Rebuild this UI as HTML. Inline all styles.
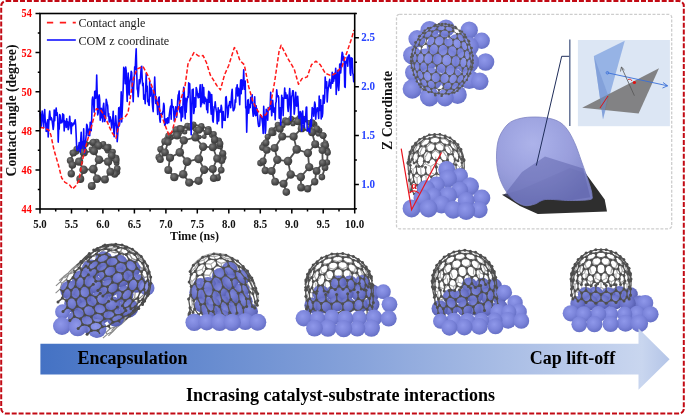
<!DOCTYPE html>
<html><head><meta charset="utf-8"><title>Figure</title>
<style>html,body{margin:0;padding:0;background:#fff;width:685px;height:415px;overflow:hidden}
svg{display:block} text{font-family:"Liberation Serif","Times New Roman",serif}</style></head>
<body>
<svg width="685" height="415" viewBox="0 0 685 415">
<defs>
<radialGradient id="sg" cx="0.42" cy="0.38" r="0.62">
<stop offset="0" stop-color="#8f98ea"/><stop offset="0.6" stop-color="#7b84da"/><stop offset="1" stop-color="#6670c6"/></radialGradient>
<radialGradient id="sgd" cx="0.42" cy="0.38" r="0.62">
<stop offset="0" stop-color="#7f88dc"/><stop offset="0.6" stop-color="#6a72c6"/><stop offset="1" stop-color="#545cae"/></radialGradient>
<radialGradient id="gg" cx="0.4" cy="0.35" r="0.65">
<stop offset="0" stop-color="#7a7a7a"/><stop offset="0.6" stop-color="#4e4e4e"/><stop offset="1" stop-color="#3a3a3a"/></radialGradient>
<linearGradient id="arr" x1="40" y1="0" x2="670" y2="0" gradientUnits="userSpaceOnUse">
<stop offset="0" stop-color="#4472c4"/><stop offset="0.5" stop-color="#86a2da"/><stop offset="0.955" stop-color="#c9d6ef"/><stop offset="1" stop-color="#b3c4e7"/></linearGradient>
<radialGradient id="drop" cx="0.38" cy="0.3" r="0.75">
<stop offset="0" stop-color="#aab0ea"/><stop offset="0.55" stop-color="#959bdb"/><stop offset="1" stop-color="#7a80c6"/></radialGradient>
</defs>
<rect width="685" height="415" fill="#fff"/>
<rect x="1.2" y="1" width="682.6" height="412.6" rx="5" fill="none" stroke="#c20a14" stroke-width="2" stroke-dasharray="5 1.9"/>
<path d="M91 149L94.2 145.7M99.1 147.2L103.6 146.6M99.1 147.2L94.2 145.7M107.3 150.8L111.4 153.2M107.3 150.8L103.6 146.6M112.3 158.7L111.4 153.2" stroke="#505050" stroke-width="1.62" fill="none"/><path d="M76.4 152.1L76.4 149M72.6 152.8L76.4 149M72.6 152.8L73.4 153.1M70.3 160.6L73.4 153.1M70.3 160.6L72.4 165M71.3 173.7L72.4 165M83.9 147.9L85.8 144.2M81.9 144.5L85.8 144.2M81.9 144.5L84.8 143.6M81.9 144.5L76.4 149M80 148.4L84.8 143.6M80 148.4L83.8 152.4M80 148.4L73.4 153.1M79.1 161.7L83.8 152.4M79.1 161.7L83.6 169.8M79.1 161.7L72.4 165M80.3 178.9L83.6 169.8M92.1 142.9L94.2 145.7M92.1 142.9L96.5 141.8M92.1 142.9L85.8 144.2M93.3 142.2L96.5 141.8M93.3 142.2L98.5 145.5M93.3 142.2L84.8 143.6M93.9 151.1L98.5 145.5M93.9 151.1L99 159.8M93.9 151.1L83.8 152.4M93.3 169.2L99 159.8M93.3 169.2L97 178.7M93.3 169.2L83.6 169.8M91.8 185.9L97 178.7M103.3 144L103.6 146.6M103.3 144L108.4 146.9M103.3 144L96.5 141.8M107 148L108.4 146.9M107 148L111.6 155.6M107 148L98.5 145.5M108.1 161.7L111.6 155.6M108.1 161.7L110.4 171.7M108.1 161.7L99 159.8M104.9 179.4L110.4 171.7M104.9 179.4L97 178.7M112.9 151.8L111.4 153.2M112.9 151.8L116.2 157.8M112.9 151.8L108.4 146.9M116.2 160.1L116.2 157.8M116.2 160.1L117.2 168.6M116.2 160.1L111.6 155.6M114.7 174L117.2 168.6M114.7 174L110.4 171.7M116.6 163.1L116.2 157.8M117.1 172.2L117.2 168.6" stroke="#505050" stroke-width="1.8" fill="none"/><g fill="url(#gg)"><circle cx="91" cy="149" r="2.4"/><circle cx="99.1" cy="147.2" r="2.5"/><circle cx="94.2" cy="145.7" r="2.5"/><circle cx="83.9" cy="147.9" r="2.5"/><circle cx="112.3" cy="158.7" r="2.5"/><circle cx="107.3" cy="150.8" r="2.6"/><circle cx="76.4" cy="152.1" r="2.7"/><circle cx="103.6" cy="146.6" r="2.7"/><circle cx="111.4" cy="153.2" r="2.7"/><circle cx="85.8" cy="144.2" r="2.8"/><circle cx="92.1" cy="142.9" r="2.8"/><circle cx="116.6" cy="163.1" r="2.9"/><circle cx="76.4" cy="149" r="3"/><circle cx="103.3" cy="144" r="3"/><circle cx="112.9" cy="151.8" r="3"/><circle cx="81.9" cy="144.5" r="3.1"/><circle cx="96.5" cy="141.8" r="3.1"/><circle cx="117.1" cy="172.2" r="3.1"/><circle cx="72.6" cy="152.8" r="3.1"/><circle cx="116.2" cy="157.8" r="3.1"/><circle cx="108.4" cy="146.9" r="3.2"/><circle cx="84.8" cy="143.6" r="3.4"/><circle cx="117.2" cy="168.6" r="3.4"/><circle cx="93.3" cy="142.2" r="3.5"/><circle cx="116.2" cy="160.1" r="3.5"/><circle cx="73.4" cy="153.1" r="3.5"/><circle cx="70.3" cy="160.6" r="3.5"/><circle cx="107" cy="148" r="3.6"/><circle cx="114.7" cy="174" r="3.7"/><circle cx="71.3" cy="173.7" r="3.7"/><circle cx="80" cy="148.4" r="3.7"/><circle cx="98.5" cy="145.5" r="3.8"/><circle cx="111.6" cy="155.6" r="3.8"/><circle cx="72.4" cy="165" r="3.8"/><circle cx="91.8" cy="185.9" r="4"/><circle cx="110.4" cy="171.7" r="4"/><circle cx="80.3" cy="178.9" r="4"/><circle cx="104.9" cy="179.4" r="4"/><circle cx="83.8" cy="152.4" r="4.1"/><circle cx="108.1" cy="161.7" r="4.1"/><circle cx="93.9" cy="151.1" r="4.1"/><circle cx="79.1" cy="161.7" r="4.1"/><circle cx="97" cy="178.7" r="4.2"/><circle cx="83.6" cy="169.8" r="4.3"/><circle cx="99" cy="159.8" r="4.3"/><circle cx="93.3" cy="169.2" r="4.4"/></g>
<path d="M184.8 132L189.2 128.1M184.8 132L179.2 133.9M195.4 129.2L195.4 133.8M195.4 129.2L189.2 128.1M199.4 137.1L204.3 136.7M199.4 137.1L195.4 133.8M206.2 132.6L204.3 136.7M206.2 132.6L211.8 135.2M213.8 141.3L217.3 146.2M213.8 141.3L211.8 135.2" stroke="#505050" stroke-width="1.62" fill="none"/><path d="M158.8 157.2L160.5 149.2M158.8 157.2L160.2 159.4M166.9 138.9L170.6 137.1M166.9 138.9L168.5 135.6M164.7 141.4L168.5 135.6M164.7 141.4L168 142.1M164.7 141.4L160.5 149.2M165 152.4L168 142.1M165 152.4L170 157.8M165 152.4L160.2 159.4M168.3 169.9L170 157.8M168.3 169.9L174.3 177.2M176.1 132.2L179.2 133.9M176.1 132.2L179.5 128M176.1 132.2L170.6 137.1M175.8 129.5L179.5 128M175.8 129.5L181 128.9M175.8 129.5L168.5 135.6M177 135.6L181 128.9M177 135.6L183.8 140.4M177 135.6L168 142.1M179.8 152.4L183.8 140.4M179.8 152.4L187.1 161.6M179.8 152.4L170 157.8M183.2 174.3L187.1 161.6M183.2 174.3L189.2 182.6M183.2 174.3L174.3 177.2M187.3 125.7L189.2 128.1M187.3 125.7L193.4 124.6M187.3 125.7L179.5 128M191.1 126.2L193.4 124.6M191.1 126.2L198.7 130M191.1 126.2L181 128.9M195.5 137.4L198.7 130M195.5 137.4L203.1 146.7M195.5 137.4L183.8 140.4M198.7 158.9L203.1 146.7M198.7 158.9L204.2 169.7M198.7 158.9L187.1 161.6M198.6 180.8L204.2 169.7M198.6 180.8L189.2 182.6M195.4 129.2L201.3 128.4M201.4 126.2L201.3 128.4M201.4 126.2L208.4 129.2M201.4 126.2L193.4 124.6M208 131.5L208.4 129.2M208 131.5L214.7 139.6M208 131.5L198.7 130M212.8 147.3L214.7 139.6M212.8 147.3L217.1 158.5M212.8 147.3L203.1 146.7M212.8 168.9L217.1 158.5M212.8 168.9L213.7 178.2M212.8 168.9L204.2 169.7M206.2 132.6L201.3 128.4M213.8 134L211.8 135.2M213.8 134L218.9 140.5M213.8 134L208.4 129.2M220 143.7L218.9 140.5M220 143.7L222.9 153.4M220 143.7L214.7 139.6M221.7 160.4L222.9 153.4M221.7 160.4L221.2 170.1M221.7 160.4L217.1 158.5M217.4 177.7L221.2 170.1M217.4 177.7L213.7 178.2M220.2 146.4L217.3 146.2M220.2 146.4L222 154M220.2 146.4L218.9 140.5M223.4 157.6L222 154M223.4 157.6L222.9 153.4" stroke="#505050" stroke-width="1.8" fill="none"/><g fill="url(#gg)"><circle cx="199.4" cy="137.1" r="2.3"/><circle cx="195.4" cy="133.8" r="2.4"/><circle cx="204.3" cy="136.7" r="2.4"/><circle cx="184.8" cy="132" r="2.5"/><circle cx="179.2" cy="133.9" r="2.5"/><circle cx="213.8" cy="141.3" r="2.6"/><circle cx="195.4" cy="129.2" r="2.6"/><circle cx="217.3" cy="146.2" r="2.6"/><circle cx="206.2" cy="132.6" r="2.6"/><circle cx="189.2" cy="128.1" r="2.7"/><circle cx="170.6" cy="137.1" r="2.7"/><circle cx="211.8" cy="135.2" r="2.7"/><circle cx="176.1" cy="132.2" r="2.8"/><circle cx="201.3" cy="128.4" r="2.8"/><circle cx="222" cy="154" r="2.9"/><circle cx="220.2" cy="146.4" r="2.9"/><circle cx="166.9" cy="138.9" r="2.9"/><circle cx="187.3" cy="125.7" r="3"/><circle cx="179.5" cy="128" r="3"/><circle cx="213.8" cy="134" r="3"/><circle cx="223.4" cy="157.6" r="3.1"/><circle cx="201.4" cy="126.2" r="3.1"/><circle cx="218.9" cy="140.5" r="3.1"/><circle cx="193.4" cy="124.6" r="3.2"/><circle cx="168.5" cy="135.6" r="3.2"/><circle cx="160.5" cy="149.2" r="3.2"/><circle cx="208.4" cy="129.2" r="3.2"/><circle cx="175.8" cy="129.5" r="3.3"/><circle cx="158.8" cy="157.2" r="3.3"/><circle cx="222.9" cy="153.4" r="3.4"/><circle cx="220" cy="143.7" r="3.4"/><circle cx="221.2" cy="170.1" r="3.4"/><circle cx="164.7" cy="141.4" r="3.4"/><circle cx="217.4" cy="177.7" r="3.5"/><circle cx="191.1" cy="126.2" r="3.5"/><circle cx="160.2" cy="159.4" r="3.6"/><circle cx="181" cy="128.9" r="3.6"/><circle cx="221.7" cy="160.4" r="3.6"/><circle cx="208" cy="131.5" r="3.6"/><circle cx="214.7" cy="139.6" r="3.7"/><circle cx="168" cy="142.1" r="3.7"/><circle cx="213.7" cy="178.2" r="3.8"/><circle cx="198.7" cy="130" r="3.8"/><circle cx="165" cy="152.4" r="3.9"/><circle cx="177" cy="135.6" r="3.9"/><circle cx="217.1" cy="158.5" r="3.9"/><circle cx="212.8" cy="147.3" r="4"/><circle cx="168.3" cy="169.9" r="4"/><circle cx="212.8" cy="168.9" r="4"/><circle cx="174.3" cy="177.2" r="4.1"/><circle cx="170" cy="157.8" r="4.1"/><circle cx="195.5" cy="137.4" r="4.1"/><circle cx="198.6" cy="180.8" r="4.1"/><circle cx="189.2" cy="182.6" r="4.1"/><circle cx="183.8" cy="140.4" r="4.2"/><circle cx="203.1" cy="146.7" r="4.2"/><circle cx="204.2" cy="169.7" r="4.2"/><circle cx="183.2" cy="174.3" r="4.3"/><circle cx="179.8" cy="152.4" r="4.3"/><circle cx="198.7" cy="158.9" r="4.4"/><circle cx="187.1" cy="161.6" r="4.4"/></g>
<path d="M299.2 123L301.1 127.7M299.2 123L293 123.7M314 132.6L318.4 133.9M314 132.6L310.2 127.7" stroke="#505050" stroke-width="1.62" fill="none"/><path d="M263.8 144.4L267.6 136.8M263.8 144.4L262.4 147.6M277.8 127L282.9 125.6M277.8 127L277.8 124.8M277.8 127L273.7 133.3M271.8 130.4L277.8 124.8M271.8 130.4L271.8 132.8M271.8 130.4L267.6 136.8M266 142.7L271.8 132.8M266 142.7L266.8 150M266 142.7L262.4 147.6M263.1 161.2L266.8 150M263.1 161.2L265.3 170.5M263.1 161.2L260.5 163.1M288.9 121.7L293 123.7M288.9 121.7L291.2 118.7M288.9 121.7L282.9 125.6M285.3 120.4L291.2 118.7M285.3 120.4L287.5 121.9M285.3 120.4L277.8 124.8M280 128.9L287.5 121.9M280 128.9L282.2 136.5M280 128.9L271.8 132.8M274.6 148L282.2 136.5M274.6 148L277.3 159.8M274.6 148L266.8 150M271.6 171.1L277.3 159.8M271.6 171.1L275.1 181.7M271.6 171.1L265.3 170.5M299.2 123L303 120.3M299.4 118L303 120.3M299.4 118L303.5 119.1M299.4 118L291.2 118.7M297.7 121.4L303.5 119.1M297.7 121.4L301.6 128.4M297.7 121.4L287.5 121.9M293.6 136.6L301.6 128.4M293.6 136.6L296.7 149.4M293.6 136.6L282.2 136.5M288 161.1L296.7 149.4M288 161.1L290.7 174.5M288 161.1L277.3 159.8M283.6 183.7L290.7 174.5M283.6 183.7L286.3 192.1M283.6 183.7L275.1 181.7M309.6 123L310.2 127.7M309.6 123L314.4 124.2M309.6 123L303 120.3M312.2 122.6L314.4 124.2M312.2 122.6L316.7 128.8M312.2 122.6L303.5 119.1M312 132.3L316.7 128.8M312 132.3L315.2 144.2M312 132.3L301.6 128.4M307.9 153L315.2 144.2M307.9 153L309.2 167.1M307.9 153L296.7 149.4M300.8 177L309.2 167.1M300.8 177L301.1 187.5M300.8 177L290.7 174.5M319.5 130.3L318.4 133.9M319.5 130.3L323.5 135.5M319.5 130.3L314.4 124.2M323 135.6L323.5 135.5M323 135.6L325.6 145.4M323 135.6L316.7 128.8M322.4 150.3L325.6 145.4M322.4 150.3L322.6 162.9M322.4 150.3L315.2 144.2M316.6 170.9L322.6 162.9M316.6 170.9L314.7 181.7M316.6 170.9L309.2 167.1M307.6 188.7L314.7 181.7M307.6 188.7L301.1 187.5M325.4 143.2L323.1 144.8M325.4 143.2L327.1 150.6M325.4 143.2L323.5 135.5M327.7 152.5L327.1 150.6M327.7 152.5L327 162.5M327.7 152.5L325.6 145.4M325 167.7L327 162.5M325 167.7L321.9 177.1M325 167.7L322.6 162.9" stroke="#505050" stroke-width="1.8" fill="none"/><g fill="url(#gg)"><circle cx="301.1" cy="127.7" r="2.4"/><circle cx="314" cy="132.6" r="2.5"/><circle cx="310.2" cy="127.7" r="2.6"/><circle cx="293" cy="123.7" r="2.6"/><circle cx="299.2" cy="123" r="2.6"/><circle cx="323.1" cy="144.8" r="2.7"/><circle cx="318.4" cy="133.9" r="2.7"/><circle cx="273.7" cy="133.3" r="2.7"/><circle cx="282.9" cy="125.6" r="2.7"/><circle cx="288.9" cy="121.7" r="2.8"/><circle cx="309.6" cy="123" r="2.8"/><circle cx="277.8" cy="127" r="2.8"/><circle cx="303" cy="120.3" r="2.8"/><circle cx="325.4" cy="143.2" r="2.9"/><circle cx="319.5" cy="130.3" r="2.9"/><circle cx="327.1" cy="150.6" r="3"/><circle cx="267.6" cy="136.8" r="3"/><circle cx="263.8" cy="144.4" r="3"/><circle cx="314.4" cy="124.2" r="3"/><circle cx="291.2" cy="118.7" r="3"/><circle cx="323.5" cy="135.5" r="3.1"/><circle cx="299.4" cy="118" r="3.1"/><circle cx="277.8" cy="124.8" r="3.1"/><circle cx="271.8" cy="130.4" r="3.2"/><circle cx="327" cy="162.5" r="3.2"/><circle cx="327.7" cy="152.5" r="3.2"/><circle cx="285.3" cy="120.4" r="3.2"/><circle cx="262.4" cy="147.6" r="3.3"/><circle cx="321.9" cy="177.1" r="3.3"/><circle cx="312.2" cy="122.6" r="3.3"/><circle cx="260.5" cy="163.1" r="3.3"/><circle cx="303.5" cy="119.1" r="3.4"/><circle cx="323" cy="135.6" r="3.4"/><circle cx="325" cy="167.7" r="3.4"/><circle cx="325.6" cy="145.4" r="3.5"/><circle cx="271.8" cy="132.8" r="3.5"/><circle cx="266" cy="142.7" r="3.5"/><circle cx="316.7" cy="128.8" r="3.5"/><circle cx="287.5" cy="121.9" r="3.6"/><circle cx="263.1" cy="161.2" r="3.6"/><circle cx="297.7" cy="121.4" r="3.6"/><circle cx="307.6" cy="188.7" r="3.7"/><circle cx="314.7" cy="181.7" r="3.7"/><circle cx="265.3" cy="170.5" r="3.7"/><circle cx="280" cy="128.9" r="3.7"/><circle cx="322.6" cy="162.9" r="3.7"/><circle cx="286.3" cy="192.1" r="3.8"/><circle cx="266.8" cy="150" r="3.8"/><circle cx="322.4" cy="150.3" r="3.8"/><circle cx="312" cy="132.3" r="3.9"/><circle cx="301.1" cy="187.5" r="3.9"/><circle cx="275.1" cy="181.7" r="3.9"/><circle cx="316.6" cy="170.9" r="3.9"/><circle cx="301.6" cy="128.4" r="3.9"/><circle cx="271.6" cy="171.1" r="4"/><circle cx="315.2" cy="144.2" r="4"/><circle cx="283.6" cy="183.7" r="4"/><circle cx="282.2" cy="136.5" r="4"/><circle cx="274.6" cy="148" r="4"/><circle cx="293.6" cy="136.6" r="4.1"/><circle cx="300.8" cy="177" r="4.2"/><circle cx="309.2" cy="167.1" r="4.2"/><circle cx="277.3" cy="159.8" r="4.2"/><circle cx="307.9" cy="153" r="4.2"/><circle cx="290.7" cy="174.5" r="4.2"/><circle cx="296.7" cy="149.4" r="4.3"/><circle cx="288" cy="161.1" r="4.3"/></g>
<polyline fill="none" stroke="#0a0aff" stroke-width="1.6" stroke-linejoin="round" points="40.2,112.1 40.7,119.3 41.2,126.2 41.7,119.1 42.2,111 42.7,116 43.2,121.5 43.7,127.8 44.2,115.1 44.7,109.5 45.2,120.5 45.7,123.3 46.2,131.5 46.7,131.1 47.2,123.8 47.7,119.7 48.2,137 48.7,124.9 49.2,116.7 49.7,111.1 50.2,117.1 50.7,119.8 51.2,117.6 51.7,118.6 52.2,121.3 52.7,125.2 53.2,129.5 53.7,125.2 54.2,110 54.7,120.7 55.2,110.6 55.7,115.1 56.2,108 56.7,115.2 57.2,112.8 57.7,118.6 58.2,142.1 58.7,128.5 59.2,129.2 59.7,114.6 60.2,115.8 60.7,122.9 61.2,120.5 61.7,122.8 62.2,121.8 62.7,113.7 63.2,121.4 63.7,114.9 64.2,131 64.7,120.9 65.2,125.2 65.7,122.1 66.2,127.5 66.7,118.8 67.2,126.6 67.7,121.7 68.2,129.6 68.7,128.3 69.2,124.3 69.7,116.2 70.2,123.9 70.7,124.9 71.2,133.7 71.7,122.8 72.2,125.1 72.7,125.7 73.2,124.3 73.7,123.2 74.2,123.9 74.7,121.5 75.2,119.7 75.7,125.3 76.2,136.2 76.7,148.5 77.2,150.4 77.7,150.5 78.2,148.5 78.7,146.9 79.2,142.5 79.7,144.6 80.2,152.2 80.7,140.1 81.2,132.3 81.7,148.3 82.2,141.8 82.7,144.4 83.2,144.5 83.7,128.8 84.2,149.9 84.7,153.1 85.2,141.4 85.7,140.6 86.2,134.9 86.7,124.3 87.2,125.5 87.7,129.2 88.2,135.8 88.7,134.8 89.2,129 89.7,135.7 90.2,122.4 90.7,127.9 91.2,130.7 91.7,118.7 92.2,100.1 92.7,97 93.2,102.5 93.7,104.9 94.2,112.2 94.7,91.4 95.2,91.2 95.7,98.2 96.2,94.6 96.7,75.1 97.2,94.4 97.7,114.9 98.2,112.8 98.7,96.7 99.2,94.9 99.7,99.8 100.2,120.2 100.7,114.1 101.2,108.2 101.7,117.8 102.2,109.2 102.7,121.7 103.2,107.1 103.7,103.4 104.2,112 104.7,121.5 105.2,119.8 105.7,116.8 106.2,99.4 106.7,101.7 107.2,104 107.7,106 108.2,116.3 108.7,113.6 109.2,122 109.7,120.3 110.2,116.8 110.7,119.2 111.2,122.9 111.7,128 112.2,120.3 112.7,119.5 113.2,111.2 113.7,129.9 114.2,136.6 114.7,127.9 115.2,122.8 115.7,115.9 116.2,123.2 116.7,126.7 117.2,141.6 117.7,135.1 118.2,125.1 118.7,107.9 119.2,126 119.7,123.7 120.2,106.8 120.7,108.7 121.2,91.9 121.7,122 122.2,111.8 122.7,99.7 123.2,87.5 123.7,67.4 124.2,76.8 124.7,68.7 125.2,83.7 125.7,67.1 126.2,70.9 126.7,90.2 127.2,101.5 127.7,83.1 128.2,73.1 128.7,88.8 129.2,95 129.7,83 130.2,80 130.7,77.5 131.2,71.4 131.7,72.3 132.2,88.6 132.7,89.5 133.2,101.6 133.7,86.2 134.2,78.7 134.7,66.8 135.2,69.5 135.7,57.8 136.2,48.9 136.7,71.6 137.2,88.7 137.7,90.6 138.2,96.7 138.7,90.1 139.2,79.7 139.7,83.7 140.2,81.8 140.7,74.8 141.2,67.2 141.7,66.3 142.2,79 142.7,85.7 143.2,83.3 143.7,99.1 144.2,94.9 144.7,97 145.2,103.7 145.7,89 146.2,73.5 146.7,91.1 147.2,86 147.7,101.6 148.2,99.7 148.7,105 149.2,105.3 149.7,81.2 150.2,96.1 150.7,90.4 151.2,87.8 151.7,90 152.2,101.6 152.7,107.6 153.2,111.6 153.7,90.4 154.2,91.6 154.7,77 155.2,91.3 155.7,103.4 156.2,96.9 156.7,103.3 157.2,106.2 157.7,114.5 158.2,102.3 158.7,97.8 159.2,97 159.7,118.8 160.2,122.2 160.7,113.7 161.2,113.8 161.7,113.4 162.2,114.5 162.7,112.1 163.2,110.6 163.7,103.3 164.2,105.8 164.7,125.3 165.2,124.9 165.7,121.6 166.2,118.7 166.7,120.1 167.2,123.4 167.7,117.9 168.2,121.7 168.7,122.7 169.2,115.5 169.7,111.8 170.2,108.3 170.7,106 171.2,119.3 171.7,99.6 172.2,107.1 172.7,107 173.2,106.5 173.7,111.4 174.2,121 174.7,116.2 175.2,112.2 175.7,106.8 176.2,108.2 176.7,117.2 177.2,109.8 177.7,100.3 178.2,95.2 178.7,94.1 179.2,91 179.7,111.2 180.2,112.6 180.7,107.7 181.2,120.9 181.7,106.7 182.2,113.8 182.7,117 183.2,96 183.7,87.2 184.2,89.4 184.7,107.7 185.2,118.7 185.7,98.2 186.2,112.3 186.7,103.5 187.2,99.7 187.7,96.5 188.2,97.3 188.7,82.9 189.2,85.1 189.7,83.7 190.2,99.5 190.7,120.6 191.2,134.8 191.7,111.7 192.2,89.7 192.7,92.8 193.2,89.1 193.7,113.5 194.2,110.6 194.7,97.9 195.2,107.1 195.7,107.1 196.2,87.5 196.7,89.2 197.2,92.2 197.7,95.6 198.2,97.8 198.7,93.9 199.2,97.3 199.7,90.6 200.2,84.8 200.7,106.8 201.2,104.2 201.7,104 202.2,84.5 202.7,90.6 203.2,102.4 203.7,87.5 204.2,103.8 204.7,96.8 205.2,101.2 205.7,98.4 206.2,100.4 206.7,109.8 207.2,99.9 207.7,112.7 208.2,98.2 208.7,91.4 209.2,102.2 209.7,92.4 210.2,94.5 210.7,106.3 211.2,114.1 211.7,94.6 212.2,105.2 212.7,120.6 213.2,122.1 213.7,112.5 214.2,106.6 214.7,107.2 215.2,101.8 215.7,106.9 216.2,110.2 216.7,112.5 217.2,123.8 217.7,118.7 218.2,107.8 218.7,120.9 219.2,110.2 219.7,110.2 220.2,112.1 220.7,111 221.2,105.2 221.7,108.2 222.2,127.7 222.7,113.7 223.2,111.5 223.7,120 224.2,120.2 224.7,120.1 225.2,120.4 225.7,97.6 226.2,96.7 226.7,103.9 227.2,109.3 227.7,117.5 228.2,113.6 228.7,105.9 229.2,104.6 229.7,101.6 230.2,103.7 230.7,107.7 231.2,100.3 231.7,93 232.2,89.2 232.7,103.7 233.2,110.7 233.7,110.6 234.2,109 234.7,107.8 235.2,99.7 235.7,102.2 236.2,87.7 236.7,89.2 237.2,84.7 237.7,95.9 238.2,88.2 238.7,89.1 239.2,94 239.7,104.8 240.2,88.4 240.7,80.1 241.2,93.6 241.7,79.9 242.2,89.5 242.7,82.9 243.2,85.1 243.7,69.8 244.2,89.3 244.7,85.8 245.2,81.1 245.7,108.1 246.2,106.4 246.7,132.2 247.2,114.1 247.7,100.4 248.2,99.6 248.7,113.2 249.2,104.6 249.7,105.8 250.2,107.6 250.7,97.2 251.2,102.9 251.7,100.8 252.2,94.8 252.7,110.7 253.2,116.3 253.7,114.7 254.2,107.2 254.7,96.7 255.2,112.8 255.7,115.7 256.2,105.9 256.7,115.1 257.2,109 257.7,118.5 258.2,123.6 258.7,126.4 259.2,126.2 259.7,125.5 260.2,115.5 260.7,116.6 261.2,115.8 261.7,117.2 262.2,121.1 262.7,124.9 263.2,133.4 263.7,106.2 264.2,116.5 264.7,115.9 265.2,133.3 265.7,130.1 266.2,109.2 266.7,115.8 267.2,111 267.7,120.3 268.2,107.6 268.7,109.6 269.2,109.7 269.7,109.6 270.2,105.1 270.7,92.3 271.2,106 271.7,115.7 272.2,110.3 272.7,100.2 273.2,106.6 273.7,112.2 274.2,108.2 274.7,108 275.2,119.8 275.7,103.4 276.2,101.6 276.7,89.8 277.2,95 277.7,96.8 278.2,95.8 278.7,97.5 279.2,118.2 279.7,110.5 280.2,107.9 280.7,125 281.2,113.6 281.7,95.3 282.2,105 282.7,97.7 283.2,115.6 283.7,98.9 284.2,97.4 284.7,88.1 285.2,98.2 285.7,92.7 286.2,98.2 286.7,97.5 287.2,95 287.7,106.9 288.2,111.4 288.7,105.6 289.2,94.7 289.7,88.6 290.2,97.9 290.7,120.5 291.2,105.4 291.7,96.9 292.2,94.7 292.7,90.8 293.2,90.7 293.7,97.5 294.2,114.2 294.7,109.3 295.2,103.5 295.7,92.4 296.2,103.4 296.7,106.2 297.2,98 297.7,96.2 298.2,104.3 298.7,116.3 299.2,118.4 299.7,116.2 300.2,111.5 300.7,114.9 301.2,114 301.7,131 302.2,112.3 302.7,111.1 303.2,123.5 303.7,117 304.2,127.6 304.7,120.9 305.2,120 305.7,116 306.2,107.2 306.7,107.1 307.2,130.9 307.7,129.2 308.2,128.4 308.7,130.9 309.2,129.4 309.7,132.4 310.2,123.9 310.7,119.8 311.2,126.4 311.7,118.6 312.2,107.6 312.7,110.7 313.2,108.9 313.7,116.2 314.2,108.5 314.7,102.1 315.2,104.4 315.7,119.3 316.2,112.2 316.7,110.4 317.2,107.8 317.7,108.4 318.2,113.2 318.7,118.4 319.2,96.1 319.7,110.5 320.2,105 320.7,99.9 321.2,118.9 321.7,105.8 322.2,116.9 322.7,113.1 323.2,95.4 323.7,99.9 324.2,103.2 324.7,97.3 325.2,77.1 325.7,84.3 326.2,87.9 326.7,81.7 327.2,102 327.7,93.4 328.2,88.3 328.7,86.6 329.2,81.6 329.7,79.3 330.2,84.8 330.7,88.2 331.2,82.6 331.7,83.1 332.2,72.4 332.7,83.1 333.2,76.5 333.7,81.3 334.2,73.5 334.7,73.1 335.2,78.5 335.7,68.3 336.2,94.5 336.7,83.5 337.2,78.4 337.7,70.2 338.2,86.3 338.7,90.5 339.2,82.4 339.7,64.3 340.2,64 340.7,72.9 341.2,66 341.7,56.8 342.2,52.4 342.7,53.7 343.2,60.5 343.7,56.8 344.2,60.6 344.7,86.7 345.2,87.4 345.7,61.4 346.2,63.1 346.7,60.8 347.2,57.2 347.7,66.2 348.2,57.3 348.7,55.3 349.2,55 349.7,58.2 350.2,73.1 350.7,75.2 351.2,57.8 351.7,59.8 352.2,58.4 352.7,73 353.2,74.5 353.7,81.7 354.2,77.2"/>
<polyline fill="none" stroke="#ff1a1a" stroke-width="1.5" stroke-dasharray="4.2 2.1" stroke-linejoin="round" points="40,127.6 44,128 48.7,130 50.8,134.7 54,150 58.4,165 61.7,178 65,182.4 69.3,184.6 72.5,189 75.8,185.7 79,180.3 82.3,160.7 86.6,143.4 91,128 94.2,116.3 96.4,108.7 100.7,110 105,116.7 111.6,132 116,138 120,119.6 125,117 128,113 133,79.8 137,69 143,66.5 148,75.8 152,86.4 157,101 162,117 165,124.9 169,135.5 172,131.5 176,117 180,102 185,86.4 188,63.9 190,60 193.9,52.6 198.5,56 203.1,55.6 206.5,62.8 210.3,75 216.9,85.6 220.4,89.9 224.6,74.6 228.8,65.3 234.3,47.6 236,49 239.9,60.4 244.3,64.7 248.6,86.4 252.9,101.6 257.3,110 262,117 266,114.5 270.3,106 274.6,82 279,51.7 281.1,45.2 287.7,58.2 294.2,69 298.5,84.3 302,78.6 307.2,76.9 311.5,64.7 315.9,61.2 320.2,64.7 325.4,73.4 331,75.6 335.4,73.4 341.9,66.9 347.1,51.7 351.5,38.7 354,30"/>
<rect x="40.0" y="13.5" width="314.7" height="195.5" fill="none" stroke="#000" stroke-width="1.6"/>
<path d="M40.0 209h-4.5M40.0 189.4h-2.2M40.0 169.9h-4.5M40.0 150.3h-2.2M40.0 130.8h-4.5M40.0 111.2h-2.2M40.0 91.7h-4.5M40.0 72.2h-2.2M40.0 52.6h-4.5M40.0 33.1h-2.2M40.0 13.5h-4.5M40 209.0v4.5M55.7 209.0v2.4M71.5 209.0v4.5M87.2 209.0v2.4M102.9 209.0v4.5M118.7 209.0v2.4M134.4 209.0v4.5M150.1 209.0v2.4M165.9 209.0v4.5M181.6 209.0v2.4M197.3 209.0v4.5M213.1 209.0v2.4M228.8 209.0v4.5M244.6 209.0v2.4M260.3 209.0v4.5M276 209.0v2.4M291.8 209.0v4.5M307.5 209.0v2.4M323.2 209.0v4.5M339 209.0v2.4M354.7 209.0v4.5M354.7 208.8h2.2M354.7 184.4h4.2M354.7 160h2.2M354.7 135.6h4.2M354.7 111.1h2.2M354.7 86.7h4.2M354.7 62.3h2.2M354.7 37.8h4.2M354.7 13.4h2.2" stroke="#000" stroke-width="1.5" fill="none"/>
<text x="31.8" y="212.9" text-anchor="end" font-size="13.2" font-weight="bold" fill="#ff0000" textLength="10.3" lengthAdjust="spacingAndGlyphs">44</text>
<text x="31.8" y="173.8" text-anchor="end" font-size="13.2" font-weight="bold" fill="#ff0000" textLength="10.3" lengthAdjust="spacingAndGlyphs">46</text>
<text x="31.8" y="134.7" text-anchor="end" font-size="13.2" font-weight="bold" fill="#ff0000" textLength="10.3" lengthAdjust="spacingAndGlyphs">48</text>
<text x="31.8" y="95.6" text-anchor="end" font-size="13.2" font-weight="bold" fill="#ff0000" textLength="10.3" lengthAdjust="spacingAndGlyphs">50</text>
<text x="31.8" y="56.5" text-anchor="end" font-size="13.2" font-weight="bold" fill="#ff0000" textLength="10.3" lengthAdjust="spacingAndGlyphs">52</text>
<text x="31.8" y="17.4" text-anchor="end" font-size="13.2" font-weight="bold" fill="#ff0000" textLength="10.3" lengthAdjust="spacingAndGlyphs">54</text>
<text x="361.2" y="188" font-size="12" font-weight="bold" fill="#2a45ff" textLength="13.8" lengthAdjust="spacingAndGlyphs">1.0</text>
<text x="361.2" y="139.2" font-size="12" font-weight="bold" fill="#2a45ff" textLength="13.8" lengthAdjust="spacingAndGlyphs">1.5</text>
<text x="361.2" y="90.3" font-size="12" font-weight="bold" fill="#2a45ff" textLength="13.8" lengthAdjust="spacingAndGlyphs">2.0</text>
<text x="361.2" y="41.4" font-size="12" font-weight="bold" fill="#2a45ff" textLength="13.8" lengthAdjust="spacingAndGlyphs">2.5</text>
<text x="40" y="227.6" text-anchor="middle" font-size="12" font-weight="bold" fill="#111" textLength="13.5" lengthAdjust="spacingAndGlyphs">5.0</text>
<text x="71.5" y="227.6" text-anchor="middle" font-size="12" font-weight="bold" fill="#111" textLength="13.5" lengthAdjust="spacingAndGlyphs">5.5</text>
<text x="102.9" y="227.6" text-anchor="middle" font-size="12" font-weight="bold" fill="#111" textLength="13.5" lengthAdjust="spacingAndGlyphs">6.0</text>
<text x="134.4" y="227.6" text-anchor="middle" font-size="12" font-weight="bold" fill="#111" textLength="13.5" lengthAdjust="spacingAndGlyphs">6.5</text>
<text x="165.9" y="227.6" text-anchor="middle" font-size="12" font-weight="bold" fill="#111" textLength="13.5" lengthAdjust="spacingAndGlyphs">7.0</text>
<text x="197.3" y="227.6" text-anchor="middle" font-size="12" font-weight="bold" fill="#111" textLength="13.5" lengthAdjust="spacingAndGlyphs">7.5</text>
<text x="228.8" y="227.6" text-anchor="middle" font-size="12" font-weight="bold" fill="#111" textLength="13.5" lengthAdjust="spacingAndGlyphs">8.0</text>
<text x="260.3" y="227.6" text-anchor="middle" font-size="12" font-weight="bold" fill="#111" textLength="13.5" lengthAdjust="spacingAndGlyphs">8.5</text>
<text x="291.8" y="227.6" text-anchor="middle" font-size="12" font-weight="bold" fill="#111" textLength="13.5" lengthAdjust="spacingAndGlyphs">9.0</text>
<text x="323.2" y="227.6" text-anchor="middle" font-size="12" font-weight="bold" fill="#111" textLength="13.5" lengthAdjust="spacingAndGlyphs">9.5</text>
<text x="354.7" y="227.6" text-anchor="middle" font-size="12" font-weight="bold" fill="#111" textLength="19.2" lengthAdjust="spacingAndGlyphs">10.0</text>
<text x="194.5" y="239.5" text-anchor="middle" font-size="12" font-weight="bold" fill="#111">Time (ns)</text>
<text transform="translate(16.4 110.5) rotate(-90)" text-anchor="middle" font-size="13.7" font-weight="bold" fill="#111" textLength="132" lengthAdjust="spacingAndGlyphs">Contact angle (degree)</text>
<text transform="translate(392 110.4) rotate(-90)" text-anchor="middle" font-size="13.8" font-weight="bold" fill="#111" textLength="79" lengthAdjust="spacingAndGlyphs">Z Coordinate</text>
<path d="M46.9 22.6H75.8" stroke="#ff1a1a" stroke-width="1.6" stroke-dasharray="6.3 6.6"/>
<path d="M46.9 40H75.8" stroke="#2020ff" stroke-width="1.7"/>
<text x="78.4" y="27.4" font-size="13.5" fill="#1a1a1a" textLength="67" lengthAdjust="spacingAndGlyphs">Contact angle</text>
<text x="78.4" y="44.8" font-size="13.5" fill="#1a1a1a" textLength="90.8" lengthAdjust="spacingAndGlyphs">COM z coordinate</text>
<rect x="396.5" y="14.3" width="275.2" height="214.5" rx="3" fill="none" stroke="#cdcdcd" stroke-width="1.3" stroke-dasharray="3 1.6"/>
<circle cx="446" cy="28.2" r="8.7" fill="url(#sg)"/><circle cx="429.6" cy="30.2" r="9.2" fill="url(#sg)"/><circle cx="469.2" cy="30.2" r="8.7" fill="url(#sg)"/><circle cx="417.1" cy="38.8" r="8.7" fill="url(#sg)"/><circle cx="481.7" cy="40.8" r="8.2" fill="url(#sg)"/><circle cx="438.3" cy="45.6" r="11.6" fill="url(#sg)"/><circle cx="457.6" cy="45.6" r="11.6" fill="url(#sg)"/><circle cx="469.2" cy="46.6" r="9.7" fill="url(#sg)"/><circle cx="412.3" cy="55.2" r="9.2" fill="url(#sg)"/><circle cx="425.8" cy="60.1" r="11.6" fill="url(#sg)"/><circle cx="485.6" cy="62" r="8.7" fill="url(#sg)"/><circle cx="447" cy="62" r="12.6" fill="url(#sg)"/><circle cx="467.3" cy="62" r="11.6" fill="url(#sg)"/><circle cx="414.2" cy="72.6" r="9.2" fill="url(#sg)"/><circle cx="430.6" cy="79.4" r="11.6" fill="url(#sg)"/><circle cx="451.8" cy="79.4" r="11.6" fill="url(#sg)"/><circle cx="469.2" cy="79.4" r="9.7" fill="url(#sg)"/><circle cx="479.8" cy="81.3" r="8.7" fill="url(#sg)"/><circle cx="412.3" cy="89" r="9.7" fill="url(#sg)"/><circle cx="457.6" cy="94.8" r="9.2" fill="url(#sg)"/><circle cx="429.6" cy="96.7" r="9.7" fill="url(#sg)"/><circle cx="445.1" cy="97.7" r="8.7" fill="url(#sg)"/>
<path d="M410.9 61.1L411.2 56.9M410.9 61.1L411.4 63.2M411.7 67.7L411.4 63.2M411.7 67.7L413 70.4M413.8 74.7L413 70.4M413.8 74.7L415.7 77.8M416.9 81.4L415.7 77.8M416.9 81.4L419.3 84.4M420.7 87L419.3 84.4M420.7 87L423.5 89.5M411.9 54.1L412.7 49.8M411.9 54.1L412.8 55.9M411.9 54.1L411.2 56.9M412.5 60.9L412.8 55.9M412.5 60.9L414.3 63.5M412.5 60.9L411.4 63.2M414.4 68.7L414.3 63.5M414.4 68.7L417 71.8M414.4 68.7L413 70.4M417.5 76.7L417 71.8M417.5 76.7L420.5 79.9M417.5 76.7L415.7 77.8M421.2 84L420.5 79.9M421.2 84L424.5 86.9M421.2 84L419.3 84.4M425.4 89.8L424.5 86.9M425.4 89.8L428.7 92.1M425.4 89.8L423.5 89.5M415.4 42.4L415.8 42.5M414.5 46.6L415.8 42.5M414.5 46.6L415.9 47.9M414.5 46.6L412.7 49.8M415 53L415.9 47.9M415 53L417.3 55.4M415 53L412.8 55.9M416.9 61L417.3 55.4M416.9 61L419.9 64.1M416.9 61L414.3 63.5M419.8 69.8L419.9 64.1M419.8 69.8L423.3 73.2M419.8 69.8L417 71.8M423.5 78.4L423.3 73.2M423.5 78.4L427.3 81.7M423.5 78.4L420.5 79.9M427.5 86.1L427.3 81.7M427.5 86.1L431.3 88.9M427.5 86.1L424.5 86.9M431.6 91.9L431.3 88.9M431.6 91.9L435.1 93.8M431.6 91.9L428.7 92.1M435.3 95.3L435.1 93.8M419.1 36.4L419.9 35.9M418.4 39.2L419.9 35.9M418.4 39.2L420.2 40.1M418.4 39.2L415.8 42.5M419 44.7L420.2 40.1M419 44.7L421.6 46.8M419 44.7L415.9 47.9M420.8 52.4L421.6 46.8M420.8 52.4L424.2 55.3M420.8 52.4L417.3 55.4M423.7 61.4L424.2 55.3M423.7 61.4L427.6 64.8M423.7 61.4L419.9 64.1M427.3 70.9L427.6 64.8M427.3 70.9L431.4 74.4M427.3 70.9L423.3 73.2M431.2 79.9L431.4 74.4M431.2 79.9L435.3 83.1M431.2 79.9L427.3 81.7M435.1 87.6L435.3 83.1M435.1 87.6L439 90M435.1 87.6L431.3 88.9M438.7 93.2L439 90M438.7 93.2L442 94.5M438.7 93.2L435.1 93.8M441.6 95.9L442 94.5M423.1 32.9L424.7 30.6M423.1 32.9L425.2 33.1M423.1 32.9L419.9 35.9M423.8 37L425.2 33.1M423.8 37L426.8 38.5M423.8 37L420.2 40.1M425.8 43.7L426.8 38.5M425.8 43.7L429.5 46.3M425.8 43.7L421.6 46.8M428.7 52.3L429.5 46.3M428.7 52.3L432.8 55.6M428.7 52.3L424.2 55.3M432.3 62L432.8 55.6M432.3 62L436.6 65.7M432.3 62L427.6 64.8M436.1 71.9L436.6 65.7M436.1 71.9L440.5 75.4M436.1 71.9L431.4 74.4M439.9 81L440.5 75.4M439.9 81L443.9 84M439.9 81L435.3 83.1M443.2 88.4L443.9 84M443.2 88.4L446.8 90.4M443.2 88.4L439 90M445.9 93.4L446.8 90.4M445.9 93.4L448.7 94.1M445.9 93.4L442 94.5M428.1 28.2L430.4 27.9M428.1 28.2L424.7 30.6M429.2 30.5L430.4 27.9M429.2 30.5L432.3 31.5M429.2 30.5L425.2 33.1M431.3 35.7L432.3 31.5M431.3 35.7L435.1 38M431.3 35.7L426.8 38.5M434.3 43.4L435.1 38M434.3 43.4L438.6 46.5M434.3 43.4L429.5 46.3M437.9 52.7L438.6 46.5M437.9 52.7L442.4 56.4M437.9 52.7L432.8 55.6M441.7 62.9L442.4 56.4M441.7 62.9L446.1 66.6M441.7 62.9L436.6 65.7M445.4 72.9L446.1 66.6M445.4 72.9L449.5 76.2M445.4 72.9L440.5 75.4M448.6 81.7L449.5 76.2M448.6 81.7L452.1 84.2M448.6 81.7L443.9 84M451 88.5L452.1 84.2M451 88.5L453.8 89.9M451 88.5L446.8 90.4M452.4 92.6L453.8 89.9M452.4 92.6L454.3 92.6M452.4 92.6L448.7 94.1M434.4 26L435.4 24.9M434.4 26L437.6 26.5M434.4 26L430.4 27.9M436.7 29.4L437.6 26.5M436.7 29.4L440.6 31.2M436.7 29.4L432.3 31.5M439.9 35.6L440.6 31.2M439.9 35.6L444.2 38.4M439.9 35.6L435.1 38M443.6 43.9L444.2 38.4M443.6 43.9L448.1 47.5M443.6 43.9L438.6 46.5M447.5 53.7L448.1 47.5M447.5 53.7L451.8 57.5M447.5 53.7L442.4 56.4M451.1 63.9L451.8 57.5M451.1 63.9L455.2 67.6M451.1 63.9L446.1 66.6M454.2 73.6L455.2 67.6M454.2 73.6L457.7 76.6M454.2 73.6L449.5 76.2M456.5 81.7L457.7 76.6M456.5 81.7L459.1 83.8M456.5 81.7L452.1 84.2M457.6 87.6L459.1 83.8M457.6 87.6L459.4 88.4M457.6 87.6L453.8 89.9M457.5 90.7L459.4 88.4M457.5 90.7L454.3 92.6M439 24.1L442.1 24M439 24.1L435.4 24.9M441.7 25.3L442.1 24M441.7 25.3L445.4 26.6M441.7 25.3L437.6 26.5M445.1 29.6L445.4 26.6M445.1 29.6L449.1 32M445.1 29.6L440.6 31.2M448.9 36.5L449.1 32M448.9 36.5L453.2 39.8M448.9 36.5L444.2 38.4M452.9 45.2L453.2 39.8M452.9 45.2L457 49M452.9 45.2L448.1 47.5M456.6 55.1L457 49M456.6 55.1L460.4 58.9M456.6 55.1L451.8 57.5M459.6 65L460.4 58.9M459.6 65L462.8 68.4M459.6 65L455.2 67.6M461.8 74L462.8 68.4M461.8 74L464.2 76.6M461.8 74L457.7 76.6M462.7 81.2L464.2 76.6M462.7 81.2L464.2 82.6M462.7 81.2L459.1 83.8M462.4 86L464.2 82.6M462.4 86L459.4 88.4M445.6 23.9L449 24.7M445.6 23.9L442.1 24M449.2 26L449 24.7M449.2 26L453 28.1M449.2 26L445.4 26.6M453.2 31L453 28.1M453.2 31L457.2 34M453.2 31L449.1 32M457.3 38.3L457.2 34M457.3 38.3L461.2 42M457.3 38.3L453.2 39.8M461.1 47.2L461.2 42M461.1 47.2L464.6 51.1M461.1 47.2L457 49M464.3 56.7L464.6 51.1M464.3 56.7L467.1 60.4M464.3 56.7L460.4 58.9M466.4 65.9L467.1 60.4M466.4 65.9L468.4 69M466.4 65.9L462.8 68.4M467.3 74L468.4 69M467.3 74L468.4 76M467.3 74L464.2 76.6M466.8 80L468.4 76M466.8 80L464.2 82.6M452 25.4L455.4 26.9M452 25.4L449 24.7M456.2 28.2L455.4 26.9M456.2 28.2L459.7 30.8M456.2 28.2L453 28.1M460.4 33.6L459.7 30.8M460.4 33.6L463.8 37M460.4 33.6L457.2 34M464.4 41L463.8 37M464.4 41L467.4 44.8M464.4 41L461.2 42M467.6 49.6L467.4 44.8M467.6 49.6L470 53.4M467.6 49.6L464.6 51.1M469.8 58.5L470 53.4M469.8 58.5L471.4 61.8M469.8 58.5L467.1 60.4M470.7 66.7L471.4 61.8M470.7 66.7L471.4 69.2M470.7 66.7L468.4 69M470.2 73.5L471.4 69.2M470.2 73.5L468.4 76M461.9 31.6L464.8 34.6M461.9 31.6L459.7 30.8M465.9 37.2L464.8 34.6M465.9 37.2L468.4 40.7M465.9 37.2L463.8 37M469.3 44.4L468.4 40.7M469.3 44.4L471.2 48.1M469.3 44.4L467.4 44.8M471.6 52.3L471.2 48.1M471.6 52.3L472.7 55.8M471.6 52.3L470 53.4M472.7 60.2L472.7 55.8M472.7 60.2L472.8 63.1M472.7 60.2L471.4 61.8M472.2 67.2L472.8 63.1M472.2 67.2L471.4 69.2M469.1 41.4L468.4 40.7M471.6 48L471.2 48.1" stroke="#606060" stroke-width="1.0" fill="none"/><g fill="#585858"><circle cx="469.1" cy="41.4" r="1.2"/><circle cx="419.1" cy="36.4" r="1.2"/><circle cx="415.4" cy="42.4" r="1.2"/><circle cx="471.6" cy="48" r="1.2"/><circle cx="439" cy="24.1" r="1.2"/><circle cx="452" cy="25.4" r="1.2"/><circle cx="411.2" cy="56.9" r="1.2"/><circle cx="472.8" cy="63.1" r="1.2"/><circle cx="410.9" cy="61.1" r="1.2"/><circle cx="472.2" cy="67.2" r="1.2"/><circle cx="445.6" cy="23.9" r="1.2"/><circle cx="435.4" cy="24.9" r="1.2"/><circle cx="455.4" cy="26.9" r="1.2"/><circle cx="424.7" cy="30.6" r="1.2"/><circle cx="464.8" cy="34.6" r="1.2"/><circle cx="420.7" cy="87" r="1.2"/><circle cx="457.5" cy="90.7" r="1.2"/><circle cx="428.1" cy="28.2" r="1.2"/><circle cx="461.9" cy="31.6" r="1.2"/><circle cx="423.5" cy="89.5" r="1.2"/><circle cx="454.3" cy="92.6" r="1.2"/><circle cx="442.1" cy="24" r="1.2"/><circle cx="449" cy="24.7" r="1.2"/><circle cx="412.7" cy="49.8" r="1.2"/><circle cx="472.7" cy="55.8" r="1.2"/><circle cx="470.2" cy="73.5" r="1.2"/><circle cx="411.7" cy="67.7" r="1.2"/><circle cx="435.3" cy="95.3" r="1.2"/><circle cx="441.6" cy="95.9" r="1.2"/><circle cx="419.9" cy="35.9" r="1.2"/><circle cx="468.4" cy="40.7" r="1.2"/><circle cx="411.9" cy="54.1" r="1.2"/><circle cx="472.7" cy="60.2" r="1.2"/><circle cx="471.4" cy="69.2" r="1.2"/><circle cx="411.4" cy="63.2" r="1.2"/><circle cx="462.4" cy="86" r="1.2"/><circle cx="416.9" cy="81.4" r="1.2"/><circle cx="415.8" cy="42.5" r="1.2"/><circle cx="471.2" cy="48.1" r="1.2"/><circle cx="413.8" cy="74.7" r="1.2"/><circle cx="466.8" cy="80" r="1.2"/><circle cx="423.1" cy="32.9" r="1.2"/><circle cx="465.9" cy="37.2" r="1.2"/><circle cx="419.3" cy="84.4" r="1.2"/><circle cx="459.4" cy="88.4" r="1.2"/><circle cx="434.4" cy="26" r="1.2"/><circle cx="456.2" cy="28.2" r="1.2"/><circle cx="428.7" cy="92.1" r="1.2"/><circle cx="448.7" cy="94.1" r="1.2"/><circle cx="430.4" cy="27.9" r="1.2"/><circle cx="459.7" cy="30.8" r="1.2"/><circle cx="414.5" cy="46.6" r="1.2"/><circle cx="471.6" cy="52.3" r="1.2"/><circle cx="413" cy="70.4" r="1.2"/><circle cx="468.4" cy="76" r="1.2"/><circle cx="425.4" cy="89.8" r="1.2"/><circle cx="452.4" cy="92.6" r="1.2"/><circle cx="418.4" cy="39.2" r="1.2"/><circle cx="469.3" cy="44.4" r="1.2"/><circle cx="464.2" cy="82.6" r="1.2"/><circle cx="415.7" cy="77.8" r="1.2"/><circle cx="441.7" cy="25.3" r="1.2"/><circle cx="449.2" cy="26" r="1.2"/><circle cx="435.1" cy="93.8" r="1.2"/><circle cx="442" cy="94.5" r="1.2"/><circle cx="412.8" cy="55.9" r="1.2"/><circle cx="471.4" cy="61.8" r="1.2"/><circle cx="412.5" cy="60.9" r="1.2"/><circle cx="470.7" cy="66.7" r="1.2"/><circle cx="437.6" cy="26.5" r="1.2"/><circle cx="453" cy="28.1" r="1.2"/><circle cx="431.6" cy="91.9" r="1.2"/><circle cx="445.9" cy="93.4" r="1.2"/><circle cx="425.2" cy="33.1" r="1.2"/><circle cx="463.8" cy="37" r="1.2"/><circle cx="421.2" cy="84" r="1.2"/><circle cx="457.6" cy="87.6" r="1.2"/><circle cx="445.4" cy="26.6" r="1.2"/><circle cx="429.2" cy="30.5" r="1.2"/><circle cx="460.4" cy="33.6" r="1.2"/><circle cx="424.5" cy="86.9" r="1.2"/><circle cx="453.8" cy="89.9" r="1.2"/><circle cx="438.7" cy="93.2" r="1.2"/><circle cx="415.9" cy="47.9" r="1.2"/><circle cx="470" cy="53.4" r="1.2"/><circle cx="467.3" cy="74" r="1.2"/><circle cx="414.4" cy="68.7" r="1.2"/><circle cx="420.2" cy="40.1" r="1.2"/><circle cx="467.4" cy="44.8" r="1.2"/><circle cx="417.5" cy="76.7" r="1.2"/><circle cx="462.7" cy="81.2" r="1.2"/><circle cx="415" cy="53" r="1.2"/><circle cx="469.8" cy="58.5" r="1.2"/><circle cx="468.4" cy="69" r="1.2"/><circle cx="414.3" cy="63.5" r="1.2"/><circle cx="423.8" cy="37" r="1.2"/><circle cx="464.4" cy="41" r="1.2"/><circle cx="420.5" cy="79.9" r="1.2"/><circle cx="459.1" cy="83.8" r="1.2"/><circle cx="436.7" cy="29.4" r="1.2"/><circle cx="453.2" cy="31" r="1.2"/><circle cx="419" cy="44.7" r="1.2"/><circle cx="467.6" cy="49.6" r="1.2"/><circle cx="417" cy="71.8" r="1.2"/><circle cx="464.2" cy="76.6" r="1.2"/><circle cx="431.3" cy="88.9" r="1.2"/><circle cx="446.8" cy="90.4" r="1.2"/><circle cx="432.3" cy="31.5" r="1.2"/><circle cx="457.2" cy="34" r="1.2"/><circle cx="427.5" cy="86.1" r="1.2"/><circle cx="451" cy="88.5" r="1.2"/><circle cx="445.1" cy="29.6" r="1.2"/><circle cx="439" cy="90" r="1.2"/><circle cx="417.3" cy="55.4" r="1.2"/><circle cx="467.1" cy="60.4" r="1.2"/><circle cx="416.9" cy="61" r="1.2"/><circle cx="466.4" cy="65.9" r="1.2"/><circle cx="440.6" cy="31.2" r="1.2"/><circle cx="449.1" cy="32" r="1.2"/><circle cx="435.1" cy="87.6" r="1.2"/><circle cx="443.2" cy="88.4" r="1.2"/><circle cx="461.2" cy="42" r="1.2"/><circle cx="426.8" cy="38.5" r="1.2"/><circle cx="423.5" cy="78.4" r="1.2"/><circle cx="456.5" cy="81.7" r="1.2"/><circle cx="431.3" cy="35.7" r="1.2"/><circle cx="457.3" cy="38.3" r="1.2"/><circle cx="464.6" cy="51.1" r="1.2"/><circle cx="421.6" cy="46.8" r="1.2"/><circle cx="419.8" cy="69.8" r="1.2"/><circle cx="461.8" cy="74" r="1.2"/><circle cx="427.3" cy="81.7" r="1.2"/><circle cx="452.1" cy="84.2" r="1.2"/><circle cx="464.3" cy="56.7" r="1.2"/><circle cx="420.8" cy="52.4" r="1.2"/><circle cx="419.9" cy="64.1" r="1.2"/><circle cx="462.8" cy="68.4" r="1.2"/><circle cx="461.1" cy="47.2" r="1.2"/><circle cx="425.8" cy="43.7" r="1.2"/><circle cx="423.3" cy="73.2" r="1.2"/><circle cx="457.7" cy="76.6" r="1.2"/><circle cx="439.9" cy="35.6" r="1.2"/><circle cx="448.9" cy="36.5" r="1.2"/><circle cx="435.3" cy="83.1" r="1.2"/><circle cx="443.9" cy="84" r="1.2"/><circle cx="435.1" cy="38" r="1.2"/><circle cx="453.2" cy="39.8" r="1.2"/><circle cx="431.2" cy="79.9" r="1.2"/><circle cx="448.6" cy="81.7" r="1.2"/><circle cx="444.2" cy="38.4" r="1.2"/><circle cx="424.2" cy="55.3" r="1.2"/><circle cx="460.4" cy="58.9" r="1.2"/><circle cx="423.7" cy="61.4" r="1.2"/><circle cx="459.6" cy="65" r="1.2"/><circle cx="439.9" cy="81" r="1.2"/><circle cx="429.5" cy="46.3" r="1.2"/><circle cx="457" cy="49" r="1.2"/><circle cx="427.3" cy="70.9" r="1.2"/><circle cx="454.2" cy="73.6" r="1.2"/><circle cx="434.3" cy="43.4" r="1.2"/><circle cx="452.9" cy="45.2" r="1.2"/><circle cx="431.4" cy="74.4" r="1.2"/><circle cx="449.5" cy="76.2" r="1.2"/><circle cx="428.7" cy="52.3" r="1.2"/><circle cx="456.6" cy="55.1" r="1.2"/><circle cx="427.6" cy="64.8" r="1.2"/><circle cx="455.2" cy="67.6" r="1.2"/><circle cx="443.6" cy="43.9" r="1.2"/><circle cx="440.5" cy="75.4" r="1.2"/><circle cx="438.6" cy="46.5" r="1.2"/><circle cx="448.1" cy="47.5" r="1.2"/><circle cx="436.1" cy="71.9" r="1.2"/><circle cx="445.4" cy="72.9" r="1.2"/><circle cx="432.8" cy="55.6" r="1.2"/><circle cx="451.8" cy="57.5" r="1.2"/><circle cx="432.3" cy="62" r="1.2"/><circle cx="451.1" cy="63.9" r="1.2"/><circle cx="437.9" cy="52.7" r="1.2"/><circle cx="447.5" cy="53.7" r="1.2"/><circle cx="436.6" cy="65.7" r="1.2"/><circle cx="446.1" cy="66.6" r="1.2"/><circle cx="442.4" cy="56.4" r="1.2"/><circle cx="441.7" cy="62.9" r="1.2"/></g>
<path d="M464.3 166.8L463.8 168.9M408.3 169.6L409 171.7M410.1 161.3L410.4 167.5M410.4 167.5L413.1 169.6M410.4 167.5L409 171.7M416 159.2L416.3 165.5M416.3 165.5L420.7 167.7M416.3 165.5L413.1 169.6M425.1 157.6L425.4 163.9M425.4 163.9L430.8 166.4M425.4 163.9L420.7 167.7M435.7 156.7L436 162.9M436 162.9L441.7 165.9M436 162.9L430.8 166.4M446.5 156.6L446.8 162.8M446.8 162.8L451.8 166.2M446.8 162.8L441.7 165.9M455.6 157.3L455.9 163.5M455.9 163.5L459.6 167.2M455.9 163.5L451.8 166.2M461.7 158.7L462 164.9M462 164.9L463.8 168.9M462 164.9L459.6 167.2M409 171.7L409.3 177.9M409.3 177.9L409 182.1M409.3 177.9L411 179.9M413.1 169.6L413.4 175.8M413.4 175.8L411 179.9M413.4 175.8L417 177.9M420.7 167.7L421 173.9M421 173.9L417 177.9M421 173.9L426 176.3M430.8 166.4L431.1 172.6M431.1 172.6L426 176.3M431.1 172.6L436.7 175.4M441.7 165.9L442 172.1M442 172.1L436.7 175.4M442 172.1L447.4 175.2M451.8 166.2L452.1 172.4M452.1 172.4L447.4 175.2M452.1 172.4L456.5 175.9M459.6 167.2L459.9 173.5M459.9 173.5L456.5 175.9M459.9 173.5L462.7 177.4M463.8 168.9L464.2 175.2M464.2 175.2L462.7 177.4M464.2 175.2L464.9 179.3M464.9 179.3L465.2 185.5M465.2 185.5L464.9 189.7M465.2 185.5L464.8 187.6M409 182.1L409.3 188.3M409.3 188.3L409.9 190.4M409.3 188.3L410 192.4M411 179.9L411.3 186.2M411.3 186.2L414 188.2M411.3 186.2L409.9 190.4M417 177.9L417.3 184.1M417.3 184.1L421.6 186.4M417.3 184.1L414 188.2M426 176.3L426.3 182.5M426.3 182.5L431.7 185.1M426.3 182.5L421.6 186.4M436.7 175.4L437 181.6M437 181.6L442.6 184.5M437 181.6L431.7 185.1M447.4 175.2L447.7 181.5M447.7 181.5L452.7 184.8M447.7 181.5L442.6 184.5M456.5 175.9L456.8 182.2M456.8 182.2L460.5 185.9M456.8 182.2L452.7 184.8M462.7 177.4L463 183.6M463 183.6L464.8 187.6M463 183.6L460.5 185.9" stroke="#a0a0a0" stroke-width="0.96" fill="none"/><path d="M464 160.6L464.3 166.8M464.3 166.8L463.9 171M461.9 162.7L462.2 169M462.2 169L459.9 173.1M462.2 169L463.9 171M456 164.8L456.3 171M456.3 171L452.2 175M456.3 171L459.9 173.1M446.9 166.4L447.3 172.6M447.3 172.6L442.2 176.3M447.3 172.6L452.2 175M436.3 167.3L436.6 173.5M436.6 173.5L431.3 176.8M436.6 173.5L442.2 176.3M425.5 167.4L425.9 173.7M425.9 173.7L421.2 176.5M425.9 173.7L431.3 176.8M416.4 166.7L416.7 173M416.7 173L413.4 175.4M416.7 173L421.2 176.5M410.3 165.3L410.6 171.5M410.6 171.5L409.1 173.7M410.6 171.5L413.4 175.4M408 163.4L408.3 169.6M408.3 169.6L409.1 173.7M463.9 171L464.3 177.2M464.3 177.2L464.9 179.3M464.3 177.2L462.9 181.4M459.9 173.1L460.2 179.3M460.2 179.3L462.9 181.4M460.2 179.3L456.9 183.4M452.2 175L452.5 181.2M452.5 181.2L456.9 183.4M452.5 181.2L447.9 185M442.2 176.3L442.5 182.5M442.5 182.5L447.9 185M442.5 182.5L437.2 186M431.3 176.8L431.6 183M431.6 183L437.2 186M431.6 183L426.5 186.1M421.2 176.5L421.5 182.8M421.5 182.8L426.5 186.1M421.5 182.8L417.3 185.4M413.4 175.4L413.7 181.7M413.7 181.7L417.3 185.4M413.7 181.7L411.2 184M409.1 173.7L409.4 180M409.4 180L411.2 184M409.4 180L409 182.1M462.9 181.4L463.2 187.6M463.2 187.6L460.8 191.8M463.2 187.6L464.9 189.7M456.9 183.4L457.2 189.7M457.2 189.7L453.2 193.6M457.2 189.7L460.8 191.8M447.9 185L448.2 191.3M448.2 191.3L443.1 194.9M448.2 191.3L453.2 193.6M437.2 186L437.5 192.2M437.5 192.2L432.2 195.5M437.5 192.2L443.1 194.9M426.5 186.1L426.8 192.3M426.8 192.3L422.1 195.2M426.8 192.3L432.2 195.5M417.3 185.4L417.7 191.6M417.7 191.6L414.3 194.1M417.7 191.6L422.1 195.2M411.2 184L411.5 190.2M411.5 190.2L410 192.4M411.5 190.2L414.3 194.1" stroke="#595959" stroke-width="1.2" fill="none"/><g fill="#525252"><circle cx="464" cy="160.6" r="1.4"/><circle cx="461.9" cy="162.7" r="1.4"/><circle cx="462.2" cy="169" r="1.4"/><circle cx="456" cy="164.8" r="1.4"/><circle cx="456.3" cy="171" r="1.4"/><circle cx="446.9" cy="166.4" r="1.4"/><circle cx="447.3" cy="172.6" r="1.4"/><circle cx="436.3" cy="167.3" r="1.4"/><circle cx="436.6" cy="173.5" r="1.4"/><circle cx="425.5" cy="167.4" r="1.4"/><circle cx="425.9" cy="173.7" r="1.4"/><circle cx="416.4" cy="166.7" r="1.4"/><circle cx="416.7" cy="173" r="1.4"/><circle cx="410.3" cy="165.3" r="1.4"/><circle cx="410.6" cy="171.5" r="1.4"/><circle cx="408" cy="163.4" r="1.4"/><circle cx="463.9" cy="171" r="1.4"/><circle cx="464.3" cy="177.2" r="1.4"/><circle cx="459.9" cy="173.1" r="1.4"/><circle cx="460.2" cy="179.3" r="1.4"/><circle cx="452.2" cy="175" r="1.4"/><circle cx="452.5" cy="181.2" r="1.4"/><circle cx="442.2" cy="176.3" r="1.4"/><circle cx="442.5" cy="182.5" r="1.4"/><circle cx="431.3" cy="176.8" r="1.4"/><circle cx="431.6" cy="183" r="1.4"/><circle cx="421.2" cy="176.5" r="1.4"/><circle cx="421.5" cy="182.8" r="1.4"/><circle cx="413.4" cy="175.4" r="1.4"/><circle cx="413.7" cy="181.7" r="1.4"/><circle cx="409.1" cy="173.7" r="1.4"/><circle cx="409.4" cy="180" r="1.4"/><circle cx="462.9" cy="181.4" r="1.4"/><circle cx="463.2" cy="187.6" r="1.4"/><circle cx="456.9" cy="183.4" r="1.4"/><circle cx="457.2" cy="189.7" r="1.4"/><circle cx="447.9" cy="185" r="1.4"/><circle cx="448.2" cy="191.3" r="1.4"/><circle cx="437.2" cy="186" r="1.4"/><circle cx="437.5" cy="192.2" r="1.4"/><circle cx="426.5" cy="186.1" r="1.4"/><circle cx="426.8" cy="192.3" r="1.4"/><circle cx="417.3" cy="185.4" r="1.4"/><circle cx="417.7" cy="191.6" r="1.4"/><circle cx="411.2" cy="184" r="1.4"/><circle cx="411.5" cy="190.2" r="1.4"/><circle cx="460.8" cy="191.8" r="1.4"/><circle cx="453.2" cy="193.6" r="1.4"/><circle cx="443.1" cy="194.9" r="1.4"/><circle cx="432.2" cy="195.5" r="1.4"/><circle cx="422.1" cy="195.2" r="1.4"/><circle cx="414.3" cy="194.1" r="1.4"/></g>
<path d="M408.5 156.8L409 157M411.6 160L412 154M410.8 152.3L412 154M410.8 152.3L412.8 147.2M410.8 152.3L409 157M414.9 150.8L416.5 154.1M414.9 150.8L417.2 145.5M414.9 150.8L412 154M416.3 143.5L417.2 145.5M416.3 143.5L419.9 139.5M416.3 143.5L412.8 147.2M420 152.4L421.7 157.1M420 152.4L422.5 147.2M420 152.4L416.5 154.1M421.3 143.6L422.5 147.2M421.3 143.6L425.1 139.5M421.3 143.6L417.2 145.5M424.6 137.4L425.1 139.5M424.6 137.4L429.4 135.1M424.6 137.4L419.9 139.5M425.3 157L427.9 152.2M425.3 157L421.7 157.1M426.8 147.1L427.9 152.2M426.8 147.1L430.6 143.3M426.8 147.1L422.5 147.2M430 139.4L430.6 143.3M430 139.4L434.8 137.1M430 139.4L425.1 139.5M434.6 134.9L434.8 137.1M434.6 134.9L439.9 134.6M434.6 134.9L429.4 135.1M431.9 153.7L435.4 150.3M431.9 153.7L427.9 152.2M435.1 145L435.4 150.3M435.1 145L439.5 142.9M435.1 145L430.6 143.3M439.7 138.9L439.5 142.9M439.7 138.9L444.6 138.6M439.7 138.9L434.8 137.1M444.9 136.4L444.6 138.6M444.9 136.4L449.8 138M444.9 136.4L439.9 134.6M439.2 153.3L443.1 151.5M439.2 153.3L435.4 150.3M443.7 146.3L443.1 151.5M443.7 146.3L448 146M443.7 146.3L439.5 142.9M448.7 142.2L448 146M448.7 142.2L453.1 143.7M448.7 142.2L444.6 138.6M453.8 141.6L453.1 143.7M453.8 141.6L457.6 144.9M453.8 141.6L449.8 138M446.1 156L449.7 155.7M446.1 156L443.1 151.5M451 150.9L449.7 155.7M451 150.9L454.6 152.2M451 150.9L448 146M455.9 148.7L454.6 152.2M455.9 148.7L459.1 151.7M455.9 148.7L453.1 143.7M460.1 149.9L459.1 151.7M460.1 149.9L462.3 154.3M460.1 149.9L457.6 144.9M462.8 154.1L462.3 154.3M460.1 157.6L459.1 151.7" stroke="#a0a0a0" stroke-width="1.08" fill="none"/><path d="M408.3 163.6L408 162.4M408.3 163.6L409.1 159.5M410.3 162L409.1 159.5M410.3 162L412.3 159.2M414 163.1L412.3 159.2M414 163.1L416.9 161.6M418.9 166.5L416.9 161.6M418.9 166.5L422.2 166.3M408.5 156.8L409.9 152.1M408.5 156.8L408 162.4M410.2 153.5L409.9 152.1M410.2 153.5L412.9 150.1M410.2 153.5L409.1 159.5M413.8 153.2L412.9 150.1M413.8 153.2L417.5 151.4M413.8 153.2L412.3 159.2M418.8 155.9L417.5 151.4M418.8 155.9L422.9 155.6M418.8 155.9L416.9 161.6M424.3 161.2L422.9 155.6M424.3 161.2L428.4 162.3M424.3 161.2L422.2 166.3M412.4 147L412.8 147.2M412.4 147L415.6 143.2M412.4 147L409.9 152.1M415.9 144.9L415.6 143.2M415.9 144.9L420.1 142.8M415.9 144.9L412.9 150.1M420.7 146.2L420.1 142.8M420.7 146.2L425.5 145.9M420.7 146.2L417.5 151.4M426.3 150.8L425.5 145.9M426.3 150.8L431 152.2M426.3 150.8L422.9 155.6M431.7 158L431 152.2M431.7 158L435.9 160.6M431.7 158L428.4 162.3M436.2 166.7L435.9 160.6M419.6 139.3L419.9 139.5M419.6 139.3L424.3 137.1M419.6 139.3L415.6 143.2M424.4 138.8L424.3 137.1M424.4 138.8L429.6 138.5M424.4 138.8L420.1 142.8M429.9 142.1L429.6 138.5M429.9 142.1L435.1 143.7M429.9 142.1L425.5 145.9M435.3 148.7L435.1 143.7M435.3 148.7L440 151.7M435.3 148.7L431 152.2M439.9 157.6L440 151.7M439.9 157.6L443.6 161.5M439.9 157.6L435.9 160.6M429.3 134.9L429.4 135.1M429.3 134.9L434.6 134.5M429.3 134.9L424.3 137.1M434.7 136.4L434.6 134.5M434.7 136.4L440 138M434.7 136.4L429.6 138.5M440.1 141.6L440 138M440.1 141.6L444.9 144.9M440.1 141.6L435.1 143.7M444.6 149.9L444.9 144.9M444.6 149.9L448.4 154.4M444.6 149.9L440 151.7M447.6 160L448.4 154.4M447.6 160L450.2 164.9M447.6 160L443.6 161.5M439.9 134.4L439.9 134.6M439.9 134.4L445.2 136M439.9 134.4L434.6 134.5M445.2 137.8L445.2 136M445.2 137.8L449.9 141.3M445.2 137.8L440 138M449.6 144.7L449.9 141.3M449.6 144.7L453.4 149.6M449.6 144.7L444.9 144.9M452.5 154.2L453.4 149.6M452.5 154.2L455 159.7M452.5 154.2L448.4 154.4M453.5 164.7L455 159.7M453.5 164.7L450.2 164.9M450 137.8L449.8 138M450 137.8L454.4 141.3M450 137.8L445.2 136M454.3 142.9L454.4 141.3M454.3 142.9L457.8 147.9M454.3 142.9L449.9 141.3M457.2 151L457.8 147.9M457.2 151L459.3 156.8M457.2 151L453.4 149.6M458 160.9L459.3 156.8M458 160.9L455 159.7M458 144.7L457.6 144.9M458 144.7L461 149.5M458 144.7L454.4 141.3M460.8 151L461 149.5M460.8 151L462.5 156.8M460.8 151L457.8 147.9M461.6 159.5L462.5 156.8M461.6 159.5L459.3 156.8M462.8 154.1L463.9 159.6M462.8 154.1L461 149.5M463.7 160.8L463.9 159.6M463.7 160.8L462.5 156.8" stroke="#595959" stroke-width="1.2" fill="none"/><g fill="#525252"><circle cx="408" cy="162.4" r="1.4"/><circle cx="463.9" cy="159.6" r="1.4"/><circle cx="412.4" cy="147" r="1.4"/><circle cx="458" cy="144.7" r="1.4"/><circle cx="419.6" cy="139.3" r="1.4"/><circle cx="450" cy="137.8" r="1.4"/><circle cx="429.3" cy="134.9" r="1.4"/><circle cx="439.9" cy="134.4" r="1.4"/><circle cx="409.9" cy="152.1" r="1.4"/><circle cx="461" cy="149.5" r="1.4"/><circle cx="415.6" cy="143.2" r="1.4"/><circle cx="454.4" cy="141.3" r="1.4"/><circle cx="408.3" cy="163.6" r="1.4"/><circle cx="463.7" cy="160.8" r="1.4"/><circle cx="424.3" cy="137.1" r="1.4"/><circle cx="445.2" cy="136" r="1.4"/><circle cx="434.6" cy="134.5" r="1.4"/><circle cx="410.2" cy="153.5" r="1.4"/><circle cx="460.8" cy="151" r="1.4"/><circle cx="409.1" cy="159.5" r="1.4"/><circle cx="462.5" cy="156.8" r="1.4"/><circle cx="415.9" cy="144.9" r="1.4"/><circle cx="454.3" cy="142.9" r="1.4"/><circle cx="412.9" cy="150.1" r="1.4"/><circle cx="457.8" cy="147.9" r="1.4"/><circle cx="424.4" cy="138.8" r="1.4"/><circle cx="445.2" cy="137.8" r="1.4"/><circle cx="410.3" cy="162" r="1.4"/><circle cx="461.6" cy="159.5" r="1.4"/><circle cx="434.7" cy="136.4" r="1.4"/><circle cx="420.1" cy="142.8" r="1.4"/><circle cx="449.9" cy="141.3" r="1.4"/><circle cx="429.6" cy="138.5" r="1.4"/><circle cx="440" cy="138" r="1.4"/><circle cx="412.3" cy="159.2" r="1.4"/><circle cx="459.3" cy="156.8" r="1.4"/><circle cx="413.8" cy="153.2" r="1.4"/><circle cx="457.2" cy="151" r="1.4"/><circle cx="414" cy="163.1" r="1.4"/><circle cx="458" cy="160.9" r="1.4"/><circle cx="420.7" cy="146.2" r="1.4"/><circle cx="449.6" cy="144.7" r="1.4"/><circle cx="417.5" cy="151.4" r="1.4"/><circle cx="453.4" cy="149.6" r="1.4"/><circle cx="429.9" cy="142.1" r="1.4"/><circle cx="440.1" cy="141.6" r="1.4"/><circle cx="425.5" cy="145.9" r="1.4"/><circle cx="444.9" cy="144.9" r="1.4"/><circle cx="416.9" cy="161.6" r="1.4"/><circle cx="455" cy="159.7" r="1.4"/><circle cx="435.1" cy="143.7" r="1.4"/><circle cx="418.8" cy="155.9" r="1.4"/><circle cx="452.5" cy="154.2" r="1.4"/><circle cx="453.5" cy="164.7" r="1.4"/><circle cx="418.9" cy="166.5" r="1.4"/><circle cx="426.3" cy="150.8" r="1.4"/><circle cx="444.6" cy="149.9" r="1.4"/><circle cx="422.9" cy="155.6" r="1.4"/><circle cx="448.4" cy="154.4" r="1.4"/><circle cx="422.2" cy="166.3" r="1.4"/><circle cx="450.2" cy="164.9" r="1.4"/><circle cx="435.3" cy="148.7" r="1.4"/><circle cx="424.3" cy="161.2" r="1.4"/><circle cx="447.6" cy="160" r="1.4"/><circle cx="431" cy="152.2" r="1.4"/><circle cx="440" cy="151.7" r="1.4"/><circle cx="428.4" cy="162.3" r="1.4"/><circle cx="443.6" cy="161.5" r="1.4"/><circle cx="431.7" cy="158" r="1.4"/><circle cx="439.9" cy="157.6" r="1.4"/><circle cx="436.2" cy="166.7" r="1.4"/><circle cx="435.9" cy="160.6" r="1.4"/></g>
<circle cx="446.7" cy="169.4" r="8.5" fill="url(#sg)"/><circle cx="460" cy="176" r="8" fill="url(#sg)"/><circle cx="448" cy="178.5" r="9" fill="url(#sg)"/><circle cx="436.3" cy="185" r="8.5" fill="url(#sg)"/><circle cx="470" cy="186.3" r="9" fill="url(#sg)"/><circle cx="426" cy="189" r="9" fill="url(#sg)"/><circle cx="459.7" cy="190.2" r="8.5" fill="url(#sg)"/><circle cx="448" cy="195.4" r="9" fill="url(#sg)"/><circle cx="433" cy="196" r="8.5" fill="url(#sg)"/><circle cx="481.8" cy="198" r="8.5" fill="url(#sg)"/><circle cx="422" cy="198" r="8.5" fill="url(#sg)"/><circle cx="466.2" cy="200.6" r="8.5" fill="url(#sg)"/><circle cx="441.5" cy="204.5" r="9" fill="url(#sg)"/><circle cx="411.6" cy="208.4" r="9" fill="url(#sg)"/><circle cx="428.5" cy="208.4" r="9" fill="url(#sg)"/><circle cx="453.2" cy="209.7" r="9" fill="url(#sg)"/><circle cx="479.2" cy="209.7" r="8.5" fill="url(#sg)"/><circle cx="466.2" cy="211" r="9" fill="url(#sg)"/>
<path d="M401.2 148.6L411.6 209.7L441.5 152.5" fill="none" stroke="#e8141e" stroke-width="1.2"/>
<path d="M409.4 193.2Q414 188.6 419.2 193.4" fill="none" stroke="#e8141e" stroke-width="1.1"/>
<text x="411.3" y="188.6" font-size="10" font-weight="bold" fill="#e8141e">α</text>
<path d="M502 194.8L520 206L537.8 214L607 211.6L604.7 199.6L585.6 173.3L570 168L520 190Z" fill="#2e2e2e"/>
<path d="M508 124C511.5 120.8 515.5 119.7 520 118.5C524.5 117.3 530 117 535 117C540 117 545.7 117.5 550 118.5C554.3 119.5 557.8 120.8 561 123C564.2 125.2 566.5 128.2 569 132C571.5 135.8 574 141.3 576 146C578 150.7 579.3 155.3 581 160C582.7 164.7 584.5 169.7 586 174C587.5 178.3 589 182.5 590 186C591 189.5 592 192.8 592 195C592 197.2 593.8 198.6 590 199.5C586.2 200.4 576.8 200.5 569.4 200.5C562 200.5 551.3 198.9 545.6 199.5C539.9 200.1 538.5 203 535 204C531.5 205 528.1 206.3 524.4 205.5C520.6 204.7 516 202.1 512.5 199C509 195.9 505.9 191.5 503.5 187C501.1 182.5 499.2 177.3 498 172C496.8 166.7 496.3 160.7 496.5 155C496.7 149.3 497.1 143.2 499 138C500.9 132.8 504.5 127.2 508 124Z" fill="url(#drop)" stroke="#7a7fc0" stroke-width="0.8" opacity="0.96"/>
<path d="M504.3 194.8L522 172L545 156.6L583.2 168.6L590.3 197.2L569.4 200.5L545.6 199.5L535 204L524.4 205.5L512.5 199Z" fill="#565ca4" opacity="0.45"/>
<path d="M536.3 165.6L561.7 56.3H569.8" fill="none" stroke="#1f2d5a" stroke-width="1"/>
<path d="M569.8 39.6V126" stroke="#5a6a90" stroke-width="1.4"/>
<rect x="577.9" y="40" width="92" height="86.2" fill="#dce6f4"/>
<path d="M593.9 56L624.8 40.7L603 119.3Z" fill="#7fa2e0" opacity="0.75"/>
<path d="M582.2 107.8L659 68.2L638.6 113.6Z" fill="#7a7a7a" opacity="0.92"/>
<path d="M593.9 56L603 119.3L608 95Z" fill="#6f8fd0" opacity="0.5"/>
<path d="M600 108L608 96" stroke="#e01010" stroke-width="1"/>
<path d="M607.4 72.8L667.6 85.8M663 82.5L667.6 85.8L662.5 88" fill="none" stroke="#3a6fd8" stroke-width="0.9"/>
<circle cx="607.4" cy="72.8" r="1.3" fill="none" stroke="#3a6fd8" stroke-width="0.8"/>
<path d="M634.4 95.7L621.4 67M620.5 71.5L621.4 67L624.5 70" fill="none" stroke="#555" stroke-width="0.8"/>
<circle cx="634.4" cy="82.5" r="1.6" fill="#e01010"/>
<path d="M628 79.5Q631 78 632 81" fill="none" stroke="#e01010" stroke-width="0.8"/>
<path d="M134.4 312.4L134 312.1M85 257.3L85.3 257.7M94.7 251L90.4 254.9M90.4 254.9L91.7 256.7M90.4 254.9L85.3 257.7M102.1 251.5L97.7 255.4M97.7 255.4L99.7 258.7M97.7 255.4L91.7 256.7M110.6 254.9L106.2 258.7M106.2 258.7L108.5 263.4M106.2 258.7L99.7 258.7M119.4 260.8L115.1 264.7M115.1 264.7L117.2 270.4M115.1 264.7L108.5 263.4M127.7 268.7L123.4 272.6M123.4 272.6L124.9 279M123.4 272.6L117.2 270.4M134.7 277.8L130.3 281.7M130.3 281.7L130.9 288.4M130.3 281.7L124.9 279M139.6 287.3L135.3 291.1M135.3 291.1L134.7 297.6M135.3 291.1L130.9 288.4M142 296.1L137.7 300M137.7 300L135.7 305.8M137.7 300L134.7 297.6M141.7 303.4L137.4 307.3M137.4 307.3L134 312.1M137.4 307.3L135.7 305.8M125.4 319.8L125.7 320.2M125.4 319.8L120.2 322.7M76.6 265.4L73.3 270.3M76.6 265.4L76.3 265.1M85.3 257.7L80.9 261.6M80.9 261.6L76.3 265.1M80.9 261.6L81.7 262.7M91.7 256.7L87.4 260.6M87.4 260.6L81.7 262.7M87.4 260.6L89.1 263.1M99.7 258.7L95.4 262.5M95.4 262.5L89.1 263.1M95.4 262.5L97.6 266.5M108.5 263.4L104.2 267.3M104.2 267.3L97.6 266.5M104.2 267.3L106.4 272.5M117.2 270.4L112.8 274.3M112.8 274.3L106.4 272.5M112.8 274.3L114.7 280.4M124.9 279L120.6 282.9M120.6 282.9L114.7 280.4M120.6 282.9L121.7 289.5M130.9 288.4L126.6 292.3M126.6 292.3L121.7 289.5M126.6 292.3L126.6 298.9M134.7 297.6L130.3 301.5M130.3 301.5L126.6 298.9M130.3 301.5L129 307.7M135.7 305.8L131.4 309.7M131.4 309.7L129 307.7M131.4 309.7L128.7 315.1M134 312.1L129.7 316M129.7 316L128.7 315.1M129.7 316L125.7 320.2M125.7 320.2L121.4 324.1M121.4 324.1L116.7 327.6M121.4 324.1L121 323.8M120.2 322.7L115.9 326.5M115.9 326.5L110.3 328.6M115.9 326.5L116.7 327.6M73.3 270.3L68.9 274.1M68.9 274.1L68 273.2M68.9 274.1L66.3 279.5M76.3 265.1L72 269M72 269L72.2 269.3M72 269L68 273.2M81.7 262.7L77.4 266.5M77.4 266.5L78.7 268.4M77.4 266.5L72.2 269.3M89.1 263.1L84.7 267M84.7 267L86.7 270.3M84.7 267L78.7 268.4M97.6 266.5L93.2 270.4M93.2 270.4L95.5 275M93.2 270.4L86.7 270.3M106.4 272.5L102.1 276.3M102.1 276.3L104.2 282M102.1 276.3L95.5 275M114.7 280.4L110.4 284.3M110.4 284.3L111.9 290.7M110.4 284.3L104.2 282M121.7 289.5L117.3 293.4M117.3 293.4L117.9 300M117.3 293.4L111.9 290.7M126.6 298.9L122.3 302.8M122.3 302.8L121.6 309.3M122.3 302.8L117.9 300M129 307.7L124.7 311.6M124.7 311.6L122.7 317.5M124.7 311.6L121.6 309.3M128.7 315.1L124.4 318.9M124.4 318.9L121 323.8M124.4 318.9L122.7 317.5M116.7 327.6L112.4 331.5M112.4 331.5L112.7 331.9M112.4 331.5L107.2 334.3M110.3 328.6L105.9 332.5M105.9 332.5L107.2 334.3M105.9 332.5L99.9 333.8M66.3 279.5L61.9 283.4M61.9 283.4L60 289.2M61.9 283.4L60.3 281.9M68 273.2L63.6 277.1M63.6 277.1L60.3 281.9M63.6 277.1L63.3 276.8M72.2 269.3L67.9 273.2M67.9 273.2L63.3 276.8M67.9 273.2L68.7 274.3M78.7 268.4L74.4 272.2M74.4 272.2L68.7 274.3M74.4 272.2L76.1 274.8M86.7 270.3L82.4 274.2M82.4 274.2L76.1 274.8M82.4 274.2L84.6 278.2M95.5 275L91.2 278.9M91.2 278.9L84.6 278.2M91.2 278.9L93.4 284.1M104.2 282L99.8 285.9M99.8 285.9L93.4 284.1M99.8 285.9L101.7 292M111.9 290.7L107.6 294.5M107.6 294.5L101.7 292M107.6 294.5L108.7 301.1M117.9 300L113.6 303.9M113.6 303.9L108.7 301.1M113.6 303.9L113.6 310.6M121.6 309.3L117.3 313.2M117.3 313.2L113.6 310.6M117.3 313.2L116 319.4M122.7 317.5L118.4 321.3M118.4 321.3L116 319.4M118.4 321.3L115.7 326.7M121 323.8L116.7 327.7M116.7 327.7L115.7 326.7M116.7 327.7L112.7 331.9M112.7 331.9L108.4 335.8M107.2 334.3L102.9 338.2M99.9 333.8L95.6 337.7M60 289.2L55.6 293.1M60.3 281.9L55.9 285.8M63.3 276.8L59 280.6M68.7 274.3L64.4 278.2M76.1 274.8L71.7 278.7M84.6 278.2L80.2 282.1M93.4 284.1L89.1 288M101.7 292L97.4 295.9M108.7 301.1L104.3 305M113.6 310.6L109.3 314.5M116 319.4L111.7 323.3M115.7 326.7L111.4 330.6" stroke="#8a8a8a" stroke-width="1.1199999999999999" fill="none"/><path d="M97.1 250.8L101.4 247.4M100.5 246.8L101.4 247.4M100.5 246.8L95.1 249.4M102 251.5L106.9 248.1M106.8 246.2L106.9 248.1M106.8 246.2L111.8 244.6M106.8 246.2L101.4 247.4M111 244.1L111.8 244.6M111.8 248.3L110.9 251.5M111.8 248.3L117.2 246.7M111.8 248.3L106.9 248.1M117.4 245L117.2 246.7M117.4 245L122.7 245.2M117.4 245L111.8 244.6M115 252.8L120.6 251.4M115 252.8L110.9 251.5M121.9 248.4L120.6 251.4M121.9 248.4L127.4 248.7M121.9 248.4L117.2 246.7M128 247.2L127.4 248.7M128 247.2L132.9 249.3M128 247.2L122.7 245.2M124.1 254.2L121.5 258.1M124.1 254.2L129.6 254.5M124.1 254.2L120.6 251.4M131.5 251.9L129.6 254.5M131.5 251.9L136.5 253.8M131.5 251.9L127.4 248.7M137.4 252.7L136.5 253.8M137.4 252.7L141.5 256.3M137.4 252.7L132.9 249.3M123.7 261.8L129 262M123.7 261.8L121.5 258.1M132.2 258.6L129 262M132.2 258.6L137 260.4M132.2 258.6L129.6 254.5M139.4 258.2L137 260.4M139.4 258.2L143.4 261.6M139.4 258.2L136.5 253.8M144.7 260.8L143.4 261.6M144.7 260.8L147.6 265.6M144.7 260.8L141.5 256.3M130 266.6L134.5 268.2M130 266.6L129 262M138.3 265.4L134.5 268.2M138.3 265.4L142.1 268.4M138.3 265.4L137 260.4M144.8 266.8L142.1 268.4M144.8 266.8L147.6 271.2M144.8 266.8L143.4 261.6M149.1 270.8L147.6 271.2M149.1 270.8L150.5 276.3M149.1 270.8L147.6 265.6M134.2 273.4L137.6 276M134.2 273.4L134.5 268.2M141.7 273.9L137.6 276M141.7 273.9L144.2 277.7M141.7 273.9L142.1 268.4M147.2 276.7L144.2 277.7M147.2 276.7L148.4 281.6M147.2 276.7L147.6 271.2M150.2 281.5L148.4 281.6M150.2 281.5L150 287.1M150.2 281.5L150.5 276.3M150.3 288L150 287.1M142.1 283.1L143 287.3M142.1 283.1L144.2 277.7M146.3 286.8L143 287.3M146.3 286.8L145.9 291.6M146.3 286.8L148.4 281.6M147.8 292L145.9 291.6M147.8 292L146 297.2M147.8 292L150 287.1M146.5 298.2L146 297.2M146.5 298.2L143.3 303.2M142.1 296.1L145.9 291.6M142.2 301.1L146 297.2" stroke="#8a8a8a" stroke-width="1.26" fill="none"/>
<circle cx="103.9" cy="260" r="8.7" fill="url(#sgd)"/><circle cx="118.8" cy="263.3" r="8.9" fill="url(#sgd)"/><circle cx="131.6" cy="269" r="9" fill="url(#sgd)"/><circle cx="91.4" cy="269.3" r="9.9" fill="url(#sgd)"/><circle cx="107" cy="273.3" r="8.6" fill="url(#sgd)"/><circle cx="120.4" cy="278.4" r="9.4" fill="url(#sgd)"/><circle cx="81.9" cy="280" r="9.9" fill="url(#sgd)"/><circle cx="136.4" cy="283.3" r="9.4" fill="url(#sgd)"/><circle cx="94.8" cy="284.8" r="8.7" fill="url(#sgd)"/><circle cx="109.7" cy="288.3" r="8.8" fill="url(#sgd)"/><circle cx="69.9" cy="290.2" r="9.7" fill="url(#sgd)"/><circle cx="125" cy="294.4" r="8.6" fill="url(#sgd)"/><circle cx="83.8" cy="295.3" r="9.6" fill="url(#sgd)"/><circle cx="99.6" cy="300" r="9" fill="url(#sgd)"/><circle cx="73.1" cy="303.6" r="8.9" fill="url(#sgd)"/><circle cx="112.3" cy="304.9" r="8.6" fill="url(#sgd)"/><circle cx="128.6" cy="308" r="9.6" fill="url(#sgd)"/><circle cx="86.8" cy="310.2" r="9.5" fill="url(#sgd)"/><circle cx="101.5" cy="314" r="9.6" fill="url(#sgd)"/><circle cx="115.4" cy="317.9" r="8.8" fill="url(#sgd)"/><circle cx="77" cy="319.6" r="9.5" fill="url(#sgd)"/><circle cx="90.2" cy="324.9" r="9.2" fill="url(#sgd)"/>
<circle cx="147" cy="288" r="7.5" fill="url(#sg)"/><circle cx="62.6" cy="311.7" r="7.5" fill="url(#sg)"/><circle cx="62" cy="326" r="9" fill="url(#sg)"/><circle cx="77.7" cy="327.3" r="9" fill="url(#sg)"/><circle cx="97" cy="328.5" r="9.5" fill="url(#sg)"/>
<path d="M138.7 308.6L134.4 312.4M134.4 312.4L129.7 316M133.3 311L128.9 314.9M128.9 314.9L123.3 317M128.9 314.9L129.7 316M125.9 310.5L121.6 314.4M121.6 314.4L115.3 315M121.6 314.4L123.3 317M117.4 307.1L113.1 311M113.1 311L106.5 310.3M113.1 311L115.3 315M108.6 301.2L104.3 305.1M104.3 305.1L97.8 303.3M104.3 305.1L106.5 310.3M100.3 293.3L96 297.2M96 297.2L90.1 294.7M96 297.2L97.8 303.3M93.3 284.2L89 288.1M89 288.1L84.1 285.3M89 288.1L90.1 294.7M88.4 274.7L84.1 278.6M84.1 278.6L80.3 276M84.1 278.6L84.1 285.3M86 265.9L81.6 269.8M81.6 269.8L79.3 267.9M81.6 269.8L80.3 276M86.3 258.6L81.9 262.5M81.9 262.5L81 261.5M81.9 262.5L79.3 267.9M89.3 253.4L85 257.3M85 257.3L81 261.5M129.7 316L125.4 319.8M123.3 317L118.9 320.8M118.9 320.8L120.2 322.7M118.9 320.8L112.9 322.2M115.3 315L110.9 318.9M110.9 318.9L112.9 322.2M110.9 318.9L104.4 318.8M106.5 310.3L102.2 314.2M102.2 314.2L104.4 318.8M102.2 314.2L95.6 312.9M97.8 303.3L93.5 307.2M93.5 307.2L95.6 312.9M93.5 307.2L87.3 304.9M90.1 294.7L85.8 298.5M85.8 298.5L87.3 304.9M85.8 298.5L80.3 295.8M84.1 285.3L79.7 289.2M79.7 289.2L80.3 295.8M79.7 289.2L75.4 286.4M80.3 276L76 279.9M76 279.9L75.4 286.4M76 279.9L73 277.6M79.3 267.9L74.9 271.7M74.9 271.7L73 277.6M74.9 271.7L73.3 270.3M81 261.5L76.6 265.4M112.9 322.2L108.6 326.1M108.6 326.1L102.3 326.7M108.6 326.1L110.3 328.6M104.4 318.8L100.1 322.7M100.1 322.7L93.5 321.9M100.1 322.7L102.3 326.7M95.6 312.9L91.3 316.7M91.3 316.7L84.8 314.9M91.3 316.7L93.5 321.9M87.3 304.9L83 308.8M83 308.8L77.1 306.3M83 308.8L84.8 314.9M80.3 295.8L76 299.7M76 299.7L71.1 296.9M76 299.7L77.1 306.3M75.4 286.4L71.1 290.3M71.1 290.3L67.3 287.7M71.1 290.3L71.1 296.9M73 277.6L68.6 281.5M68.6 281.5L66.3 279.5M68.6 281.5L67.3 287.7M102.3 326.7L97.9 330.5M97.9 330.5L99.9 333.8M97.9 330.5L91.4 330.4M93.5 321.9L89.2 325.8M89.2 325.8L91.4 330.4M89.2 325.8L82.6 324.5M84.8 314.9L80.5 318.8M80.5 318.8L82.6 324.5M80.5 318.8L74.3 316.6M77.1 306.3L72.8 310.2M72.8 310.2L74.3 316.6M72.8 310.2L67.3 307.5M71.1 296.9L66.7 300.8M66.7 300.8L67.3 307.5M66.7 300.8L62.4 298.1M67.3 287.7L63 291.6M63 291.6L62.4 298.1M63 291.6L60 289.2M91.4 330.4L87.1 334.3M82.6 324.5L78.2 328.4M74.3 316.6L69.9 320.5M67.3 307.5L63 311.4M62.4 298.1L58 301.9" stroke="#4e4e4e" stroke-width="1.4" fill="none"/><g fill="#4a4a4a"><circle cx="138.7" cy="308.6" r="1.5"/><circle cx="133.3" cy="311" r="1.5"/><circle cx="128.9" cy="314.9" r="1.5"/><circle cx="125.9" cy="310.5" r="1.5"/><circle cx="121.6" cy="314.4" r="1.5"/><circle cx="117.4" cy="307.1" r="1.5"/><circle cx="113.1" cy="311" r="1.5"/><circle cx="108.6" cy="301.2" r="1.5"/><circle cx="104.3" cy="305.1" r="1.5"/><circle cx="100.3" cy="293.3" r="1.5"/><circle cx="96" cy="297.2" r="1.5"/><circle cx="93.3" cy="284.2" r="1.5"/><circle cx="89" cy="288.1" r="1.5"/><circle cx="88.4" cy="274.7" r="1.5"/><circle cx="84.1" cy="278.6" r="1.5"/><circle cx="86" cy="265.9" r="1.5"/><circle cx="81.6" cy="269.8" r="1.5"/><circle cx="86.3" cy="258.6" r="1.5"/><circle cx="81.9" cy="262.5" r="1.5"/><circle cx="89.3" cy="253.4" r="1.5"/><circle cx="129.7" cy="316" r="1.5"/><circle cx="123.3" cy="317" r="1.5"/><circle cx="118.9" cy="320.8" r="1.5"/><circle cx="115.3" cy="315" r="1.5"/><circle cx="110.9" cy="318.9" r="1.5"/><circle cx="106.5" cy="310.3" r="1.5"/><circle cx="102.2" cy="314.2" r="1.5"/><circle cx="97.8" cy="303.3" r="1.5"/><circle cx="93.5" cy="307.2" r="1.5"/><circle cx="90.1" cy="294.7" r="1.5"/><circle cx="85.8" cy="298.5" r="1.5"/><circle cx="84.1" cy="285.3" r="1.5"/><circle cx="79.7" cy="289.2" r="1.5"/><circle cx="80.3" cy="276" r="1.5"/><circle cx="76" cy="279.9" r="1.5"/><circle cx="79.3" cy="267.9" r="1.5"/><circle cx="74.9" cy="271.7" r="1.5"/><circle cx="81" cy="261.5" r="1.5"/><circle cx="112.9" cy="322.2" r="1.5"/><circle cx="108.6" cy="326.1" r="1.5"/><circle cx="104.4" cy="318.8" r="1.5"/><circle cx="100.1" cy="322.7" r="1.5"/><circle cx="95.6" cy="312.9" r="1.5"/><circle cx="91.3" cy="316.7" r="1.5"/><circle cx="87.3" cy="304.9" r="1.5"/><circle cx="83" cy="308.8" r="1.5"/><circle cx="80.3" cy="295.8" r="1.5"/><circle cx="76" cy="299.7" r="1.5"/><circle cx="75.4" cy="286.4" r="1.5"/><circle cx="71.1" cy="290.3" r="1.5"/><circle cx="73" cy="277.6" r="1.5"/><circle cx="68.6" cy="281.5" r="1.5"/><circle cx="102.3" cy="326.7" r="1.5"/><circle cx="97.9" cy="330.5" r="1.5"/><circle cx="93.5" cy="321.9" r="1.5"/><circle cx="89.2" cy="325.8" r="1.5"/><circle cx="84.8" cy="314.9" r="1.5"/><circle cx="80.5" cy="318.8" r="1.5"/><circle cx="77.1" cy="306.3" r="1.5"/><circle cx="72.8" cy="310.2" r="1.5"/><circle cx="71.1" cy="296.9" r="1.5"/><circle cx="66.7" cy="300.8" r="1.5"/><circle cx="67.3" cy="287.7" r="1.5"/><circle cx="63" cy="291.6" r="1.5"/><circle cx="91.4" cy="330.4" r="1.5"/><circle cx="87.1" cy="334.3" r="1.5"/><circle cx="82.6" cy="324.5" r="1.5"/><circle cx="78.2" cy="328.4" r="1.5"/><circle cx="74.3" cy="316.6" r="1.5"/><circle cx="69.9" cy="320.5" r="1.5"/><circle cx="67.3" cy="307.5" r="1.5"/><circle cx="63" cy="311.4" r="1.5"/><circle cx="62.4" cy="298.1" r="1.5"/><circle cx="58" cy="301.9" r="1.5"/></g><path d="M87.9 257.1L90 254M87.9 257.1L90.7 257M88.3 261.2L90.7 257M88.3 261.2L90.8 262.5M88.1 267.5L90.8 262.5M88.1 267.5L90.3 269.9M93.7 250.1L95.1 249.4M93.7 250.1L97.4 248.4M95.4 250.5L97.4 248.4M95.4 250.5L98.9 250.5M95.4 250.5L90 254M96.3 253.9L98.9 250.5M96.3 253.9L99.6 255.5M96.3 253.9L90.7 257M96.5 260L99.6 255.5M96.5 260L99.2 262.9M96.5 260L90.8 262.5M95.7 267.9L99.2 262.9M95.7 267.9L97.8 271.7M95.7 267.9L90.3 269.9M94.2 276.9L97.8 271.7M94.2 276.9L95.8 281.2M100.5 246.8L105 245.1M103.3 246L105 245.1M103.3 246L107.6 246.1M103.3 246L97.4 248.4M105.3 248.5L107.6 246.1M105.3 248.5L109.2 250.3M105.3 248.5L98.9 250.5M106 253.9L109.2 250.3M106 253.9L109.3 257.2M106 253.9L99.6 255.5M105.5 261.7L109.3 257.2M105.5 261.7L108 266.1M105.5 261.7L99.2 262.9M103.8 271L108 266.1M103.8 271L105.6 276M103.8 271L97.8 271.7M101.1 280.9L105.6 276M101.1 280.9L102.2 286M101.1 280.9L95.8 281.2M97.9 290.4L102.2 286M111 244.1L115.8 244.3M111 244.1L105 245.1M114.1 245.4L115.8 244.3M114.1 245.4L118.5 247.4M114.1 245.4L107.6 246.1M115.9 249.9L118.5 247.4M115.9 249.9L119.6 253.5M115.9 249.9L109.2 250.3M116 257.1L119.6 253.5M116 257.1L118.8 261.9M116 257.1L109.3 257.2M114.6 266.3L118.8 261.9M114.6 266.3L116.4 271.9M114.6 266.3L108 266.1M111.6 276.6L116.4 271.9M111.6 276.6L112.5 282.3M111.6 276.6L105.6 276M107.5 286.8L112.5 282.3M107.5 286.8L107.8 292.2M107.5 286.8L102.2 286M102.9 296L107.8 292.2M122 245L122.7 245.2M122 245L126.7 247M122 245L115.8 244.3M125 248.3L126.7 247M125 248.3L129 252M125 248.3L118.5 247.4M126.2 254.6L129 252M126.2 254.6L129.1 259.7M126.2 254.6L119.6 253.5M125.3 263.3L129.1 259.7M125.3 263.3L127.2 269.2M125.3 263.3L118.8 261.9M122.5 273.4L127.2 269.2M122.5 273.4L123.4 279.6M122.5 273.4L116.4 271.9M118.2 283.9L123.4 279.6M118.2 283.9L118 289.9M118.2 283.9L112.5 282.3M112.7 293.8L118 289.9M112.7 293.8L111.8 299.1M112.7 293.8L107.8 292.2M132.4 249.3L132.9 249.3M132.4 249.3L136.5 253M132.4 249.3L126.7 247M134.8 254.5L136.5 253M134.8 254.5L137.9 259.6M134.8 254.5L129 252M135 262.2L137.9 259.6M135 262.2L136.8 268.3M135 262.2L129.1 259.7M132.9 271.7L136.8 268.3M132.9 271.7L133.5 278.3M132.9 271.7L127.2 269.2M128.6 282.1L133.5 278.3M128.6 282.1L128.2 288.6M128.6 282.1L123.4 279.6M122.8 292.2L128.2 288.6M122.8 292.2L121.5 298.1M122.8 292.2L118 289.9M115.9 301.1L121.5 298.1M115.9 301.1L111.8 299.1M141.2 256.6L141.5 256.3M141.2 256.6L144.3 261.6M141.2 256.6L136.5 253M142.7 263.2L144.3 261.6M142.7 263.2L144.4 269.3M142.7 263.2L137.9 259.6M141.5 271.8L144.4 269.3M141.5 271.8L142 278.5M141.5 271.8L136.8 268.3M137.9 281.6L142 278.5M137.9 281.6L137.1 288.3M137.9 281.6L133.5 278.3M132.3 291.5L137.1 288.3M132.3 291.5L130.4 297.7M132.3 291.5L128.2 288.6M125 300.6L130.4 297.7M125 300.6L122.4 305.8M125 300.6L121.5 298.1M147.5 266.1L147.6 265.6M147.5 266.1L149.2 272M147.5 266.1L144.3 261.6M147.7 273.6L149.2 272M147.7 273.6L147.9 280.2M147.7 273.6L144.4 269.3M145.1 282.5L147.9 280.2M145.1 282.5L144 289.2M145.1 282.5L142 278.5M140.1 291.9L144 289.2M140.1 291.9L137.8 298.1M140.1 291.9L137.1 288.3M133 300.7L137.8 298.1M133 300.7L129.8 306.1M133 300.7L130.4 297.7M124.6 308.2L129.8 306.1M124.6 308.2L122.4 305.8M150.7 277L150.5 276.3M150.7 277L150.7 283.2M150.7 277L149.2 272M149.4 284.7L150.7 283.2M149.4 284.7L148 291.1M149.4 284.7L147.9 280.2M145.4 293.2L148 291.1M145.4 293.2L142.7 299.3M145.4 293.2L144 289.2M139 301.5L142.7 299.3M139 301.5L135.3 306.8M139 301.5L137.8 298.1M130.9 308.7L135.3 306.8M130.9 308.7L129.8 306.1M150.3 288L148.7 293.9M150.3 288L150.7 283.2M147.6 295.4L148.7 293.9M147.6 295.4L144.6 301.1M147.6 295.4L148 291.1M142.3 302.9L144.6 301.1M142.3 302.9L138.2 307.8M142.3 302.9L142.7 299.3M134.9 309.5L138.2 307.8M134.9 309.5L135.3 306.8M146.5 298.2L148.7 293.9M142.5 304.6L143.3 303.2M142.5 304.6L144.6 301.1" stroke="#4e4e4e" stroke-width="1.4" fill="none"/><g fill="#4a4a4a"><circle cx="93.7" cy="250.1" r="1.5"/><circle cx="142.5" cy="304.6" r="1.5"/><circle cx="105" cy="245.1" r="1.5"/><circle cx="148.7" cy="293.9" r="1.5"/><circle cx="122" cy="245" r="1.5"/><circle cx="150.7" cy="277" r="1.5"/><circle cx="115.8" cy="244.3" r="1.5"/><circle cx="150.7" cy="283.2" r="1.5"/><circle cx="132.4" cy="249.3" r="1.5"/><circle cx="147.5" cy="266.1" r="1.5"/><circle cx="97.4" cy="248.4" r="1.5"/><circle cx="144.6" cy="301.1" r="1.5"/><circle cx="141.2" cy="256.6" r="1.5"/><circle cx="103.3" cy="246" r="1.5"/><circle cx="147.6" cy="295.4" r="1.5"/><circle cx="126.7" cy="247" r="1.5"/><circle cx="149.2" cy="272" r="1.5"/><circle cx="90" cy="254" r="1.5"/><circle cx="138.2" cy="307.8" r="1.5"/><circle cx="136.5" cy="253" r="1.5"/><circle cx="144.3" cy="261.6" r="1.5"/><circle cx="95.4" cy="250.5" r="1.5"/><circle cx="142.3" cy="302.9" r="1.5"/><circle cx="114.1" cy="245.4" r="1.5"/><circle cx="149.4" cy="284.7" r="1.5"/><circle cx="107.6" cy="246.1" r="1.5"/><circle cx="148" cy="291.1" r="1.5"/><circle cx="87.9" cy="257.1" r="1.5"/><circle cx="134.9" cy="309.5" r="1.5"/><circle cx="125" cy="248.3" r="1.5"/><circle cx="147.7" cy="273.6" r="1.5"/><circle cx="98.9" cy="250.5" r="1.5"/><circle cx="142.7" cy="299.3" r="1.5"/><circle cx="118.5" cy="247.4" r="1.5"/><circle cx="147.9" cy="280.2" r="1.5"/><circle cx="134.8" cy="254.5" r="1.5"/><circle cx="142.7" cy="263.2" r="1.5"/><circle cx="105.3" cy="248.5" r="1.5"/><circle cx="145.4" cy="293.2" r="1.5"/><circle cx="135.3" cy="306.8" r="1.5"/><circle cx="90.7" cy="257" r="1.5"/><circle cx="129" cy="252" r="1.5"/><circle cx="144.4" cy="269.3" r="1.5"/><circle cx="88.3" cy="261.2" r="1.5"/><circle cx="130.9" cy="308.7" r="1.5"/><circle cx="96.3" cy="253.9" r="1.5"/><circle cx="139" cy="301.5" r="1.5"/><circle cx="137.9" cy="259.6" r="1.5"/><circle cx="115.9" cy="249.9" r="1.5"/><circle cx="145.1" cy="282.5" r="1.5"/><circle cx="109.2" cy="250.3" r="1.5"/><circle cx="144" cy="289.2" r="1.5"/><circle cx="129.8" cy="306.1" r="1.5"/><circle cx="90.8" cy="262.5" r="1.5"/><circle cx="99.6" cy="255.5" r="1.5"/><circle cx="137.8" cy="298.1" r="1.5"/><circle cx="124.6" cy="308.2" r="1.5"/><circle cx="88.1" cy="267.5" r="1.5"/><circle cx="126.2" cy="254.6" r="1.5"/><circle cx="141.5" cy="271.8" r="1.5"/><circle cx="106" cy="253.9" r="1.5"/><circle cx="140.1" cy="291.9" r="1.5"/><circle cx="135" cy="262.2" r="1.5"/><circle cx="119.6" cy="253.5" r="1.5"/><circle cx="142" cy="278.5" r="1.5"/><circle cx="96.5" cy="260" r="1.5"/><circle cx="133" cy="300.7" r="1.5"/><circle cx="90.3" cy="269.9" r="1.5"/><circle cx="122.4" cy="305.8" r="1.5"/><circle cx="129.1" cy="259.7" r="1.5"/><circle cx="136.8" cy="268.3" r="1.5"/><circle cx="109.3" cy="257.2" r="1.5"/><circle cx="137.1" cy="288.3" r="1.5"/><circle cx="116" cy="257.1" r="1.5"/><circle cx="137.9" cy="281.6" r="1.5"/><circle cx="99.2" cy="262.9" r="1.5"/><circle cx="130.4" cy="297.7" r="1.5"/><circle cx="95.7" cy="267.9" r="1.5"/><circle cx="125" cy="300.6" r="1.5"/><circle cx="105.5" cy="261.7" r="1.5"/><circle cx="132.3" cy="291.5" r="1.5"/><circle cx="125.3" cy="263.3" r="1.5"/><circle cx="132.9" cy="271.7" r="1.5"/><circle cx="94.2" cy="276.9" r="1.5"/><circle cx="115.9" cy="301.1" r="1.5"/><circle cx="118.8" cy="261.9" r="1.5"/><circle cx="133.5" cy="278.3" r="1.5"/><circle cx="97.9" cy="290.4" r="1.5"/><circle cx="102.9" cy="296" r="1.5"/><circle cx="97.8" cy="271.7" r="1.5"/><circle cx="121.5" cy="298.1" r="1.5"/><circle cx="95.8" cy="281.2" r="1.5"/><circle cx="111.8" cy="299.1" r="1.5"/><circle cx="127.2" cy="269.2" r="1.5"/><circle cx="108" cy="266.1" r="1.5"/><circle cx="128.2" cy="288.6" r="1.5"/><circle cx="114.6" cy="266.3" r="1.5"/><circle cx="128.6" cy="282.1" r="1.5"/><circle cx="103.8" cy="271" r="1.5"/><circle cx="122.8" cy="292.2" r="1.5"/><circle cx="101.1" cy="280.9" r="1.5"/><circle cx="112.7" cy="293.8" r="1.5"/><circle cx="102.2" cy="286" r="1.5"/><circle cx="107.8" cy="292.2" r="1.5"/><circle cx="122.5" cy="273.4" r="1.5"/><circle cx="105.6" cy="276" r="1.5"/><circle cx="118" cy="289.9" r="1.5"/><circle cx="116.4" cy="271.9" r="1.5"/><circle cx="123.4" cy="279.6" r="1.5"/><circle cx="107.5" cy="286.8" r="1.5"/><circle cx="111.6" cy="276.6" r="1.5"/><circle cx="118.2" cy="283.9" r="1.5"/><circle cx="112.5" cy="282.3" r="1.5"/></g>
<path d="M191 319.5L188.1 313.2M188.9 312L190.4 312.7M189.3 306.3L191.9 308.4M189.3 306.3L190.4 312.7M192.2 303.1L195.7 306.7M192.2 303.1L190.2 294.6M192.2 303.1L191.9 308.4M197.1 302.7L195.4 294.3M197.1 302.7L195.7 306.7M192.1 289.8L195.4 294.3M192.1 289.8L192 281.7M192.1 289.8L190.2 294.6M189.8 278.5L192 281.7M189.8 278.5L191.4 271.4M190.2 270L191.4 271.4M190.2 270L193.4 264.5M203.5 305.4L202.2 297.3M198.3 291.2L202.2 297.3M198.3 291.2L198.5 283.3M198.3 291.2L195.4 294.3M195.5 278.1L198.5 283.3M195.5 278.1L197.3 271M195.5 278.1L192 281.7M195.4 267.4L197.3 271M195.4 267.4L198.7 261.8M195.4 267.4L191.4 271.4M197.8 260.2L198.7 261.8M197.8 260.2L202.5 256.6M197.8 260.2L193.4 264.5M205.7 296L206 288.5M205.7 296L202.2 297.3M202.7 281.7L206 288.5M202.7 281.7L204.5 274.9M202.7 281.7L198.5 283.3M202.1 269.2L204.5 274.9M202.1 269.2L205.3 263.7M202.1 269.2L197.3 271M203.9 259.9L205.3 263.7M203.9 259.9L208.5 256.2M203.9 259.9L198.7 261.8M207.9 254.5L208.5 256.2M207.9 254.5L213.6 253.2M207.9 254.5L202.5 256.6M210.5 288.9L213.9 296.8M210.5 288.9L212.3 282.5M210.5 288.9L206 288.5M209.6 275.3L212.3 282.5M209.6 275.3L212.7 270.1M209.6 275.3L204.5 274.9M210.9 264.1L212.7 270.1M210.9 264.1L215.3 260.6M210.9 264.1L205.3 263.7M214.3 256.6L215.3 260.6M214.3 256.6L219.7 255.3M214.3 256.6L208.5 256.2M219.5 253.5L219.7 255.3M219.5 253.5L225.5 254.5M219.5 253.5L213.6 253.2M218.2 298.7L219.9 293.1M218.2 298.7L213.9 296.8M217.3 284.8L219.9 293.1M217.3 284.8L220.2 280.1M217.3 284.8L212.3 282.5M218.3 272.6L220.2 280.1M218.3 272.6L222.2 269.4M218.3 272.6L212.7 270.1M221.1 263.4L222.2 269.4M221.1 263.4L226 262.1M221.1 263.4L215.3 260.6M225.6 258.1L226 262.1M225.6 258.1L231.1 259.1M225.6 258.1L219.7 255.3M231.3 257.3L231.1 259.1M231.3 257.3L237 260.6M231.3 257.3L225.5 254.5M224.4 296.8L226.9 292.8M224.4 296.8L219.9 293.1M225.2 284.3L226.9 292.8M225.2 284.3L228.7 281.5M225.2 284.3L220.2 280.1M227.6 274L228.7 281.5M227.6 274L231.9 272.9M227.6 274L222.2 269.4M231.5 267L231.9 272.9M231.5 267L236.4 268M231.5 267L226 262.1M236.5 264.1L236.4 268M236.5 264.1L241.6 267.2M236.5 264.1L231.1 259.1M242 265.5L241.6 267.2M242 265.5L246.9 270.6M242 265.5L237 260.6M233.2 287.5L236.8 286.5M233.2 287.5L228.7 281.5M236.6 279.4L236.8 286.5M236.6 279.4L240.7 280.3M236.6 279.4L231.9 272.9M240.9 274.7L240.7 280.3M240.9 274.7L245.2 277.6M240.9 274.7L236.4 268M245.8 274L245.2 277.6M245.8 274L249.9 278.8M245.8 274L241.6 267.2M250.6 277.2L249.9 278.8M250.6 277.2L254.2 283.7M250.6 277.2L246.9 270.6M254.8 284L254.2 283.7M254.8 284L257.4 291.8M240.3 294L236.8 286.5M244.1 288.2L247.5 290.7M244.1 288.2L240.7 280.3M248.4 285.7L247.5 290.7M248.4 285.7L251.6 290M248.4 285.7L245.2 277.6M252.5 286.7L251.6 290M252.5 286.7L255.2 292.7M252.5 286.7L249.9 278.8M256.1 291.2L255.2 292.7M256.1 291.2L254.2 283.7M258.6 298.6L257.4 291.8" stroke="#a8a8a8" stroke-width="1.1700000000000002" fill="none"/>
<circle cx="229.5" cy="269.8" r="8.1" fill="url(#sgd)"/><circle cx="220.2" cy="276.6" r="8.5" fill="url(#sgd)"/><circle cx="242.6" cy="276.9" r="7.6" fill="url(#sgd)"/><circle cx="230.7" cy="282.4" r="7.6" fill="url(#sgd)"/><circle cx="200.3" cy="285.1" r="7.1" fill="url(#sgd)"/><circle cx="212.9" cy="285.4" r="7.7" fill="url(#sgd)"/><circle cx="207.9" cy="285.5" r="8.4" fill="url(#sgd)"/><circle cx="242.3" cy="289.8" r="7.4" fill="url(#sgd)"/><circle cx="220.6" cy="290.3" r="7.8" fill="url(#sgd)"/><circle cx="197.6" cy="292.4" r="8.3" fill="url(#sgd)"/><circle cx="208" cy="294.8" r="7.3" fill="url(#sgd)"/><circle cx="233.1" cy="296.3" r="7.9" fill="url(#sgd)"/><circle cx="210.5" cy="297.8" r="8.5" fill="url(#sgd)"/><circle cx="244.8" cy="301.3" r="7.9" fill="url(#sgd)"/><circle cx="221.4" cy="303.3" r="8.1" fill="url(#sgd)"/><circle cx="212.8" cy="304.6" r="7.2" fill="url(#sgd)"/><circle cx="201.5" cy="305.3" r="7.1" fill="url(#sgd)"/><circle cx="233.9" cy="310.4" r="8.2" fill="url(#sgd)"/><circle cx="226" cy="310.7" r="7.5" fill="url(#sgd)"/><circle cx="237.6" cy="311.5" r="8.3" fill="url(#sgd)"/><circle cx="249.8" cy="311.5" r="8.2" fill="url(#sgd)"/><circle cx="214.8" cy="311.7" r="8" fill="url(#sgd)"/><circle cx="209.8" cy="312.2" r="8" fill="url(#sgd)"/><circle cx="222.6" cy="317.6" r="7.5" fill="url(#sgd)"/>
<path d="M195.8 324.2L192.9 320.6M195.8 324.2L195.7 320.6M189 315L188.1 313.2M189.7 312.5L190 307.8M189.7 312.5L192.9 320.6M193 312.4L190 307.8M193 312.4L194.6 309M193 312.4L195.7 320.6M198.4 314.7L194.6 309M198.4 314.7L201.1 312.7M198.4 314.7L200.6 322.6M205.3 319.1L201.1 312.7M205.3 319.1L208.7 318.4M188.6 299.1L190.7 295M188.6 299.1L190 307.8M193.7 300.4L190.7 295M193.7 300.4L197.1 297.9M193.7 300.4L194.6 309M200.7 304.6L197.1 297.9M200.7 304.6L204.8 303.7M200.7 304.6L201.1 312.7M208.7 311.1L204.8 303.7M208.7 311.1L213.2 311.5M208.7 311.1L208.7 318.4M216.9 319.1L213.2 311.5M216.9 319.1L221.2 320.5M191.2 286.4L189.2 282M191.2 286.4L195.1 283.5M191.2 286.4L190.7 295M197.9 289.6L195.1 283.5M197.9 289.6L202.7 288.5M197.9 289.6L197.1 297.9M206 295.9L202.7 288.5M206 295.9L211.2 296.5M206 295.9L204.8 303.7M214.5 304.7L211.2 296.5M214.5 304.7L219.7 306.5M214.5 304.7L213.2 311.5M222.7 314.8L219.7 306.5M222.7 314.8L227.4 317.4M222.7 314.8L221.2 320.5M191.2 274.3L190.1 271.5M191.2 274.3L195.4 271M191.2 274.3L189.2 282M197.4 275.8L195.4 271M197.4 275.8L202.6 274.6M197.4 275.8L195.1 283.5M205.2 281.2L202.6 274.6M205.2 281.2L211 281.9M205.2 281.2L202.7 288.5M213.7 289.8L211 281.9M213.7 289.8L219.6 292.1M213.7 289.8L211.2 296.5M222.2 300.7L219.6 292.1M222.2 300.7L227.6 304.1M222.2 300.7L219.7 306.5M229.7 312.6L227.6 304.1M229.7 312.6L234.2 316.5M229.7 312.6L227.4 317.4M193.4 265.2L193.4 264.5M193.4 265.2L198 261.7M193.4 265.2L190.1 271.5M199 264.7L198 261.7M199 264.7L204.6 263.4M199 264.7L195.4 271M206.3 268.5L204.6 263.4M206.3 268.5L212.5 269.3M206.3 268.5L202.6 274.6M214.6 276.2L212.5 269.3M214.6 276.2L220.9 278.9M214.6 276.2L211 281.9M223.1 286.9L220.9 278.9M223.1 286.9L228.9 291M223.1 286.9L219.6 292.1M230.8 299.6L228.9 291M230.8 299.6L235.8 304.5M230.8 299.6L227.6 304.1M237 312.9L235.8 304.5M237 312.9L234.2 316.5M202.7 257.3L202.5 256.6M202.7 257.3L208.4 256M202.7 257.3L198 261.7M209.3 259L208.4 256M209.3 259L215.7 259.9M209.3 259L204.6 263.4M217.1 265.1L215.7 259.9M217.1 265.1L223.6 268.1M217.1 265.1L212.5 269.3M225.3 275L223.6 268.1M225.3 275L231.4 279.7M225.3 275L220.9 278.9M232.9 287.6L231.4 279.7M232.9 287.6L238.3 293.3M232.9 287.6L228.9 291M239.3 301.6L238.3 293.3M239.3 301.6L243.3 307.7M239.3 301.6L235.8 304.5M243.6 315.6L243.3 307.7M213.9 253.9L213.6 253.2M213.9 253.9L220.2 254.8M213.9 253.9L208.4 256M221 257.9L220.2 254.8M221 257.9L227.5 261.1M221 257.9L215.7 259.9M228.7 266.1L227.5 261.1M228.7 266.1L234.9 271.2M228.7 266.1L223.6 268.1M236 277.8L234.9 271.2M236 277.8L241.4 284.2M236 277.8L231.4 279.7M242.2 291.7L241.4 284.2M242.2 291.7L246.4 298.7M242.2 291.7L238.3 293.3M246.6 306.4L246.4 298.7M246.6 306.4L243.3 307.7M225.9 255.2L225.5 254.5M225.9 255.2L232.2 258.5M225.9 255.2L220.2 254.8M232.9 261.3L232.2 258.5M232.9 261.3L238.9 266.6M232.9 261.3L227.5 261.1M239.7 271.4L238.9 266.6M239.7 271.4L245 278.2M239.7 271.4L234.9 271.2M245.6 284.4L245 278.2M245.6 284.4L249.7 292M245.6 284.4L241.4 284.2M249.8 298.8L249.7 292M249.8 298.8L252.4 306.5M249.8 298.8L246.4 298.7M237.5 261.1L237 260.6M237.5 261.1L243.1 266.4M237.5 261.1L232.2 258.5M243.7 269.1L243.1 266.4M243.7 269.1L248.6 276.1M243.7 269.1L238.9 266.6M249.1 280.4L248.6 276.1M249.1 280.4L252.9 288.4M249.1 280.4L245 278.2M252.9 293.8L252.9 288.4M252.9 293.8L255.3 302.1M252.9 293.8L249.7 292M254.8 308L255.3 302.1M254.8 308L252.4 306.5M247.5 271.1L246.9 270.6M247.5 271.1L251.8 277.9M247.5 271.1L243.1 266.4M252.3 280.3L251.8 277.9M252.3 280.3L255.6 288.3M252.3 280.3L248.6 276.1M255.7 292.1L255.6 288.3M255.7 292.1L257.7 300.6M255.7 292.1L252.9 288.4M257.3 305.2L257.7 300.6M257.3 305.2L255.3 302.1M254.8 284L251.8 277.9M257.7 293.7L257.4 291.8M257.7 293.7L255.6 288.3" stroke="#555" stroke-width="1.3" fill="none"/><g fill="#4e4e4e"><circle cx="247.5" cy="271.1" r="1.5"/><circle cx="251.8" cy="277.9" r="1.5"/><circle cx="189" cy="315" r="1.5"/><circle cx="257.7" cy="293.7" r="1.5"/><circle cx="237.5" cy="261.1" r="1.5"/><circle cx="193.4" cy="265.2" r="1.5"/><circle cx="225.9" cy="255.2" r="1.5"/><circle cx="243.1" cy="266.4" r="1.5"/><circle cx="202.7" cy="257.3" r="1.5"/><circle cx="213.9" cy="253.9" r="1.5"/><circle cx="252.3" cy="280.3" r="1.5"/><circle cx="255.6" cy="288.3" r="1.5"/><circle cx="190.1" cy="271.5" r="1.5"/><circle cx="232.2" cy="258.5" r="1.5"/><circle cx="198" cy="261.7" r="1.5"/><circle cx="220.2" cy="254.8" r="1.5"/><circle cx="208.4" cy="256" r="1.5"/><circle cx="192.9" cy="320.6" r="1.5"/><circle cx="257.7" cy="300.6" r="1.5"/><circle cx="243.7" cy="269.1" r="1.5"/><circle cx="189.7" cy="312.5" r="1.5"/><circle cx="255.7" cy="292.1" r="1.5"/><circle cx="248.6" cy="276.1" r="1.5"/><circle cx="195.8" cy="324.2" r="1.5"/><circle cx="257.3" cy="305.2" r="1.5"/><circle cx="191.2" cy="274.3" r="1.5"/><circle cx="232.9" cy="261.3" r="1.5"/><circle cx="189.2" cy="282" r="1.5"/><circle cx="238.9" cy="266.6" r="1.5"/><circle cx="190" cy="307.8" r="1.5"/><circle cx="252.9" cy="288.4" r="1.5"/><circle cx="199" cy="264.7" r="1.5"/><circle cx="221" cy="257.9" r="1.5"/><circle cx="188.6" cy="299.1" r="1.5"/><circle cx="249.1" cy="280.4" r="1.5"/><circle cx="209.3" cy="259" r="1.5"/><circle cx="195.7" cy="320.6" r="1.5"/><circle cx="255.3" cy="302.1" r="1.5"/><circle cx="254.8" cy="308" r="1.5"/><circle cx="195.4" cy="271" r="1.5"/><circle cx="227.5" cy="261.1" r="1.5"/><circle cx="193" cy="312.4" r="1.5"/><circle cx="252.9" cy="293.8" r="1.5"/><circle cx="204.6" cy="263.4" r="1.5"/><circle cx="215.7" cy="259.9" r="1.5"/><circle cx="191.2" cy="286.4" r="1.5"/><circle cx="239.7" cy="271.4" r="1.5"/><circle cx="190.7" cy="295" r="1.5"/><circle cx="245" cy="278.2" r="1.5"/><circle cx="200.6" cy="322.6" r="1.5"/><circle cx="252.4" cy="306.5" r="1.5"/><circle cx="194.6" cy="309" r="1.5"/><circle cx="249.7" cy="292" r="1.5"/><circle cx="197.4" cy="275.8" r="1.5"/><circle cx="228.7" cy="266.1" r="1.5"/><circle cx="193.7" cy="300.4" r="1.5"/><circle cx="245.6" cy="284.4" r="1.5"/><circle cx="195.1" cy="283.5" r="1.5"/><circle cx="234.9" cy="271.2" r="1.5"/><circle cx="249.8" cy="298.8" r="1.5"/><circle cx="198.4" cy="314.7" r="1.5"/><circle cx="206.3" cy="268.5" r="1.5"/><circle cx="217.1" cy="265.1" r="1.5"/><circle cx="202.6" cy="274.6" r="1.5"/><circle cx="223.6" cy="268.1" r="1.5"/><circle cx="212.5" cy="269.3" r="1.5"/><circle cx="197.1" cy="297.9" r="1.5"/><circle cx="241.4" cy="284.2" r="1.5"/><circle cx="201.1" cy="312.7" r="1.5"/><circle cx="246.4" cy="298.7" r="1.5"/><circle cx="205.3" cy="319.1" r="1.5"/><circle cx="246.6" cy="306.4" r="1.5"/><circle cx="197.9" cy="289.6" r="1.5"/><circle cx="236" cy="277.8" r="1.5"/><circle cx="243.6" cy="315.6" r="1.5"/><circle cx="242.2" cy="291.7" r="1.5"/><circle cx="200.7" cy="304.6" r="1.5"/><circle cx="208.7" cy="318.4" r="1.5"/><circle cx="243.3" cy="307.7" r="1.5"/><circle cx="205.2" cy="281.2" r="1.5"/><circle cx="225.3" cy="275" r="1.5"/><circle cx="202.7" cy="288.5" r="1.5"/><circle cx="231.4" cy="279.7" r="1.5"/><circle cx="214.6" cy="276.2" r="1.5"/><circle cx="204.8" cy="303.7" r="1.5"/><circle cx="238.3" cy="293.3" r="1.5"/><circle cx="208.7" cy="311.1" r="1.5"/><circle cx="239.3" cy="301.6" r="1.5"/><circle cx="216.9" cy="319.1" r="1.5"/><circle cx="237" cy="312.9" r="1.5"/><circle cx="211" cy="281.9" r="1.5"/><circle cx="220.9" cy="278.9" r="1.5"/><circle cx="221.2" cy="320.5" r="1.5"/><circle cx="234.2" cy="316.5" r="1.5"/><circle cx="206" cy="295.9" r="1.5"/><circle cx="232.9" cy="287.6" r="1.5"/><circle cx="227.4" cy="317.4" r="1.5"/><circle cx="213.2" cy="311.5" r="1.5"/><circle cx="235.8" cy="304.5" r="1.5"/><circle cx="222.7" cy="314.8" r="1.5"/><circle cx="229.7" cy="312.6" r="1.5"/><circle cx="211.2" cy="296.5" r="1.5"/><circle cx="228.9" cy="291" r="1.5"/><circle cx="213.7" cy="289.8" r="1.5"/><circle cx="223.1" cy="286.9" r="1.5"/><circle cx="214.5" cy="304.7" r="1.5"/><circle cx="230.8" cy="299.6" r="1.5"/><circle cx="219.6" cy="292.1" r="1.5"/><circle cx="219.7" cy="306.5" r="1.5"/><circle cx="227.6" cy="304.1" r="1.5"/><circle cx="222.2" cy="300.7" r="1.5"/></g>
<circle cx="245.3" cy="321.5" r="8.6" fill="url(#sg)"/><circle cx="194.2" cy="322.2" r="8.8" fill="url(#sg)"/><circle cx="257.8" cy="322.2" r="8.5" fill="url(#sg)"/><circle cx="206.7" cy="322.2" r="8.3" fill="url(#sg)"/><circle cx="219.6" cy="322.3" r="8.7" fill="url(#sg)"/><circle cx="232.2" cy="322.4" r="8.7" fill="url(#sg)"/>
<path d="M373.3 291.6L372.9 293.6M305.4 287.5L305.8 293.8M305.8 293.8L307.2 295.7M305.8 293.8L305.5 298.2M309 285L309.3 291.3M309.3 291.3L312.4 293.3M309.3 291.3L307.2 295.7M315.7 282.7L316 289M316 289L320.6 291.2M316 289L312.4 293.3M325 280.9L325.3 287.2M325.3 287.2L330.8 289.7M325.3 287.2L320.6 291.2M335.8 279.7L336.1 286.1M336.1 286.1L341.9 288.9M336.1 286.1L330.8 289.7M347 279.4L347.3 285.7M347.3 285.7L352.8 289M347.3 285.7L341.9 288.9M357.3 279.8L357.6 286.2M357.6 286.2L362.2 289.9M357.6 286.2L352.8 289M365.6 281.1L365.9 287.4M365.9 287.4L369.2 291.5M365.9 287.4L362.2 289.9M371 283L371.3 289.3M371.3 289.3L372.9 293.6M371.3 289.3L369.2 291.5M305.5 298.2L305.8 304.5M305.8 304.5L306.4 306.4M307.2 295.7L307.6 302M307.6 302L306.4 306.4M307.6 302L309.9 303.9M312.4 293.3L312.8 299.6M312.8 299.6L309.9 303.9M312.8 299.6L316.7 301.7M320.6 291.2L320.9 297.5M320.9 297.5L316.7 301.7M320.9 297.5L326 299.9M330.8 289.7L331.1 296M331.1 296L326 299.9M331.1 296L336.8 298.7M341.9 288.9L342.2 295.3M342.2 295.3L336.8 298.7M342.2 295.3L347.9 298.4M352.8 289L353.1 295.3M353.1 295.3L347.9 298.4M353.1 295.3L358.2 298.8M362.2 289.9L362.5 296.2M362.5 296.2L358.2 298.8M362.5 296.2L366.5 300.1M369.2 291.5L369.5 297.8M369.5 297.8L366.5 300.1M369.5 297.8L371.9 302M372.9 293.6L373.2 299.9M373.2 299.9L371.9 302M373.2 299.9L373.9 304.3M373.9 304.3L374.2 310.6M306.4 306.4L306.7 312.8M309.9 303.9L310.2 310.3M316.7 301.7L317 308M326 299.9L326.3 306.2M336.8 298.7L337.1 305M347.9 298.4L348.2 304.7M358.2 298.8L358.5 305.1M366.5 300.1L366.8 306.4M371.9 302L372.3 308.3" stroke="#a8a8a8" stroke-width="1.04" fill="none"/><path d="M305.1 284.9L305.6 284.7M306.7 279.6L307.8 280.7M306.7 279.6L307.9 274.1M306.7 279.6L305.6 284.7M309.9 276.5L311.6 279M309.9 276.5L311.5 270.8M309.9 276.5L307.8 280.7M310.6 269.5L311.5 270.8M310.6 269.5L313.5 264.8M310.6 269.5L307.9 274.1M314.5 276.1L316.4 280M314.5 276.1L316.4 270.4M314.5 276.1L311.6 279M315.1 267.6L316.4 270.4M315.1 267.6L318.2 262.7M315.1 267.6L311.5 270.8M317.6 261.3L318.2 262.7M317.6 261.3L321.8 257.8M317.6 261.3L313.5 264.8M319.8 278.5L321.9 272.9M319.8 278.5L316.4 280M320.4 268.6L321.9 272.9M320.4 268.6L323.7 263.9M320.4 268.6L316.4 270.4M322.8 260.8L323.7 263.9M322.8 260.8L327.2 257.3M322.8 260.8L318.2 262.7M326.8 255.7L327.2 257.3M326.8 255.7L331.9 253.8M326.8 255.7L321.8 257.8M326 272.6L327.4 278M326 272.6L329.3 268.1M326 272.6L321.9 272.9M328.5 263.6L329.3 268.1M328.5 263.6L332.8 260.1M328.5 263.6L323.7 263.9M332.4 256.9L332.8 260.1M332.4 256.9L337.4 255M332.4 256.9L327.2 257.3M337.3 253.5L337.4 255M337.3 253.5L342.8 253.3M337.3 253.5L331.9 253.8M331.4 279.1L334.5 274.9M331.4 279.1L327.4 278M333.9 269.3L334.5 274.9M333.9 269.3L338 266.1M333.9 269.3L329.3 268.1M337.7 261.5L338 266.1M337.7 261.5L342.5 259.7M337.7 261.5L332.8 260.1M342.6 256.4L342.5 259.7M342.6 256.4L347.8 256.2M342.6 256.4L337.4 255M348 254.7L347.8 256.2M348 254.7L353.2 256.2M348 254.7L342.8 253.3M338.5 277.4L342.2 274.6M338.5 277.4L334.5 274.9M342.3 268.9L342.2 274.6M342.3 268.9L346.7 267.2M342.3 268.9L338 266.1M347.1 262.6L346.7 267.2M347.1 262.6L351.9 262.4M347.1 262.6L342.5 259.7M352.5 259.3L351.9 262.4M352.5 259.3L357.2 260.8M352.5 259.3L347.8 256.2M357.8 259.3L357.2 260.8M357.8 259.3L362.2 262.4M357.8 259.3L353.2 256.2M345.8 278.4L349.6 276.9M345.8 278.4L342.2 274.6M350.5 271.4L349.6 276.9M350.5 271.4L354.6 271.2M350.5 271.4L346.7 267.2M355.6 266.9L354.6 271.2M355.6 266.9L359.8 268.2M355.6 266.9L351.9 262.4M360.9 265.3L359.8 268.2M360.9 265.3L364.7 268.2M360.9 265.3L357.2 260.8M365.5 266.8L364.7 268.2M365.5 266.8L368.7 271.1M365.5 266.8L362.2 262.4M357.3 276.6L360.8 277.7M357.3 276.6L354.6 271.2M362.3 273.7L360.8 277.7M362.3 273.7L365.5 276.3M362.3 273.7L359.8 268.2M366.9 273.7L365.5 276.3M366.9 273.7L369.4 277.6M366.9 273.7L364.7 268.2M370.4 276.4L369.4 277.6M370.4 276.4L372.1 281.4M370.4 276.4L368.7 271.1M372.5 281.5L372.1 281.4" stroke="#a8a8a8" stroke-width="1.1700000000000002" fill="none"/>
<circle cx="362.5" cy="282.8" r="7.7" fill="url(#sgd)"/><circle cx="349.8" cy="283.2" r="7.6" fill="url(#sgd)"/><circle cx="338.5" cy="283.2" r="7.7" fill="url(#sgd)"/><circle cx="372.4" cy="292.5" r="8" fill="url(#sgd)"/><circle cx="333.7" cy="293" r="7.7" fill="url(#sgd)"/><circle cx="320.6" cy="293.3" r="8.2" fill="url(#sgd)"/><circle cx="359" cy="293.3" r="7.9" fill="url(#sgd)"/><circle cx="345.5" cy="293.5" r="8.1" fill="url(#sgd)"/><circle cx="336.4" cy="304.2" r="7.6" fill="url(#sgd)"/><circle cx="372" cy="304.6" r="7.5" fill="url(#sgd)"/><circle cx="360.3" cy="305.2" r="7.5" fill="url(#sgd)"/><circle cx="347.9" cy="305.2" r="7.7" fill="url(#sgd)"/><circle cx="312.1" cy="305.3" r="7.8" fill="url(#sgd)"/><circle cx="324.2" cy="305.4" r="8.1" fill="url(#sgd)"/>
<path d="M373 285.3L373.3 291.6M373.3 291.6L373 296M371.2 287.8L371.6 294.1M371.6 294.1L369.5 298.5M371.6 294.1L373 296M366 290.2L366.3 296.6M366.3 296.6L362.7 300.8M366.3 296.6L369.5 298.5M357.9 292.3L358.2 298.6M358.2 298.6L353.5 302.6M358.2 298.6L362.7 300.8M347.7 293.8L348 300.1M348 300.1L342.6 303.8M348 300.1L353.5 302.6M336.6 294.6L336.9 300.9M336.9 300.9L331.5 304.1M336.9 300.9L342.6 303.8M325.7 294.5L326 300.8M326 300.8L321.2 303.6M326 300.8L331.5 304.1M316.3 293.6L316.6 299.9M316.6 299.9L312.9 302.4M316.6 299.9L321.2 303.6M309.3 292L309.6 298.4M309.6 298.4L307.5 300.5M309.6 298.4L312.9 302.4M305.6 289.9L305.9 296.2M305.9 296.2L305.5 298.2M305.9 296.2L307.5 300.5M373 296L373.3 302.4M373.3 302.4L373.9 304.3M373.3 302.4L372.2 306.8M369.5 298.5L369.8 304.9M369.8 304.9L372.2 306.8M369.8 304.9L367 309.2M362.7 300.8L363.1 307.1M363.1 307.1L367 309.2M363.1 307.1L358.8 311.3M353.5 302.6L353.8 308.9M353.8 308.9L358.8 311.3M353.8 308.9L348.6 312.8M342.6 303.8L343 310.1M343 310.1L348.6 312.8M343 310.1L337.5 313.5M331.5 304.1L331.8 310.4M331.8 310.4L337.5 313.5M331.8 310.4L326.6 313.5M321.2 303.6L321.5 310M321.5 310L326.6 313.5M321.5 310L317.2 312.6M312.9 302.4L313.2 308.7M313.2 308.7L317.2 312.6M313.2 308.7L310.3 311M307.5 300.5L307.8 306.8M307.8 306.8L310.3 311M307.8 306.8L306.5 308.9M305.8 304.5L306.5 308.9M372.2 306.8L372.5 313.1M367 309.2L367.3 315.5M358.8 311.3L359.2 317.6M348.6 312.8L349 319.1M337.5 313.5L337.8 319.9M326.6 313.5L327 319.8M317.2 312.6L317.5 318.9M310.3 311L310.6 317.3M306.5 308.9L306.8 315.2" stroke="#555" stroke-width="1.3" fill="none"/><g fill="#4e4e4e"><circle cx="373" cy="285.3" r="1.5"/><circle cx="371.2" cy="287.8" r="1.5"/><circle cx="371.6" cy="294.1" r="1.5"/><circle cx="366" cy="290.2" r="1.5"/><circle cx="366.3" cy="296.6" r="1.5"/><circle cx="357.9" cy="292.3" r="1.5"/><circle cx="358.2" cy="298.6" r="1.5"/><circle cx="347.7" cy="293.8" r="1.5"/><circle cx="348" cy="300.1" r="1.5"/><circle cx="336.6" cy="294.6" r="1.5"/><circle cx="336.9" cy="300.9" r="1.5"/><circle cx="325.7" cy="294.5" r="1.5"/><circle cx="326" cy="300.8" r="1.5"/><circle cx="316.3" cy="293.6" r="1.5"/><circle cx="316.6" cy="299.9" r="1.5"/><circle cx="309.3" cy="292" r="1.5"/><circle cx="309.6" cy="298.4" r="1.5"/><circle cx="305.6" cy="289.9" r="1.5"/><circle cx="305.9" cy="296.2" r="1.5"/><circle cx="373" cy="296" r="1.5"/><circle cx="373.3" cy="302.4" r="1.5"/><circle cx="369.5" cy="298.5" r="1.5"/><circle cx="369.8" cy="304.9" r="1.5"/><circle cx="362.7" cy="300.8" r="1.5"/><circle cx="363.1" cy="307.1" r="1.5"/><circle cx="353.5" cy="302.6" r="1.5"/><circle cx="353.8" cy="308.9" r="1.5"/><circle cx="342.6" cy="303.8" r="1.5"/><circle cx="343" cy="310.1" r="1.5"/><circle cx="331.5" cy="304.1" r="1.5"/><circle cx="331.8" cy="310.4" r="1.5"/><circle cx="321.2" cy="303.6" r="1.5"/><circle cx="321.5" cy="310" r="1.5"/><circle cx="312.9" cy="302.4" r="1.5"/><circle cx="313.2" cy="308.7" r="1.5"/><circle cx="307.5" cy="300.5" r="1.5"/><circle cx="307.8" cy="306.8" r="1.5"/><circle cx="372.2" cy="306.8" r="1.5"/><circle cx="372.5" cy="313.1" r="1.5"/><circle cx="367" cy="309.2" r="1.5"/><circle cx="367.3" cy="315.5" r="1.5"/><circle cx="358.8" cy="311.3" r="1.5"/><circle cx="359.2" cy="317.6" r="1.5"/><circle cx="348.6" cy="312.8" r="1.5"/><circle cx="349" cy="319.1" r="1.5"/><circle cx="337.5" cy="313.5" r="1.5"/><circle cx="337.8" cy="319.9" r="1.5"/><circle cx="326.6" cy="313.5" r="1.5"/><circle cx="327" cy="319.8" r="1.5"/><circle cx="317.2" cy="312.6" r="1.5"/><circle cx="317.5" cy="318.9" r="1.5"/><circle cx="310.3" cy="311" r="1.5"/><circle cx="310.6" cy="317.3" r="1.5"/><circle cx="306.5" cy="308.9" r="1.5"/></g><path d="M306.7 289.9L305.7 287.5M306.7 289.9L308.1 286.5M309.7 290L308.1 286.5M309.7 290L312 287.8M314.1 292.3L312 287.8M314.1 292.3L317 291.2M305.1 284.9L305.8 279.9M306.1 281.4L305.8 279.9M306.1 281.4L308 277.4M306.1 281.4L305.7 287.5M309 280.2L308 277.4M309 280.2L311.9 277.5M309 280.2L308.1 286.5M313.3 281.6L311.9 277.5M313.3 281.6L316.9 280.3M313.3 281.6L312 287.8M318.5 285.4L316.9 280.3M318.5 285.4L322.5 285.3M318.5 285.4L317 291.2M324.2 291.1L322.5 285.3M324.2 291.1L328.1 292M307.5 274.3L307.9 274.1M307.5 274.3L309.9 269.9M307.5 274.3L305.8 279.9M310.2 271.6L309.9 269.9M310.2 271.6L313.6 268.5M310.2 271.6L308 277.4M314.4 271.7L313.6 268.5M314.4 271.7L318.6 270.1M314.4 271.7L311.9 277.5M319.7 274.6L318.6 270.1M319.7 274.6L324.3 274.5M319.7 274.6L316.9 280.3M325.4 280.1L324.3 274.5M325.4 280.1L330 281.3M325.4 280.1L322.5 285.3M331 287.4L330 281.3M331 287.4L335.3 289.6M331 287.4L328.1 292M313.2 265L313.5 264.8M313.2 265L317.1 261.7M313.2 265L309.9 269.9M317.3 263.5L317.1 261.7M317.3 263.5L322 261.8M317.3 263.5L313.6 268.5M322.5 265.2L322 261.8M322.5 265.2L327.6 265.1M322.5 265.2L318.6 270.1M328.2 269.9L327.6 265.1M328.2 269.9L333.3 271.2M328.2 269.9L324.3 274.5M333.9 277.1L333.3 271.2M333.9 277.1L338.6 279.6M333.9 277.1L330 281.3M338.9 285.9L338.6 279.6M338.9 285.9L343 289.2M338.9 285.9L335.3 289.6M321.6 258L321.8 257.8M321.6 258L326.6 256.2M321.6 258L317.1 261.7M326.7 258.1L326.6 256.2M326.7 258.1L332.1 257.9M326.7 258.1L322 261.8M332.4 261.5L332.1 257.9M332.4 261.5L337.8 263M332.4 261.5L327.6 265.1M338 267.9L337.8 263M338 267.9L343.1 270.8M338 267.9L333.3 271.2M343.1 276.6L343.1 270.8M343.1 276.6L347.4 280.4M343.1 276.6L338.6 279.6M347 286.6L347.4 280.4M347 286.6L350.3 290.9M347 286.6L343 289.2M331.8 254L331.9 253.8M331.8 254L337.3 253.9M331.8 254L326.6 256.2M337.4 255.8L337.3 253.9M337.4 255.8L343 257.4M337.4 255.8L332.1 257.9M343 261L343 257.4M343 261L348.2 264.1M343 261L337.8 263M348 268.9L348.2 264.1M348 268.9L352.4 273.1M348 268.9L343.1 270.8M351.8 278.8L352.4 273.1M351.8 278.8L355.3 283.7M351.8 278.8L347.4 280.4M354.2 289.6L355.3 283.7M354.2 289.6L350.3 290.9M342.8 253.5L342.8 253.3M342.8 253.5L348.3 255.1M342.8 253.5L337.3 253.9M348.3 257L348.3 255.1M348.3 257L353.4 260.2M348.3 257L343 257.4M353.2 263.7L353.4 260.2M353.2 263.7L357.6 268.2M353.2 263.7L348.2 264.1M357 272.8L357.6 268.2M357 272.8L360.3 278.1M357 272.8L352.4 273.1M359.2 283.3L360.3 278.1M359.2 283.3L361.3 289M359.2 283.3L355.3 283.7M353.4 256.4L353.2 256.2M353.4 256.4L358.3 259.6M353.4 256.4L348.3 255.1M358.3 261.5L358.3 259.6M358.3 261.5L362.4 266.1M358.3 261.5L353.4 260.2M361.9 269.3L362.4 266.1M361.9 269.3L365 274.9M361.9 269.3L357.6 268.2M364.1 279.1L365 274.9M364.1 279.1L365.9 285.1M364.1 279.1L360.3 278.1M364.3 289.7L365.9 285.1M364.3 289.7L361.3 289M362.5 262.5L362.2 262.4M362.5 262.5L366.2 267.1M362.5 262.5L358.3 259.6M366.1 268.8L366.2 267.1M366.1 268.8L368.9 274.4M366.1 268.8L362.4 266.1M368.2 277.3L368.9 274.4M368.2 277.3L369.7 283.4M368.2 277.3L365 274.9M368.4 287.1L369.7 283.4M368.4 287.1L365.9 285.1M369.1 271.2L368.7 271.1M369.1 271.2L371.3 276.6M369.1 271.2L366.2 267.1M371.2 278.1L371.3 276.6M371.2 278.1L372.2 284.2M371.2 278.1L368.9 274.4M371.4 286.7L372.2 284.2M371.4 286.7L369.7 283.4M372.5 281.5L371.3 276.6" stroke="#555" stroke-width="1.3" fill="none"/><g fill="#4e4e4e"><circle cx="307.5" cy="274.3" r="1.5"/><circle cx="369.1" cy="271.2" r="1.5"/><circle cx="305.8" cy="279.9" r="1.5"/><circle cx="371.3" cy="276.6" r="1.5"/><circle cx="362.5" cy="262.5" r="1.5"/><circle cx="313.2" cy="265" r="1.5"/><circle cx="321.6" cy="258" r="1.5"/><circle cx="353.4" cy="256.4" r="1.5"/><circle cx="309.9" cy="269.9" r="1.5"/><circle cx="366.2" cy="267.1" r="1.5"/><circle cx="331.8" cy="254" r="1.5"/><circle cx="342.8" cy="253.5" r="1.5"/><circle cx="317.1" cy="261.7" r="1.5"/><circle cx="358.3" cy="259.6" r="1.5"/><circle cx="306.1" cy="281.4" r="1.5"/><circle cx="371.2" cy="278.1" r="1.5"/><circle cx="305.7" cy="287.5" r="1.5"/><circle cx="372.2" cy="284.2" r="1.5"/><circle cx="326.6" cy="256.2" r="1.5"/><circle cx="348.3" cy="255.1" r="1.5"/><circle cx="337.3" cy="253.9" r="1.5"/><circle cx="310.2" cy="271.6" r="1.5"/><circle cx="366.1" cy="268.8" r="1.5"/><circle cx="308" cy="277.4" r="1.5"/><circle cx="368.9" cy="274.4" r="1.5"/><circle cx="306.7" cy="289.9" r="1.5"/><circle cx="371.4" cy="286.7" r="1.5"/><circle cx="317.3" cy="263.5" r="1.5"/><circle cx="358.3" cy="261.5" r="1.5"/><circle cx="326.7" cy="258.1" r="1.5"/><circle cx="348.3" cy="257" r="1.5"/><circle cx="313.6" cy="268.5" r="1.5"/><circle cx="362.4" cy="266.1" r="1.5"/><circle cx="337.4" cy="255.8" r="1.5"/><circle cx="308.1" cy="286.5" r="1.5"/><circle cx="369.7" cy="283.4" r="1.5"/><circle cx="309" cy="280.2" r="1.5"/><circle cx="368.2" cy="277.3" r="1.5"/><circle cx="322" cy="261.8" r="1.5"/><circle cx="353.4" cy="260.2" r="1.5"/><circle cx="332.1" cy="257.9" r="1.5"/><circle cx="343" cy="257.4" r="1.5"/><circle cx="309.7" cy="290" r="1.5"/><circle cx="368.4" cy="287.1" r="1.5"/><circle cx="314.4" cy="271.7" r="1.5"/><circle cx="361.9" cy="269.3" r="1.5"/><circle cx="311.9" cy="277.5" r="1.5"/><circle cx="365" cy="274.9" r="1.5"/><circle cx="322.5" cy="265.2" r="1.5"/><circle cx="353.2" cy="263.7" r="1.5"/><circle cx="312" cy="287.8" r="1.5"/><circle cx="365.9" cy="285.1" r="1.5"/><circle cx="318.6" cy="270.1" r="1.5"/><circle cx="357.6" cy="268.2" r="1.5"/><circle cx="332.4" cy="261.5" r="1.5"/><circle cx="343" cy="261" r="1.5"/><circle cx="313.3" cy="281.6" r="1.5"/><circle cx="364.1" cy="279.1" r="1.5"/><circle cx="364.3" cy="289.7" r="1.5"/><circle cx="314.1" cy="292.3" r="1.5"/><circle cx="327.6" cy="265.1" r="1.5"/><circle cx="348.2" cy="264.1" r="1.5"/><circle cx="337.8" cy="263" r="1.5"/><circle cx="316.9" cy="280.3" r="1.5"/><circle cx="360.3" cy="278.1" r="1.5"/><circle cx="319.7" cy="274.6" r="1.5"/><circle cx="357" cy="272.8" r="1.5"/><circle cx="361.3" cy="289" r="1.5"/><circle cx="317" cy="291.2" r="1.5"/><circle cx="318.5" cy="285.4" r="1.5"/><circle cx="359.2" cy="283.3" r="1.5"/><circle cx="328.2" cy="269.9" r="1.5"/><circle cx="348" cy="268.9" r="1.5"/><circle cx="324.3" cy="274.5" r="1.5"/><circle cx="352.4" cy="273.1" r="1.5"/><circle cx="338" cy="267.9" r="1.5"/><circle cx="333.3" cy="271.2" r="1.5"/><circle cx="343.1" cy="270.8" r="1.5"/><circle cx="322.5" cy="285.3" r="1.5"/><circle cx="355.3" cy="283.7" r="1.5"/><circle cx="324.2" cy="291.1" r="1.5"/><circle cx="354.2" cy="289.6" r="1.5"/><circle cx="325.4" cy="280.1" r="1.5"/><circle cx="351.8" cy="278.8" r="1.5"/><circle cx="328.1" cy="292" r="1.5"/><circle cx="350.3" cy="290.9" r="1.5"/><circle cx="333.9" cy="277.1" r="1.5"/><circle cx="343.1" cy="276.6" r="1.5"/><circle cx="330" cy="281.3" r="1.5"/><circle cx="347.4" cy="280.4" r="1.5"/><circle cx="331" cy="287.4" r="1.5"/><circle cx="347" cy="286.6" r="1.5"/><circle cx="338.6" cy="279.6" r="1.5"/><circle cx="335.3" cy="289.6" r="1.5"/><circle cx="343" cy="289.2" r="1.5"/><circle cx="338.9" cy="285.9" r="1.5"/></g>
<circle cx="383.4" cy="291.7" r="7.4" fill="url(#sg)"/><circle cx="389.5" cy="304.3" r="7.9" fill="url(#sg)"/><circle cx="331.8" cy="317.6" r="8" fill="url(#sg)"/><circle cx="374.1" cy="317.7" r="8.2" fill="url(#sg)"/><circle cx="303.8" cy="318.2" r="8.2" fill="url(#sg)"/><circle cx="359.3" cy="318.2" r="7.7" fill="url(#sg)"/><circle cx="388.7" cy="318.5" r="8" fill="url(#sg)"/><circle cx="345.4" cy="318.5" r="8" fill="url(#sg)"/><circle cx="317.6" cy="318.6" r="7.6" fill="url(#sg)"/><circle cx="371.4" cy="328.1" r="8.6" fill="url(#sg)"/><circle cx="327.9" cy="328.2" r="8.6" fill="url(#sg)"/><circle cx="314.5" cy="328.2" r="8.4" fill="url(#sg)"/><circle cx="357.3" cy="328.6" r="8" fill="url(#sg)"/><circle cx="343.7" cy="328.7" r="8.6" fill="url(#sg)"/>
<path d="M496.6 283.4L496.4 285.4M433.3 293L434.1 294.8M433.9 284.1L434.8 290.3M434.8 290.3L437.5 292M434.8 290.3L434.1 294.8M439.1 281.2L440 287.4M440 287.4L444.3 289.1M440 287.4L437.5 292M447.3 278.4L448.2 284.6M448.2 284.6L453.6 286.5M448.2 284.6L444.3 289.1M457.5 276L458.4 282.2M458.4 282.2L464.4 284.4M458.4 282.2L453.6 286.5M468.5 274.3L469.4 280.6M469.4 280.6L475.2 283.2M469.4 280.6L464.4 284.4M478.9 273.6L479.9 279.8M479.9 279.8L484.9 283M479.9 279.8L475.2 283.2M487.6 273.9L488.5 280.1M488.5 280.1L492.3 283.7M488.5 280.1L484.9 283M493.4 275.1L494.3 281.4M494.3 281.4L496.4 285.4M494.3 281.4L492.3 283.7M434.1 294.8L435 301.1M435 301.1L435.2 305.4M435 301.1L436.7 302.8M437.5 292L438.4 298.2M438.4 298.2L436.7 302.8M438.4 298.2L441.9 299.9M444.3 289.1L445.2 295.3M445.2 295.3L441.9 299.9M445.2 295.3L450.1 297.1M453.6 286.5L454.5 292.7M454.5 292.7L450.1 297.1M454.5 292.7L460.3 294.7M464.4 284.4L465.3 290.6M465.3 290.6L460.3 294.7M465.3 290.6L471.3 293M475.2 283.2L476.2 289.4M476.2 289.4L471.3 293M476.2 289.4L481.7 292.3M484.9 283L485.9 289.2M485.9 289.2L481.7 292.3M485.9 289.2L490.4 292.5M492.3 283.7L493.2 289.9M493.2 289.9L490.4 292.5M493.2 289.9L496.2 293.8M496.4 285.4L497.3 291.6M497.3 291.6L496.2 293.8M497.3 291.6L498.5 295.9M498.5 295.9L499.4 302.1M435.2 305.4L436.1 311.7M436.7 302.8L437.7 309M441.9 299.9L442.9 306.1M450.1 297.1L451 303.3M460.3 294.7L461.2 300.9M471.3 293L472.2 299.2M481.7 292.3L482.7 298.5M490.4 292.5L491.3 298.8M496.2 293.8L497.1 300" stroke="#a8a8a8" stroke-width="1.04" fill="none"/><path d="M432.3 286.1L432.8 285.9M433 280.7L434.3 281.8M433 280.7L433.1 275.1M433 280.7L432.8 285.9M435.7 277.4L437.7 279.8M435.7 277.4L436.3 271.4M435.7 277.4L434.3 281.8M435.1 270.1L436.3 271.4M435.1 270.1L437.2 265M435.1 270.1L433.1 275.1M440.1 276.7L442.6 280.4M440.1 276.7L441 270.6M440.1 276.7L437.7 279.8M439.3 267.8L441 270.6M439.3 267.8L441.6 262.5M439.3 267.8L436.3 271.4M440.7 261L441.6 262.5M440.7 261L444.4 256.9M440.7 261L437.2 265M445.5 278.6L446.7 272.8M445.5 278.6L442.6 280.4M444.7 268.5L446.7 272.8M444.7 268.5L447.2 263.2M444.7 268.5L441 270.6M445.9 260.1L447.2 263.2M445.9 260.1L449.7 255.9M445.9 260.1L441.6 262.5M449.1 254.3L449.7 255.9M449.1 254.3L453.9 251.7M449.1 254.3L444.4 256.9M450.7 272.2L452.7 277.5M450.7 272.2L453.2 267.2M450.7 272.2L446.7 272.8M451.8 262.5L453.2 267.2M451.8 262.5L455.6 258.5M451.8 262.5L447.2 263.2M454.8 255.1L455.6 258.5M454.8 255.1L459.6 252.6M454.8 255.1L449.7 255.9M459.3 250.9L459.6 252.6M459.3 250.9L464.7 250.1M459.3 250.9L453.9 251.7M457.8 268.1L459.1 273.8M457.8 268.1L461.3 264.4M457.8 268.1L453.2 267.2M460.6 259.5L461.3 264.4M460.6 259.5L465.1 257.1M460.6 259.5L455.6 258.5M464.8 253.6L465.1 257.1M464.8 253.6L469.9 252.9M464.8 253.6L459.6 252.6M470 251.1L469.9 252.9M470 251.1L475.3 252.2M470 251.1L464.7 250.1M465.8 266.8L466.3 272.7M465.8 266.8L469.9 264.7M465.8 266.8L461.3 264.4M469.9 259.8L469.9 264.7M469.9 259.8L474.5 259.1M469.9 259.8L465.1 257.1M474.8 255.7L474.5 259.1M474.8 255.7L479.6 256.7M474.8 255.7L469.9 252.9M480 255L479.6 256.7M480 255L484.6 257.8M480 255L475.3 252.2M473.8 268.7L473.4 274.4M473.8 268.7L477.8 268.1M473.8 268.7L469.9 264.7M478.5 263.4L477.8 268.1M478.5 263.4L482.6 264.4M478.5 263.4L474.5 259.1M483.4 261.1L482.6 264.4M483.4 261.1L487.4 263.7M483.4 261.1L479.6 256.7M488.1 262.1L487.4 263.7M488.1 262.1L491.4 266.3M488.1 262.1L484.6 257.8M480.6 273.3L484 274.1M480.6 273.3L477.8 268.1M485.3 269.9L484 274.1M485.3 269.9L488.5 272.2M485.3 269.9L482.6 264.4M489.7 269.3L488.5 272.2M489.7 269.3L492.3 273M489.7 269.3L487.4 263.7M493.3 271.6L492.3 273M493.3 271.6L494.9 276.5M493.3 271.6L491.4 266.3M495.5 276.5L494.9 276.5" stroke="#a8a8a8" stroke-width="1.1700000000000002" fill="none"/>
<circle cx="482.3" cy="284.9" r="7.2" fill="url(#sgd)"/><circle cx="469.4" cy="285.2" r="7.8" fill="url(#sgd)"/><circle cx="494.7" cy="285.8" r="7.3" fill="url(#sgd)"/><circle cx="487.5" cy="295.7" r="7.7" fill="url(#sgd)"/><circle cx="474.9" cy="295.7" r="8.2" fill="url(#sgd)"/><circle cx="499.4" cy="296.2" r="7.7" fill="url(#sgd)"/><circle cx="450.7" cy="296.7" r="7.8" fill="url(#sgd)"/><circle cx="462.1" cy="296.8" r="7.7" fill="url(#sgd)"/><circle cx="475.6" cy="307.4" r="8.4" fill="url(#sgd)"/><circle cx="451.2" cy="308.1" r="7.7" fill="url(#sgd)"/><circle cx="500.2" cy="308.2" r="8.2" fill="url(#sgd)"/><circle cx="487.7" cy="308.2" r="7.9" fill="url(#sgd)"/><circle cx="439.7" cy="308.5" r="8.2" fill="url(#sgd)"/><circle cx="464.7" cy="308.5" r="7.7" fill="url(#sgd)"/>
<path d="M495.6 277.2L496.6 283.4M496.6 283.4L496.8 287.8M494.1 279.9L495 286.1M495 286.1L493.3 290.7M495 286.1L496.8 287.8M488.9 282.8L489.9 289M489.9 289L486.6 293.6M489.9 289L493.3 290.7M480.7 285.6L481.7 291.8M481.7 291.8L477.2 296.2M481.7 291.8L486.6 293.6M470.5 288L471.5 294.2M471.5 294.2L466.5 298.3M471.5 294.2L477.2 296.2M459.5 289.7L460.5 295.9M460.5 295.9L455.6 299.5M460.5 295.9L466.5 298.3M449.1 290.4L450 296.6M450 296.6L445.9 299.7M450 296.6L455.6 299.5M440.4 290.1L441.4 296.3M441.4 296.3L438.5 298.9M441.4 296.3L445.9 299.7M434.6 288.9L435.6 295.1M435.6 295.1L434.4 297.2M435.6 295.1L438.5 298.9M432.4 286.8L433.3 293M433.3 293L434.4 297.2M496.8 287.8L497.7 294M497.7 294L498.5 295.9M497.7 294L496.9 298.5M493.3 290.7L494.3 296.9M494.3 296.9L496.9 298.5M494.3 296.9L491.7 301.5M486.6 293.6L487.5 299.8M487.5 299.8L491.7 301.5M487.5 299.8L483.5 304.3M477.2 296.2L478.2 302.4M478.2 302.4L483.5 304.3M478.2 302.4L473.3 306.7M466.5 298.3L467.4 304.5M467.4 304.5L473.3 306.7M467.4 304.5L462.4 308.3M455.6 299.5L456.5 305.7M456.5 305.7L462.4 308.3M456.5 305.7L451.9 309.1M445.9 299.7L446.8 305.9M446.8 305.9L451.9 309.1M446.8 305.9L443.3 308.8M438.5 298.9L439.5 305.2M439.5 305.2L443.3 308.8M439.5 305.2L437.4 307.5M434.4 297.2L435.4 303.5M435.4 303.5L437.4 307.5M435.4 303.5L435.2 305.4M496.9 298.5L497.9 304.8M491.7 301.5L492.7 307.7M483.5 304.3L484.5 310.5M473.3 306.7L474.3 312.9M462.4 308.3L463.3 314.5M451.9 309.1L452.8 315.3M443.3 308.8L444.2 315M437.4 307.5L438.4 313.8" stroke="#555" stroke-width="1.3" fill="none"/><g fill="#4e4e4e"><circle cx="495.6" cy="277.2" r="1.5"/><circle cx="494.1" cy="279.9" r="1.5"/><circle cx="495" cy="286.1" r="1.5"/><circle cx="488.9" cy="282.8" r="1.5"/><circle cx="489.9" cy="289" r="1.5"/><circle cx="480.7" cy="285.6" r="1.5"/><circle cx="481.7" cy="291.8" r="1.5"/><circle cx="470.5" cy="288" r="1.5"/><circle cx="471.5" cy="294.2" r="1.5"/><circle cx="459.5" cy="289.7" r="1.5"/><circle cx="460.5" cy="295.9" r="1.5"/><circle cx="449.1" cy="290.4" r="1.5"/><circle cx="450" cy="296.6" r="1.5"/><circle cx="440.4" cy="290.1" r="1.5"/><circle cx="441.4" cy="296.3" r="1.5"/><circle cx="434.6" cy="288.9" r="1.5"/><circle cx="435.6" cy="295.1" r="1.5"/><circle cx="432.4" cy="286.8" r="1.5"/><circle cx="496.8" cy="287.8" r="1.5"/><circle cx="497.7" cy="294" r="1.5"/><circle cx="493.3" cy="290.7" r="1.5"/><circle cx="494.3" cy="296.9" r="1.5"/><circle cx="486.6" cy="293.6" r="1.5"/><circle cx="487.5" cy="299.8" r="1.5"/><circle cx="477.2" cy="296.2" r="1.5"/><circle cx="478.2" cy="302.4" r="1.5"/><circle cx="466.5" cy="298.3" r="1.5"/><circle cx="467.4" cy="304.5" r="1.5"/><circle cx="455.6" cy="299.5" r="1.5"/><circle cx="456.5" cy="305.7" r="1.5"/><circle cx="445.9" cy="299.7" r="1.5"/><circle cx="446.8" cy="305.9" r="1.5"/><circle cx="438.5" cy="298.9" r="1.5"/><circle cx="439.5" cy="305.2" r="1.5"/><circle cx="434.4" cy="297.2" r="1.5"/><circle cx="435.4" cy="303.5" r="1.5"/><circle cx="496.9" cy="298.5" r="1.5"/><circle cx="497.9" cy="304.8" r="1.5"/><circle cx="491.7" cy="301.5" r="1.5"/><circle cx="492.7" cy="307.7" r="1.5"/><circle cx="483.5" cy="304.3" r="1.5"/><circle cx="484.5" cy="310.5" r="1.5"/><circle cx="473.3" cy="306.7" r="1.5"/><circle cx="474.3" cy="312.9" r="1.5"/><circle cx="462.4" cy="308.3" r="1.5"/><circle cx="463.3" cy="314.5" r="1.5"/><circle cx="451.9" cy="309.1" r="1.5"/><circle cx="452.8" cy="315.3" r="1.5"/><circle cx="443.3" cy="308.8" r="1.5"/><circle cx="444.2" cy="315" r="1.5"/><circle cx="437.4" cy="307.5" r="1.5"/><circle cx="438.4" cy="313.8" r="1.5"/></g><path d="M432.3 286.1L432 281M432.5 282.4L432 281M432.5 282.4L433.6 278.2M432.5 282.4L433.2 288.5M434.9 280.9L433.6 278.2M434.9 280.9L437.3 277.9M434.9 280.9L435.1 287.3M439.2 281.8L437.3 277.9M439.2 281.8L442.4 280.1M439.2 281.8L439 288.1M444.7 285L442.4 280.1M444.7 285L448.5 284.6M444.7 285L444.2 290.9M450.9 290.1L448.5 284.6M450.9 290.1L454.7 290.6M432.7 275.2L433.1 275.1M432.7 275.2L434.4 270.5M432.7 275.2L432 281M434.8 272.1L434.4 270.5M434.8 272.1L437.7 268.6M434.8 272.1L433.6 278.2M438.9 271.7L437.7 268.6M438.9 271.7L442.7 269.7M438.9 271.7L437.3 277.9M444.3 274.2L442.7 269.7M444.3 274.2L448.8 273.6M444.3 274.2L442.4 280.1M450.6 279.1L448.8 273.6M450.6 279.1L455.2 279.8M450.6 279.1L448.5 284.6M456.9 285.9L455.2 279.8M456.9 285.9L461.1 287.5M456.9 285.9L454.7 290.6M436.8 265.2L437.2 265M436.8 265.2L440.2 261.3M436.8 265.2L434.4 270.5M440.6 263.1L440.2 261.3M440.6 263.1L445 260.8M440.6 263.1L437.7 268.6M445.9 264.3L445 260.8M445.9 264.3L450.9 263.6M445.9 264.3L442.7 269.7M452.1 268.5L450.9 263.6M452.1 268.5L457.2 269.3M452.1 268.5L448.8 273.6M458.5 275.2L457.2 269.3M458.5 275.2L463.3 277.3M458.5 275.2L455.2 279.8M464.2 283.6L463.3 277.3M464.2 283.6L468.4 286.4M464.2 283.6L461.1 287.5M444.2 257.1L444.4 256.9M444.2 257.1L448.9 254.6M444.2 257.1L440.2 261.3M449.2 256.5L448.9 254.6M449.2 256.5L454.5 255.8M449.2 256.5L445 260.8M455.2 259.4L454.5 255.8M455.2 259.4L460.7 260.4M455.2 259.4L450.9 263.6M461.5 265.5L460.7 260.4M461.5 265.5L466.7 267.9M461.5 265.5L457.2 269.3M467.3 273.8L466.7 267.9M467.3 273.8L471.8 277.3M467.3 273.8L463.3 277.3M471.9 283.6L471.8 277.3M471.9 283.6L475.4 287.5M471.9 283.6L468.4 286.4M453.9 251.9L453.9 251.7M453.9 251.9L459.3 251.1M453.9 251.9L448.9 254.6M459.6 253.1L459.3 251.1M459.6 253.1L465.3 254.2M459.6 253.1L454.5 255.8M465.7 257.9L465.3 254.2M465.7 257.9L471.1 260.6M465.7 257.9L460.7 260.4M471.4 265.5L471.1 260.6M471.4 265.5L476.1 269.5M471.4 265.5L466.7 267.9M475.9 275.3L476.1 269.5M475.9 275.3L479.6 279.9M475.9 275.3L471.8 277.3M478.9 285.8L479.6 279.9M478.9 285.8L475.4 287.5M464.8 250.2L464.7 250.1M464.8 250.2L470.4 251.3M464.8 250.2L459.3 251.1M470.6 253.3L470.4 251.3M470.6 253.3L475.9 256.1M470.6 253.3L465.3 254.2M476 259.7L475.9 256.1M476 259.7L480.7 263.9M476 259.7L471.1 260.6M480.5 268.7L480.7 263.9M480.5 268.7L484.1 273.8M480.5 268.7L476.1 269.5M483.3 279.2L484.1 273.8M483.3 279.2L485.6 284.6M483.3 279.2L479.6 279.9M475.6 252.3L475.3 252.2M475.6 252.3L480.6 255.2M475.6 252.3L470.4 251.3M480.8 257L480.6 255.2M480.8 257L485.2 261.4M480.8 257L475.9 256.1M485 264.8L485.2 261.4M485 264.8L488.3 270.2M485 264.8L480.7 263.9M487.7 274.5L488.3 270.2M487.7 274.5L489.7 280.4M487.7 274.5L484.1 273.8M485 257.9L484.6 257.8M485 257.9L488.9 262.2M485 257.9L480.6 255.2M489 263.9L488.9 262.2M489 263.9L491.9 269.4M489 263.9L485.2 261.4M491.5 272.4L491.9 269.4M491.5 272.4L493.1 278.5M491.5 272.4L488.3 270.2M491.9 266.3L491.4 266.3M491.9 266.3L494.2 271.6M491.9 266.3L488.9 262.2M494.2 273.1L494.2 271.6M494.2 273.1L495.3 279.1M494.2 273.1L491.9 269.4M495.5 276.5L494.2 271.6" stroke="#555" stroke-width="1.3" fill="none"/><g fill="#4e4e4e"><circle cx="432.7" cy="275.2" r="1.5"/><circle cx="491.9" cy="266.3" r="1.5"/><circle cx="432" cy="281" r="1.5"/><circle cx="494.2" cy="271.6" r="1.5"/><circle cx="485" cy="257.9" r="1.5"/><circle cx="436.8" cy="265.2" r="1.5"/><circle cx="444.2" cy="257.1" r="1.5"/><circle cx="475.6" cy="252.3" r="1.5"/><circle cx="434.4" cy="270.5" r="1.5"/><circle cx="488.9" cy="262.2" r="1.5"/><circle cx="453.9" cy="251.9" r="1.5"/><circle cx="464.8" cy="250.2" r="1.5"/><circle cx="440.2" cy="261.3" r="1.5"/><circle cx="480.6" cy="255.2" r="1.5"/><circle cx="432.5" cy="282.4" r="1.5"/><circle cx="494.2" cy="273.1" r="1.5"/><circle cx="433.2" cy="288.5" r="1.5"/><circle cx="495.3" cy="279.1" r="1.5"/><circle cx="448.9" cy="254.6" r="1.5"/><circle cx="470.4" cy="251.3" r="1.5"/><circle cx="459.3" cy="251.1" r="1.5"/><circle cx="434.8" cy="272.1" r="1.5"/><circle cx="489" cy="263.9" r="1.5"/><circle cx="433.6" cy="278.2" r="1.5"/><circle cx="491.9" cy="269.4" r="1.5"/><circle cx="440.6" cy="263.1" r="1.5"/><circle cx="480.8" cy="257" r="1.5"/><circle cx="437.7" cy="268.6" r="1.5"/><circle cx="485.2" cy="261.4" r="1.5"/><circle cx="449.2" cy="256.5" r="1.5"/><circle cx="470.6" cy="253.3" r="1.5"/><circle cx="435.1" cy="287.3" r="1.5"/><circle cx="493.1" cy="278.5" r="1.5"/><circle cx="459.6" cy="253.1" r="1.5"/><circle cx="434.9" cy="280.9" r="1.5"/><circle cx="491.5" cy="272.4" r="1.5"/><circle cx="445" cy="260.8" r="1.5"/><circle cx="475.9" cy="256.1" r="1.5"/><circle cx="454.5" cy="255.8" r="1.5"/><circle cx="465.3" cy="254.2" r="1.5"/><circle cx="438.9" cy="271.7" r="1.5"/><circle cx="485" cy="264.8" r="1.5"/><circle cx="437.3" cy="277.9" r="1.5"/><circle cx="488.3" cy="270.2" r="1.5"/><circle cx="489.7" cy="280.4" r="1.5"/><circle cx="439" cy="288.1" r="1.5"/><circle cx="445.9" cy="264.3" r="1.5"/><circle cx="476" cy="259.7" r="1.5"/><circle cx="439.2" cy="281.8" r="1.5"/><circle cx="487.7" cy="274.5" r="1.5"/><circle cx="442.7" cy="269.7" r="1.5"/><circle cx="480.7" cy="263.9" r="1.5"/><circle cx="455.2" cy="259.4" r="1.5"/><circle cx="465.7" cy="257.9" r="1.5"/><circle cx="450.9" cy="263.6" r="1.5"/><circle cx="471.1" cy="260.6" r="1.5"/><circle cx="460.7" cy="260.4" r="1.5"/><circle cx="485.6" cy="284.6" r="1.5"/><circle cx="444.2" cy="290.9" r="1.5"/><circle cx="442.4" cy="280.1" r="1.5"/><circle cx="484.1" cy="273.8" r="1.5"/><circle cx="444.3" cy="274.2" r="1.5"/><circle cx="480.5" cy="268.7" r="1.5"/><circle cx="444.7" cy="285" r="1.5"/><circle cx="483.3" cy="279.2" r="1.5"/><circle cx="452.1" cy="268.5" r="1.5"/><circle cx="471.4" cy="265.5" r="1.5"/><circle cx="448.8" cy="273.6" r="1.5"/><circle cx="476.1" cy="269.5" r="1.5"/><circle cx="461.5" cy="265.5" r="1.5"/><circle cx="448.5" cy="284.6" r="1.5"/><circle cx="479.6" cy="279.9" r="1.5"/><circle cx="450.9" cy="290.1" r="1.5"/><circle cx="478.9" cy="285.8" r="1.5"/><circle cx="457.2" cy="269.3" r="1.5"/><circle cx="466.7" cy="267.9" r="1.5"/><circle cx="450.6" cy="279.1" r="1.5"/><circle cx="475.9" cy="275.3" r="1.5"/><circle cx="454.7" cy="290.6" r="1.5"/><circle cx="475.4" cy="287.5" r="1.5"/><circle cx="455.2" cy="279.8" r="1.5"/><circle cx="471.8" cy="277.3" r="1.5"/><circle cx="458.5" cy="275.2" r="1.5"/><circle cx="467.3" cy="273.8" r="1.5"/><circle cx="456.9" cy="285.9" r="1.5"/><circle cx="471.9" cy="283.6" r="1.5"/><circle cx="461.1" cy="287.5" r="1.5"/><circle cx="468.4" cy="286.4" r="1.5"/><circle cx="463.3" cy="277.3" r="1.5"/><circle cx="464.2" cy="283.6" r="1.5"/></g>
<circle cx="504.4" cy="292.4" r="7.7" fill="url(#sg)"/><circle cx="515.1" cy="302.7" r="7.7" fill="url(#sg)"/><circle cx="518.6" cy="311.9" r="8.3" fill="url(#sg)"/><circle cx="498" cy="311.9" r="7.8" fill="url(#sg)"/><circle cx="508.9" cy="312.1" r="7.5" fill="url(#sg)"/><circle cx="508" cy="320.3" r="8.4" fill="url(#sg)"/><circle cx="494.6" cy="320.5" r="7.9" fill="url(#sg)"/><circle cx="481.2" cy="320.8" r="8" fill="url(#sg)"/><circle cx="453.9" cy="320.9" r="8.2" fill="url(#sg)"/><circle cx="521.3" cy="320.9" r="7.9" fill="url(#sg)"/><circle cx="440.6" cy="321.1" r="7.6" fill="url(#sg)"/><circle cx="467.3" cy="321.2" r="8.1" fill="url(#sg)"/><circle cx="495.5" cy="326.3" r="8" fill="url(#sg)"/><circle cx="479.4" cy="326.4" r="8.4" fill="url(#sg)"/><circle cx="464.3" cy="327.1" r="8.3" fill="url(#sg)"/><circle cx="449.4" cy="327.7" r="8" fill="url(#sg)"/>
<path d="M631 284.9L630.5 286.7M571 284.9L571.5 286.7M572.8 276.8L572.8 282.7M572.8 282.7L575 284.6M572.8 282.7L571.5 286.7M578 274.8L578 280.7M578 280.7L581.7 282.8M578 280.7L575 284.6M586 273.3L586 279.2M586 279.2L590.7 281.7M586 279.2L581.7 282.8M595.8 272.5L595.8 278.4M595.8 278.4L601 281.3M595.8 278.4L590.7 281.7M606.2 272.5L606.2 278.4M606.2 278.4L611.3 281.7M606.2 278.4L601 281.3M616 273.3L616 279.2M616 279.2L620.3 282.8M616 279.2L611.3 281.7M624 274.8L624 280.7M624 280.7L627 284.6M624 280.7L620.3 282.8M629.2 276.8L629.2 282.7M629.2 282.7L630.5 286.7M629.2 282.7L627 284.6M571.5 286.7L571.5 292.6M571.5 292.6L571 296.7M571.5 292.6L572.8 294.5M575 284.6L575 290.5M575 290.5L572.8 294.5M575 290.5L578 292.5M581.7 282.8L581.7 288.7M581.7 288.7L578 292.5M581.7 288.7L586 291M590.7 281.7L590.7 287.6M590.7 287.6L586 291M590.7 287.6L595.8 290.2M601 281.3L601 287.2M601 287.2L595.8 290.2M601 287.2L606.2 290.2M611.3 281.7L611.3 287.6M611.3 287.6L606.2 290.2M611.3 287.6L616 291M620.3 282.8L620.3 288.7M620.3 288.7L616 291M620.3 288.7L624 292.5M627 284.6L627 290.5M627 290.5L624 292.5M627 290.5L629.2 294.5M630.5 286.7L630.5 292.6M630.5 292.6L629.2 294.5M630.5 292.6L631 296.7" stroke="#a8a8a8" stroke-width="1.04" fill="none"/><path d="M571.1 278.3L571.5 278.2M572.4 273.4L573.5 274.6M572.4 273.4L573.4 268.2M572.4 273.4L571.5 278.2M575.4 270.8L577 273.3M575.4 270.8L576.8 265.3M575.4 270.8L573.5 274.6M575.9 264L576.8 265.3M575.9 264L578.5 259.5M575.9 264L573.4 268.2M579.6 270.7L581.4 274.5M579.6 270.7L581.3 265.3M579.6 270.7L577 273.3M580.1 262.4L581.3 265.3M580.1 262.4L583 257.8M580.1 262.4L576.8 265.3M582.4 256.2L583 257.8M582.4 256.2L586.3 253M582.4 256.2L578.5 259.5M584.4 273.3L586.3 268M584.4 273.3L581.4 274.5M585 263.8L586.3 268M585 263.8L588.1 259.3M585 263.8L581.3 265.3M587.3 256.1L588.1 259.3M587.3 256.1L591.4 252.8M587.3 256.1L583 257.8M591.1 251.2L591.4 252.8M591.1 251.2L595.9 249.5M591.1 251.2L586.3 253M590 268L591.2 273.3M590 268L593.1 263.8M590 268L586.3 268M592.4 259.2L593.1 263.8M592.4 259.2L596.5 256.1M592.4 259.2L588.1 259.3M596.2 252.8L596.5 256.1M596.2 252.8L601 251.1M596.2 252.8L591.4 252.8M601 249.5L601 251.1M601 249.5L606.1 249.5M601 249.5L595.9 249.5M597.2 265.2L597.6 270.7M597.2 265.2L601 262.3M597.2 265.2L593.1 263.8M601 257.7L601 262.3M601 257.7L605.5 256.1M601 257.7L596.5 256.1M605.8 252.8L605.5 256.1M605.8 252.8L610.6 252.8M605.8 252.8L601 251.1M610.9 251.2L610.6 252.8M610.9 251.2L615.7 253M610.9 251.2L606.1 249.5M604.8 265.2L604.4 270.7M604.8 265.2L608.9 263.8M604.8 265.2L601 262.3M609.6 259.2L608.9 263.8M609.6 259.2L613.9 259.3M609.6 259.2L605.5 256.1M614.7 256.1L613.9 259.3M614.7 256.1L619 257.8M614.7 256.1L610.6 252.8M619.6 256.2L619 257.8M619.6 256.2L623.5 259.5M619.6 256.2L615.7 253M612 268L610.8 273.3M612 268L615.7 268M612 268L608.9 263.8M617 263.8L615.7 268M617 263.8L620.7 265.3M617 263.8L613.9 259.3M621.9 262.4L620.7 265.3M621.9 262.4L625.2 265.3M621.9 262.4L619 257.8M626.1 264L625.2 265.3M626.1 264L628.6 268.2M626.1 264L623.5 259.5M617.6 273.3L620.6 274.5M617.6 273.3L615.7 268M622.4 270.7L620.6 274.5M622.4 270.7L625 273.3M622.4 270.7L620.7 265.3M626.6 270.8L625 273.3M626.6 270.8L628.5 274.6M626.6 270.8L625.2 265.3M629.6 273.4L628.5 274.6M629.6 273.4L630.5 278.2M629.6 273.4L628.6 268.2M630.9 278.3L630.5 278.2" stroke="#a8a8a8" stroke-width="1.1700000000000002" fill="none"/>
<circle cx="619.3" cy="293.6" r="7.6" fill="url(#sgd)"/><circle cx="608.3" cy="294.3" r="7" fill="url(#sgd)"/><circle cx="630.7" cy="294.3" r="7.1" fill="url(#sgd)"/><circle cx="595.5" cy="294.4" r="7.9" fill="url(#sgd)"/><circle cx="585.5" cy="294.5" r="7.6" fill="url(#sgd)"/><circle cx="603" cy="302.3" r="7.4" fill="url(#sgd)"/><circle cx="615" cy="302.3" r="7.3" fill="url(#sgd)"/><circle cx="590.6" cy="302.9" r="7.4" fill="url(#sgd)"/><circle cx="639.4" cy="302.9" r="7.5" fill="url(#sgd)"/><circle cx="627.7" cy="303.4" r="8.1" fill="url(#sgd)"/><circle cx="577.7" cy="303.7" r="7.4" fill="url(#sgd)"/>
<path d="M631 279L631 284.9M631 284.9L630.5 289M629.2 281.2L629.2 287.1M629.2 287.1L627 291.1M629.2 287.1L630.5 289M624 283.2L624 289.1M624 289.1L620.3 292.9M624 289.1L627 291.1M616 284.7L616 290.6M616 290.6L611.3 294M616 290.6L620.3 292.9M606.2 285.5L606.2 291.4M606.2 291.4L601 294.4M606.2 291.4L611.3 294M595.8 285.5L595.8 291.4M595.8 291.4L590.7 294M595.8 291.4L601 294.4M586 284.7L586 290.6M586 290.6L581.7 292.9M586 290.6L590.7 294M578 283.2L578 289.1M578 289.1L575 291.1M578 289.1L581.7 292.9M572.8 281.2L572.8 287.1M572.8 287.1L571.5 289M572.8 287.1L575 291.1M571 279L571 284.9M571 284.9L571.5 289M630.5 289L630.5 294.9M630.5 294.9L631 296.7M630.5 294.9L629.2 298.9M627 291.1L627 297M627 297L629.2 298.9M627 297L624 300.9M620.3 292.9L620.3 298.8M620.3 298.8L624 300.9M620.3 298.8L616 302.4M611.3 294L611.3 299.9M611.3 299.9L616 302.4M611.3 299.9L606.2 303.2M601 294.4L601 300.3M601 300.3L606.2 303.2M601 300.3L595.8 303.2M590.7 294L590.7 299.9M590.7 299.9L595.8 303.2M590.7 299.9L586 302.4M581.7 292.9L581.7 298.8M581.7 298.8L586 302.4M581.7 298.8L578 300.9M575 291.1L575 297M575 297L578 300.9M575 297L572.8 298.9M571.5 289L571.5 294.9M571.5 294.9L572.8 298.9M571.5 294.9L571 296.7" stroke="#555" stroke-width="1.3" fill="none"/><g fill="#4e4e4e"><circle cx="631" cy="279" r="1.5"/><circle cx="629.2" cy="281.2" r="1.5"/><circle cx="629.2" cy="287.1" r="1.5"/><circle cx="624" cy="283.2" r="1.5"/><circle cx="624" cy="289.1" r="1.5"/><circle cx="616" cy="284.7" r="1.5"/><circle cx="616" cy="290.6" r="1.5"/><circle cx="606.2" cy="285.5" r="1.5"/><circle cx="606.2" cy="291.4" r="1.5"/><circle cx="595.8" cy="285.5" r="1.5"/><circle cx="595.8" cy="291.4" r="1.5"/><circle cx="586" cy="284.7" r="1.5"/><circle cx="586" cy="290.6" r="1.5"/><circle cx="578" cy="283.2" r="1.5"/><circle cx="578" cy="289.1" r="1.5"/><circle cx="572.8" cy="281.2" r="1.5"/><circle cx="572.8" cy="287.1" r="1.5"/><circle cx="571" cy="279" r="1.5"/><circle cx="630.5" cy="289" r="1.5"/><circle cx="630.5" cy="294.9" r="1.5"/><circle cx="627" cy="291.1" r="1.5"/><circle cx="627" cy="297" r="1.5"/><circle cx="620.3" cy="292.9" r="1.5"/><circle cx="620.3" cy="298.8" r="1.5"/><circle cx="611.3" cy="294" r="1.5"/><circle cx="611.3" cy="299.9" r="1.5"/><circle cx="601" cy="294.4" r="1.5"/><circle cx="601" cy="300.3" r="1.5"/><circle cx="590.7" cy="294" r="1.5"/><circle cx="590.7" cy="299.9" r="1.5"/><circle cx="581.7" cy="292.9" r="1.5"/><circle cx="581.7" cy="298.8" r="1.5"/><circle cx="575" cy="291.1" r="1.5"/><circle cx="575" cy="297" r="1.5"/><circle cx="571.5" cy="289" r="1.5"/><circle cx="571.5" cy="294.9" r="1.5"/><circle cx="629.2" cy="298.9" r="1.5"/><circle cx="624" cy="300.9" r="1.5"/><circle cx="616" cy="302.4" r="1.5"/><circle cx="606.2" cy="303.2" r="1.5"/><circle cx="595.8" cy="303.2" r="1.5"/><circle cx="586" cy="302.4" r="1.5"/><circle cx="578" cy="300.9" r="1.5"/><circle cx="572.8" cy="298.9" r="1.5"/></g><path d="M571.1 278.3L571.5 273.6M571.7 274.9L571.5 273.6M571.7 274.9L573.4 271.2M571.7 274.9L571.5 280.7M574.2 273.9L573.4 271.2M574.2 273.9L576.8 271.5M574.2 273.9L573.5 279.8M578 275.4L576.8 271.5M578 275.4L581.3 274.2M578 275.4L577 281.1M582.7 279.1L581.3 274.2M582.7 279.1L586.3 279.2M582.7 279.1L581.4 284.5M587.7 284.6L586.3 279.2M587.7 284.6L591.2 285.7M573 268.3L573.4 268.2M573 268.3L575.1 264.2M573 268.3L571.5 273.6M575.3 265.7L575.1 264.2M575.3 265.7L578.5 262.9M575.3 265.7L573.4 271.2M579.1 265.9L578.5 262.9M579.1 265.9L583 264.6M579.1 265.9L576.8 271.5M583.9 269L583 264.6M583.9 269L588.1 269.1M583.9 269L581.3 274.2M589 274.4L588.1 269.1M589 274.4L593.1 275.7M589 274.4L586.3 279.2M593.9 281.6L593.1 275.7M593.9 281.6L597.6 283.7M593.9 281.6L591.2 285.7M578.2 259.6L578.5 259.5M578.2 259.6L581.8 256.5M578.2 259.6L575.1 264.2M582 258.2L581.8 256.5M582 258.2L586.3 256.7M582 258.2L578.5 262.9M586.7 260L586.3 256.7M586.7 260L591.4 260.1M586.7 260L583 264.6M591.9 264.8L591.4 260.1M591.9 264.8L596.5 266.3M591.9 264.8L588.1 269.1M596.8 271.9L596.5 266.3M596.8 271.9L601 274.5M596.8 271.9L593.1 275.7M601 280.5L601 274.5M601 280.5L604.4 283.7M601 280.5L597.6 283.7M586.1 253.1L586.3 253M586.1 253.1L590.8 251.5M586.1 253.1L581.8 256.5M590.9 253.3L590.8 251.5M590.9 253.3L595.9 253.4M590.9 253.3L586.3 256.7M596 256.9L595.9 253.4M596 256.9L601 258.6M596 256.9L591.4 260.1M601 263.3L601 258.6M601 263.3L605.5 266.3M601 263.3L596.5 266.3M605.2 271.9L605.5 266.3M605.2 271.9L608.9 275.7M605.2 271.9L601 274.5M608.1 281.6L608.9 275.7M608.1 281.6L610.8 285.7M608.1 281.6L604.4 283.7M595.8 249.7L595.9 249.5M595.8 249.7L601 249.7M595.8 249.7L590.8 251.5M601 251.6L601 249.7M601 251.6L606.1 253.4M601 251.6L595.9 253.4M606 256.9L606.1 253.4M606 256.9L610.6 260.1M606 256.9L601 258.6M610.1 264.8L610.6 260.1M610.1 264.8L613.9 269.1M610.1 264.8L605.5 266.3M613 274.4L613.9 269.1M613 274.4L615.7 279.2M613 274.4L608.9 275.7M614.3 284.6L615.7 279.2M614.3 284.6L610.8 285.7M606.2 249.7L606.1 249.5M606.2 249.7L611.2 251.5M606.2 249.7L601 249.7M611.1 253.3L611.2 251.5M611.1 253.3L615.7 256.7M611.1 253.3L606.1 253.4M615.3 260L615.7 256.7M615.3 260L619 264.6M615.3 260L610.6 260.1M618.1 269L619 264.6M618.1 269L620.7 274.2M618.1 269L613.9 269.1M619.3 279.1L620.7 274.2M619.3 279.1L620.6 284.5M619.3 279.1L615.7 279.2M615.9 253.1L615.7 253M615.9 253.1L620.2 256.5M615.9 253.1L611.2 251.5M620 258.2L620.2 256.5M620 258.2L623.5 262.9M620 258.2L615.7 256.7M622.9 265.9L623.5 262.9M622.9 265.9L625.2 271.5M622.9 265.9L619 264.6M624 275.4L625.2 271.5M624 275.4L625 281.1M624 275.4L620.7 274.2M623.8 259.6L623.5 259.5M623.8 259.6L626.9 264.2M623.8 259.6L620.2 256.5M626.7 265.7L626.9 264.2M626.7 265.7L628.6 271.2M626.7 265.7L623.5 262.9M627.8 273.9L628.6 271.2M627.8 273.9L628.5 279.8M627.8 273.9L625.2 271.5M629 268.3L628.6 268.2M629 268.3L630.5 273.6M629 268.3L626.9 264.2M630.3 274.9L630.5 273.6M630.3 274.9L630.5 280.7M630.3 274.9L628.6 271.2M630.9 278.3L630.5 273.6" stroke="#555" stroke-width="1.3" fill="none"/><g fill="#4e4e4e"><circle cx="573" cy="268.3" r="1.5"/><circle cx="629" cy="268.3" r="1.5"/><circle cx="571.5" cy="273.6" r="1.5"/><circle cx="630.5" cy="273.6" r="1.5"/><circle cx="578.2" cy="259.6" r="1.5"/><circle cx="623.8" cy="259.6" r="1.5"/><circle cx="586.1" cy="253.1" r="1.5"/><circle cx="615.9" cy="253.1" r="1.5"/><circle cx="575.1" cy="264.2" r="1.5"/><circle cx="626.9" cy="264.2" r="1.5"/><circle cx="595.8" cy="249.7" r="1.5"/><circle cx="606.2" cy="249.7" r="1.5"/><circle cx="581.8" cy="256.5" r="1.5"/><circle cx="620.2" cy="256.5" r="1.5"/><circle cx="571.7" cy="274.9" r="1.5"/><circle cx="630.3" cy="274.9" r="1.5"/><circle cx="630.5" cy="280.7" r="1.5"/><circle cx="571.5" cy="280.7" r="1.5"/><circle cx="590.8" cy="251.5" r="1.5"/><circle cx="611.2" cy="251.5" r="1.5"/><circle cx="601" cy="249.7" r="1.5"/><circle cx="575.3" cy="265.7" r="1.5"/><circle cx="626.7" cy="265.7" r="1.5"/><circle cx="573.4" cy="271.2" r="1.5"/><circle cx="628.6" cy="271.2" r="1.5"/><circle cx="582" cy="258.2" r="1.5"/><circle cx="620" cy="258.2" r="1.5"/><circle cx="578.5" cy="262.9" r="1.5"/><circle cx="623.5" cy="262.9" r="1.5"/><circle cx="590.9" cy="253.3" r="1.5"/><circle cx="611.1" cy="253.3" r="1.5"/><circle cx="628.5" cy="279.8" r="1.5"/><circle cx="573.5" cy="279.8" r="1.5"/><circle cx="601" cy="251.6" r="1.5"/><circle cx="574.2" cy="273.9" r="1.5"/><circle cx="627.8" cy="273.9" r="1.5"/><circle cx="586.3" cy="256.7" r="1.5"/><circle cx="615.7" cy="256.7" r="1.5"/><circle cx="595.9" cy="253.4" r="1.5"/><circle cx="606.1" cy="253.4" r="1.5"/><circle cx="579.1" cy="265.9" r="1.5"/><circle cx="622.9" cy="265.9" r="1.5"/><circle cx="576.8" cy="271.5" r="1.5"/><circle cx="625.2" cy="271.5" r="1.5"/><circle cx="625" cy="281.1" r="1.5"/><circle cx="577" cy="281.1" r="1.5"/><circle cx="586.7" cy="260" r="1.5"/><circle cx="615.3" cy="260" r="1.5"/><circle cx="578" cy="275.4" r="1.5"/><circle cx="624" cy="275.4" r="1.5"/><circle cx="583" cy="264.6" r="1.5"/><circle cx="619" cy="264.6" r="1.5"/><circle cx="596" cy="256.9" r="1.5"/><circle cx="606" cy="256.9" r="1.5"/><circle cx="591.4" cy="260.1" r="1.5"/><circle cx="610.6" cy="260.1" r="1.5"/><circle cx="601" cy="258.6" r="1.5"/><circle cx="620.6" cy="284.5" r="1.5"/><circle cx="581.4" cy="284.5" r="1.5"/><circle cx="581.3" cy="274.2" r="1.5"/><circle cx="620.7" cy="274.2" r="1.5"/><circle cx="583.9" cy="269" r="1.5"/><circle cx="618.1" cy="269" r="1.5"/><circle cx="582.7" cy="279.1" r="1.5"/><circle cx="619.3" cy="279.1" r="1.5"/><circle cx="591.9" cy="264.8" r="1.5"/><circle cx="610.1" cy="264.8" r="1.5"/><circle cx="588.1" cy="269.1" r="1.5"/><circle cx="613.9" cy="269.1" r="1.5"/><circle cx="601" cy="263.3" r="1.5"/><circle cx="586.3" cy="279.2" r="1.5"/><circle cx="615.7" cy="279.2" r="1.5"/><circle cx="587.7" cy="284.6" r="1.5"/><circle cx="614.3" cy="284.6" r="1.5"/><circle cx="596.5" cy="266.3" r="1.5"/><circle cx="605.5" cy="266.3" r="1.5"/><circle cx="589" cy="274.4" r="1.5"/><circle cx="613" cy="274.4" r="1.5"/><circle cx="591.2" cy="285.7" r="1.5"/><circle cx="610.8" cy="285.7" r="1.5"/><circle cx="593.1" cy="275.7" r="1.5"/><circle cx="608.9" cy="275.7" r="1.5"/><circle cx="596.8" cy="271.9" r="1.5"/><circle cx="605.2" cy="271.9" r="1.5"/><circle cx="593.9" cy="281.6" r="1.5"/><circle cx="608.1" cy="281.6" r="1.5"/><circle cx="597.6" cy="283.7" r="1.5"/><circle cx="604.4" cy="283.7" r="1.5"/><circle cx="601" cy="274.5" r="1.5"/><circle cx="601" cy="280.5" r="1.5"/></g>
<circle cx="645.2" cy="303" r="8.1" fill="url(#sg)"/><circle cx="570.8" cy="313.3" r="8.1" fill="url(#sg)"/><circle cx="637.2" cy="313.8" r="8.1" fill="url(#sg)"/><circle cx="624.7" cy="314" r="7.6" fill="url(#sg)"/><circle cx="610.6" cy="314.1" r="7.7" fill="url(#sg)"/><circle cx="598.3" cy="314.1" r="8" fill="url(#sg)"/><circle cx="583.8" cy="314.2" r="7.9" fill="url(#sg)"/><circle cx="650.5" cy="314.3" r="8.1" fill="url(#sg)"/><circle cx="625.5" cy="323.2" r="8.5" fill="url(#sg)"/><circle cx="639.3" cy="323.4" r="8.8" fill="url(#sg)"/><circle cx="610.6" cy="324" r="8.1" fill="url(#sg)"/><circle cx="594.4" cy="324.2" r="8.1" fill="url(#sg)"/><circle cx="579.3" cy="324.3" r="7.9" fill="url(#sg)"/>
<path d="M40.4 343.7H638.5V328.6L669.6 359.2L638.5 389.7V374.5H40.4Z" fill="url(#arr)"/>
<text x="77.6" y="364" font-size="18" font-weight="bold" fill="#000">Encapsulation</text>
<text x="529.7" y="364" font-size="18" font-weight="bold" fill="#000">Cap lift-off</text>
<text x="186.1" y="400.6" font-size="18" font-weight="bold" fill="#000">Incrasing catalyst-substrate interactions</text>
</svg>
</body></html>
